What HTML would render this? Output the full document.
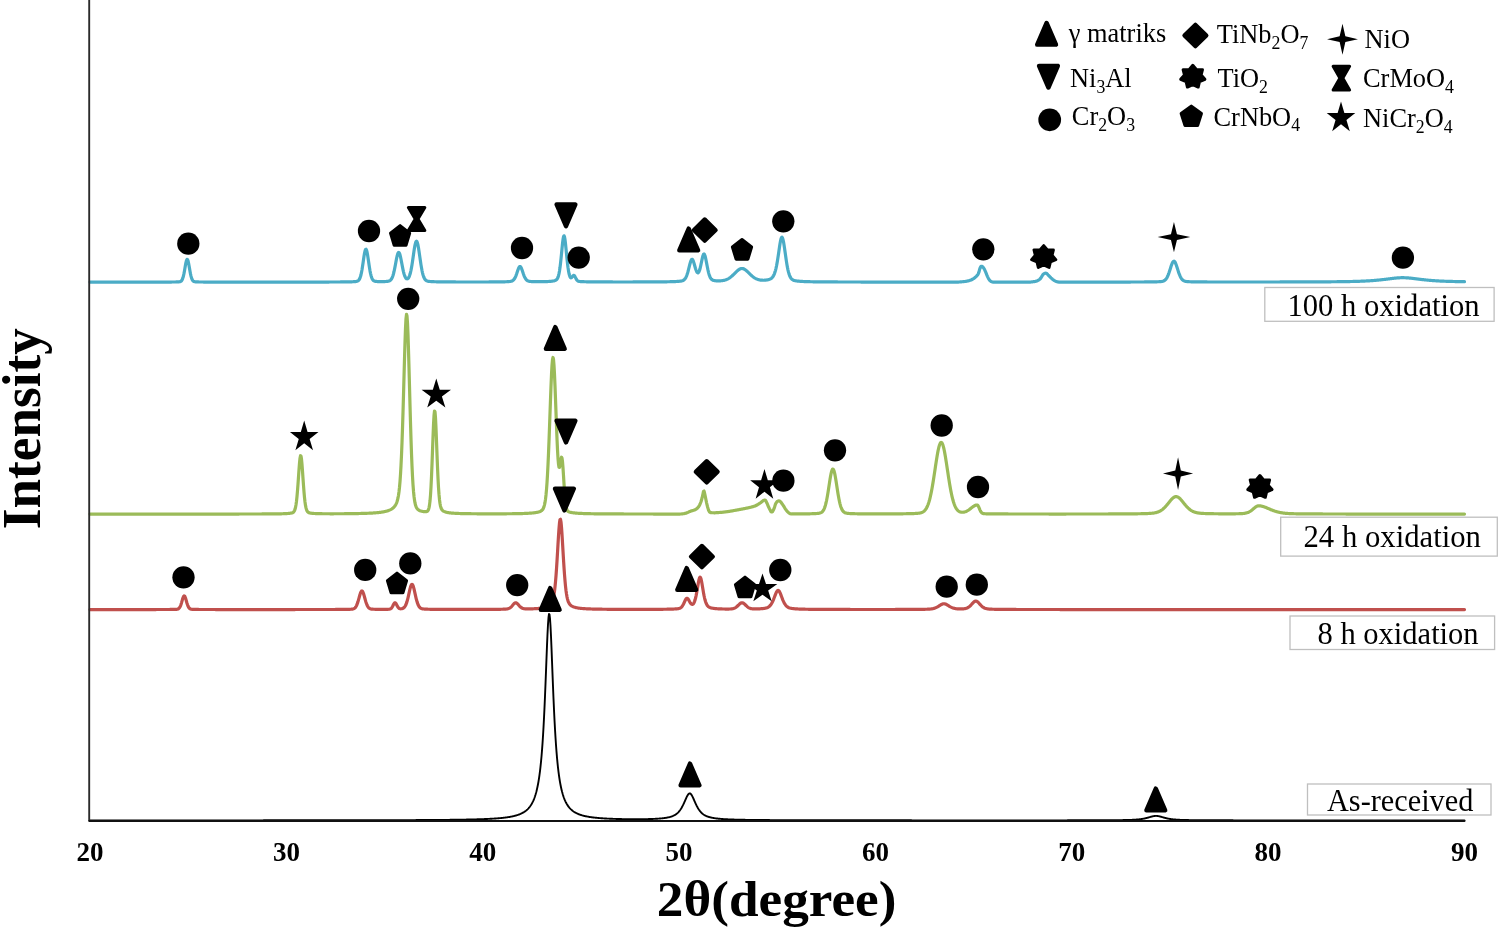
<!DOCTYPE html>
<html><head><meta charset="utf-8"><title>XRD patterns</title>
<style>html,body{margin:0;padding:0;background:#fff}svg{display:block}</style></head>
<body>
<svg width="1500" height="931" viewBox="0 0 1500 931" font-family="'Liberation Serif','Times New Roman',serif">
<defs>
<circle id="mc" r="11.15"/>
<path id="mtu" d="M0,-10.85 L9.4,10.85 L-9.4,10.85Z" stroke="#000" stroke-width="4.4" stroke-linejoin="round"/>
<path id="mtd" d="M0,10.85 L9.4,-10.85 L-9.4,-10.85Z" stroke="#000" stroke-width="4.4" stroke-linejoin="round"/>
<path id="md" d="M0,-10.8 L11.05,0 L0,10.8 L-11.05,0Z" stroke="#000" stroke-width="4" stroke-linejoin="round"/>
<path id="mp" d="M0.00,-9.85 L9.60,-2.32 L5.94,9.85 L-5.94,9.85 L-9.60,-2.32Z" stroke="#000" stroke-width="3" stroke-linejoin="round"/>
<path id="mh" d="M-8.25,-11.55 L8.25,-11.55 L1.4,0 L8.25,11.55 L-8.25,11.55 L-1.4,0Z" stroke="#000" stroke-width="3" stroke-linejoin="round"/>
<path id="ms5" d="M0.00,-16.50 L3.37,-5.10 L14.27,-5.10 L5.45,1.95 L8.82,13.35 L0.00,6.30 L-8.82,13.35 L-5.45,1.95 L-14.27,-5.10 L-3.37,-5.10Z"/>
<path id="ms4" d="M0,-15.5 L2.85,-2.85 L15.5,0 L2.85,2.85 L0,15.5 L-2.85,2.85 L-15.5,0 L-2.85,-2.85Z"/>
<path id="ms8" d="M0.00,-11.40 L3.71,-7.09 L9.69,-7.11 L8.34,-1.75 L12.09,2.54 L6.69,4.90 L5.38,10.27 L0.00,7.87 L-5.38,10.27 L-6.69,4.90 L-12.09,2.54 L-8.34,-1.75 L-9.69,-7.11 L-3.71,-7.09Z" stroke="#000" stroke-width="3" stroke-linejoin="round"/>
</defs>
<rect width="1500" height="931" fill="#fff"/>
<g fill="none" stroke-linejoin="round" stroke-linecap="round">
<path d="M90.0,820.37 L90.5,820.37 L91.0,820.37 L91.5,820.37 L92.0,820.37 L92.5,820.37 L93.0,820.37 L93.5,820.37 L94.0,820.37 L94.5,820.37 L95.0,820.37 L95.5,820.37 L96.0,820.37 L96.5,820.37 L97.0,820.37 L97.5,820.37 L98.0,820.37 L98.5,820.37 L99.0,820.37 L99.5,820.37 L100.0,820.37 L100.5,820.37 L101.0,820.37 L101.5,820.37 L102.0,820.37 L102.5,820.37 L103.0,820.37 L103.5,820.37 L104.0,820.37 L104.5,820.37 L105.0,820.37 L105.5,820.37 L106.0,820.37 L106.5,820.37 L107.0,820.37 L107.5,820.37 L108.0,820.37 L108.5,820.37 L109.0,820.37 L109.5,820.37 L110.0,820.37 L110.5,820.37 L111.0,820.37 L111.5,820.37 L112.0,820.37 L112.5,820.37 L113.0,820.37 L113.5,820.37 L114.0,820.37 L114.5,820.37 L115.0,820.37 L115.5,820.37 L116.0,820.37 L116.5,820.37 L117.0,820.37 L117.5,820.37 L118.0,820.37 L118.5,820.37 L119.0,820.37 L119.5,820.37 L120.0,820.37 L120.5,820.37 L121.0,820.37 L121.5,820.37 L122.0,820.37 L122.5,820.37 L123.0,820.37 L123.5,820.37 L124.0,820.37 L124.5,820.37 L125.0,820.36 L125.5,820.36 L126.0,820.36 L126.5,820.36 L127.0,820.36 L127.5,820.36 L128.0,820.36 L128.5,820.36 L129.0,820.36 L129.5,820.36 L130.0,820.36 L130.5,820.36 L131.0,820.36 L131.5,820.36 L132.0,820.36 L132.5,820.36 L133.0,820.36 L133.5,820.36 L134.0,820.36 L134.5,820.36 L135.0,820.36 L135.5,820.36 L136.0,820.36 L136.5,820.36 L137.0,820.36 L137.5,820.36 L138.0,820.36 L138.5,820.36 L139.0,820.36 L139.5,820.36 L140.0,820.36 L140.5,820.36 L141.0,820.36 L141.5,820.36 L142.0,820.36 L142.5,820.36 L143.0,820.36 L143.5,820.36 L144.0,820.36 L144.5,820.36 L145.0,820.36 L145.5,820.36 L146.0,820.36 L146.5,820.36 L147.0,820.36 L147.5,820.36 L148.0,820.36 L148.5,820.36 L149.0,820.36 L149.5,820.36 L150.0,820.36 L150.5,820.36 L151.0,820.36 L151.5,820.36 L152.0,820.36 L152.5,820.36 L153.0,820.36 L153.5,820.36 L154.0,820.36 L154.5,820.36 L155.0,820.36 L155.5,820.36 L156.0,820.36 L156.5,820.36 L157.0,820.36 L157.5,820.36 L158.0,820.36 L158.5,820.36 L159.0,820.36 L159.5,820.36 L160.0,820.36 L160.5,820.36 L161.0,820.36 L161.5,820.36 L162.0,820.36 L162.5,820.36 L163.0,820.36 L163.5,820.36 L164.0,820.36 L164.5,820.36 L165.0,820.36 L165.5,820.36 L166.0,820.36 L166.5,820.36 L167.0,820.36 L167.5,820.36 L168.0,820.36 L168.5,820.36 L169.0,820.36 L169.5,820.36 L170.0,820.36 L170.5,820.36 L171.0,820.36 L171.5,820.36 L172.0,820.36 L172.5,820.36 L173.0,820.36 L173.5,820.36 L174.0,820.36 L174.5,820.36 L175.0,820.36 L175.5,820.36 L176.0,820.36 L176.5,820.36 L177.0,820.35 L177.5,820.35 L178.0,820.35 L178.5,820.35 L179.0,820.35 L179.5,820.35 L180.0,820.35 L180.5,820.35 L181.0,820.35 L181.5,820.35 L182.0,820.35 L182.5,820.35 L183.0,820.35 L183.5,820.35 L184.0,820.35 L184.5,820.35 L185.0,820.35 L185.5,820.35 L186.0,820.35 L186.5,820.35 L187.0,820.35 L187.5,820.35 L188.0,820.35 L188.5,820.35 L189.0,820.35 L189.5,820.35 L190.0,820.35 L190.5,820.35 L191.0,820.35 L191.5,820.35 L192.0,820.35 L192.5,820.35 L193.0,820.35 L193.5,820.35 L194.0,820.35 L194.5,820.35 L195.0,820.35 L195.5,820.35 L196.0,820.35 L196.5,820.35 L197.0,820.35 L197.5,820.35 L198.0,820.35 L198.5,820.35 L199.0,820.35 L199.5,820.35 L200.0,820.35 L200.5,820.35 L201.0,820.35 L201.5,820.35 L202.0,820.35 L202.5,820.35 L203.0,820.35 L203.5,820.35 L204.0,820.35 L204.5,820.35 L205.0,820.35 L205.5,820.35 L206.0,820.35 L206.5,820.35 L207.0,820.35 L207.5,820.35 L208.0,820.35 L208.5,820.35 L209.0,820.35 L209.5,820.35 L210.0,820.35 L210.5,820.35 L211.0,820.35 L211.5,820.35 L212.0,820.35 L212.5,820.35 L213.0,820.35 L213.5,820.35 L214.0,820.34 L214.5,820.34 L215.0,820.34 L215.5,820.34 L216.0,820.34 L216.5,820.34 L217.0,820.34 L217.5,820.34 L218.0,820.34 L218.5,820.34 L219.0,820.34 L219.5,820.34 L220.0,820.34 L220.5,820.34 L221.0,820.34 L221.5,820.34 L222.0,820.34 L222.5,820.34 L223.0,820.34 L223.5,820.34 L224.0,820.34 L224.5,820.34 L225.0,820.34 L225.5,820.34 L226.0,820.34 L226.5,820.34 L227.0,820.34 L227.5,820.34 L228.0,820.34 L228.5,820.34 L229.0,820.34 L229.5,820.34 L230.0,820.34 L230.5,820.34 L231.0,820.34 L231.5,820.34 L232.0,820.34 L232.5,820.34 L233.0,820.34 L233.5,820.34 L234.0,820.34 L234.5,820.34 L235.0,820.34 L235.5,820.34 L236.0,820.34 L236.5,820.34 L237.0,820.34 L237.5,820.34 L238.0,820.34 L238.5,820.34 L239.0,820.34 L239.5,820.34 L240.0,820.34 L240.5,820.34 L241.0,820.34 L241.5,820.33 L242.0,820.33 L242.5,820.33 L243.0,820.33 L243.5,820.33 L244.0,820.33 L244.5,820.33 L245.0,820.33 L245.5,820.33 L246.0,820.33 L246.5,820.33 L247.0,820.33 L247.5,820.33 L248.0,820.33 L248.5,820.33 L249.0,820.33 L249.5,820.33 L250.0,820.33 L250.5,820.33 L251.0,820.33 L251.5,820.33 L252.0,820.33 L252.5,820.33 L253.0,820.33 L253.5,820.33 L254.0,820.33 L254.5,820.33 L255.0,820.33 L255.5,820.33 L256.0,820.33 L256.5,820.33 L257.0,820.33 L257.5,820.33 L258.0,820.33 L258.5,820.33 L259.0,820.33 L259.5,820.33 L260.0,820.33 L260.5,820.33 L261.0,820.33 L261.5,820.33 L262.0,820.33 L262.5,820.33 L263.0,820.33 L263.5,820.32 L264.0,820.32 L264.5,820.32 L265.0,820.32 L265.5,820.32 L266.0,820.32 L266.5,820.32 L267.0,820.32 L267.5,820.32 L268.0,820.32 L268.5,820.32 L269.0,820.32 L269.5,820.32 L270.0,820.32 L270.5,820.32 L271.0,820.32 L271.5,820.32 L272.0,820.32 L272.5,820.32 L273.0,820.32 L273.5,820.32 L274.0,820.32 L274.5,820.32 L275.0,820.32 L275.5,820.32 L276.0,820.32 L276.5,820.32 L277.0,820.32 L277.5,820.32 L278.0,820.32 L278.5,820.32 L279.0,820.32 L279.5,820.32 L280.0,820.32 L280.5,820.32 L281.0,820.32 L281.5,820.31 L282.0,820.31 L282.5,820.31 L283.0,820.31 L283.5,820.31 L284.0,820.31 L284.5,820.31 L285.0,820.31 L285.5,820.31 L286.0,820.31 L286.5,820.31 L287.0,820.31 L287.5,820.31 L288.0,820.31 L288.5,820.31 L289.0,820.31 L289.5,820.31 L290.0,820.31 L290.5,820.31 L291.0,820.31 L291.5,820.31 L292.0,820.31 L292.5,820.31 L293.0,820.31 L293.5,820.31 L294.0,820.31 L294.5,820.31 L295.0,820.31 L295.5,820.31 L296.0,820.31 L296.5,820.30 L297.0,820.30 L297.5,820.30 L298.0,820.30 L298.5,820.30 L299.0,820.30 L299.5,820.30 L300.0,820.30 L300.5,820.30 L301.0,820.30 L301.5,820.30 L302.0,820.30 L302.5,820.30 L303.0,820.30 L303.5,820.30 L304.0,820.30 L304.5,820.30 L305.0,820.30 L305.5,820.30 L306.0,820.30 L306.5,820.30 L307.0,820.30 L307.5,820.30 L308.0,820.30 L308.5,820.30 L309.0,820.30 L309.5,820.29 L310.0,820.29 L310.5,820.29 L311.0,820.29 L311.5,820.29 L312.0,820.29 L312.5,820.29 L313.0,820.29 L313.5,820.29 L314.0,820.29 L314.5,820.29 L315.0,820.29 L315.5,820.29 L316.0,820.29 L316.5,820.29 L317.0,820.29 L317.5,820.29 L318.0,820.29 L318.5,820.29 L319.0,820.29 L319.5,820.29 L320.0,820.29 L320.5,820.28 L321.0,820.28 L321.5,820.28 L322.0,820.28 L322.5,820.28 L323.0,820.28 L323.5,820.28 L324.0,820.28 L324.5,820.28 L325.0,820.28 L325.5,820.28 L326.0,820.28 L326.5,820.28 L327.0,820.28 L327.5,820.28 L328.0,820.28 L328.5,820.28 L329.0,820.28 L329.5,820.28 L330.0,820.28 L330.5,820.27 L331.0,820.27 L331.5,820.27 L332.0,820.27 L332.5,820.27 L333.0,820.27 L333.5,820.27 L334.0,820.27 L334.5,820.27 L335.0,820.27 L335.5,820.27 L336.0,820.27 L336.5,820.27 L337.0,820.27 L337.5,820.27 L338.0,820.27 L338.5,820.27 L339.0,820.26 L339.5,820.26 L340.0,820.26 L340.5,820.26 L341.0,820.26 L341.5,820.26 L342.0,820.26 L342.5,820.26 L343.0,820.26 L343.5,820.26 L344.0,820.26 L344.5,820.26 L345.0,820.26 L345.5,820.26 L346.0,820.26 L346.5,820.25 L347.0,820.25 L347.5,820.25 L348.0,820.25 L348.5,820.25 L349.0,820.25 L349.5,820.25 L350.0,820.25 L350.5,820.25 L351.0,820.25 L351.5,820.25 L352.0,820.25 L352.5,820.25 L353.0,820.25 L353.5,820.24 L354.0,820.24 L354.5,820.24 L355.0,820.24 L355.5,820.24 L356.0,820.24 L356.5,820.24 L357.0,820.24 L357.5,820.24 L358.0,820.24 L358.5,820.24 L359.0,820.24 L359.5,820.23 L360.0,820.23 L360.5,820.23 L361.0,820.23 L361.5,820.23 L362.0,820.23 L362.5,820.23 L363.0,820.23 L363.5,820.23 L364.0,820.23 L364.5,820.23 L365.0,820.23 L365.5,820.22 L366.0,820.22 L366.5,820.22 L367.0,820.22 L367.5,820.22 L368.0,820.22 L368.5,820.22 L369.0,820.22 L369.5,820.22 L370.0,820.22 L370.5,820.21 L371.0,820.21 L371.5,820.21 L372.0,820.21 L372.5,820.21 L373.0,820.21 L373.5,820.21 L374.0,820.21 L374.5,820.21 L375.0,820.21 L375.5,820.20 L376.0,820.20 L376.5,820.20 L377.0,820.20 L377.5,820.20 L378.0,820.20 L378.5,820.20 L379.0,820.20 L379.5,820.20 L380.0,820.19 L380.5,820.19 L381.0,820.19 L381.5,820.19 L382.0,820.19 L382.5,820.19 L383.0,820.19 L383.5,820.19 L384.0,820.18 L384.5,820.18 L385.0,820.18 L385.5,820.18 L386.0,820.18 L386.5,820.18 L387.0,820.18 L387.5,820.18 L388.0,820.17 L388.5,820.17 L389.0,820.17 L389.5,820.17 L390.0,820.17 L390.5,820.17 L391.0,820.17 L391.5,820.16 L392.0,820.16 L392.5,820.16 L393.0,820.16 L393.5,820.16 L394.0,820.16 L394.5,820.16 L395.0,820.15 L395.5,820.15 L396.0,820.15 L396.5,820.15 L397.0,820.15 L397.5,820.15 L398.0,820.14 L398.5,820.14 L399.0,820.14 L399.5,820.14 L400.0,820.14 L400.5,820.14 L401.0,820.13 L401.5,820.13 L402.0,820.13 L402.5,820.13 L403.0,820.13 L403.5,820.13 L404.0,820.12 L404.5,820.12 L405.0,820.12 L405.5,820.12 L406.0,820.12 L406.5,820.11 L407.0,820.11 L407.5,820.11 L408.0,820.11 L408.5,820.11 L409.0,820.10 L409.5,820.10 L410.0,820.10 L410.5,820.10 L411.0,820.10 L411.5,820.09 L412.0,820.09 L412.5,820.09 L413.0,820.09 L413.5,820.08 L414.0,820.08 L414.5,820.08 L415.0,820.08 L415.5,820.08 L416.0,820.07 L416.5,820.07 L417.0,820.07 L417.5,820.07 L418.0,820.06 L418.5,820.06 L419.0,820.06 L419.5,820.06 L420.0,820.05 L420.5,820.05 L421.0,820.05 L421.5,820.05 L422.0,820.04 L422.5,820.04 L423.0,820.04 L423.5,820.03 L424.0,820.03 L424.5,820.03 L425.0,820.03 L425.5,820.02 L426.0,820.02 L426.5,820.02 L427.0,820.01 L427.5,820.01 L428.0,820.01 L428.5,820.00 L429.0,820.00 L429.5,820.00 L430.0,819.99 L430.5,819.99 L431.0,819.99 L431.5,819.98 L432.0,819.98 L432.5,819.98 L433.0,819.97 L433.5,819.97 L434.0,819.97 L434.5,819.96 L435.0,819.96 L435.5,819.96 L436.0,819.95 L436.5,819.95 L437.0,819.94 L437.5,819.94 L438.0,819.94 L438.5,819.93 L439.0,819.93 L439.5,819.92 L440.0,819.92 L440.5,819.91 L441.0,819.91 L441.5,819.91 L442.0,819.90 L442.5,819.90 L443.0,819.89 L443.5,819.89 L444.0,819.88 L444.5,819.88 L445.0,819.87 L445.5,819.87 L446.0,819.86 L446.5,819.86 L447.0,819.85 L447.5,819.85 L448.0,819.84 L448.5,819.84 L449.0,819.83 L449.5,819.83 L450.0,819.82 L450.5,819.81 L451.0,819.81 L451.5,819.80 L452.0,819.80 L452.5,819.79 L453.0,819.78 L453.5,819.78 L454.0,819.77 L454.5,819.77 L455.0,819.76 L455.5,819.75 L456.0,819.75 L456.5,819.74 L457.0,819.73 L457.5,819.72 L458.0,819.72 L458.5,819.71 L459.0,819.70 L459.5,819.69 L460.0,819.69 L460.5,819.68 L461.0,819.67 L461.5,819.66 L462.0,819.65 L462.5,819.65 L463.0,819.64 L463.5,819.63 L464.0,819.62 L464.5,819.61 L465.0,819.60 L465.5,819.59 L466.0,819.58 L466.5,819.57 L467.0,819.56 L467.5,819.55 L468.0,819.54 L468.5,819.53 L469.0,819.52 L469.5,819.51 L470.0,819.50 L470.5,819.49 L471.0,819.48 L471.5,819.47 L472.0,819.46 L472.5,819.44 L473.0,819.43 L473.5,819.42 L474.0,819.41 L474.5,819.39 L475.0,819.38 L475.5,819.37 L476.0,819.35 L476.5,819.34 L477.0,819.32 L477.5,819.31 L478.0,819.29 L478.5,819.28 L479.0,819.26 L479.5,819.25 L480.0,819.23 L480.5,819.21 L481.0,819.20 L481.5,819.18 L482.0,819.16 L482.5,819.14 L483.0,819.12 L483.5,819.11 L484.0,819.09 L484.5,819.07 L485.0,819.05 L485.5,819.02 L486.0,819.00 L486.5,818.98 L487.0,818.96 L487.5,818.94 L488.0,818.91 L488.5,818.89 L489.0,818.86 L489.5,818.84 L490.0,818.81 L490.5,818.79 L491.0,818.76 L491.5,818.73 L492.0,818.70 L492.5,818.67 L493.0,818.64 L493.5,818.61 L494.0,818.58 L494.5,818.55 L495.0,818.51 L495.5,818.48 L496.0,818.44 L496.5,818.41 L497.0,818.37 L497.5,818.33 L498.0,818.29 L498.5,818.25 L499.0,818.21 L499.5,818.17 L500.0,818.12 L500.5,818.08 L501.0,818.03 L501.5,817.98 L502.0,817.93 L502.5,817.88 L503.0,817.82 L503.5,817.77 L504.0,817.71 L504.5,817.65 L505.0,817.59 L505.5,817.53 L506.0,817.46 L506.5,817.40 L507.0,817.33 L507.5,817.25 L508.0,817.18 L508.5,817.10 L509.0,817.02 L509.5,816.94 L510.0,816.85 L510.5,816.76 L511.0,816.67 L511.5,816.57 L512.0,816.47 L512.5,816.37 L513.0,816.26 L513.5,816.14 L514.0,816.03 L514.5,815.90 L515.0,815.77 L515.5,815.64 L516.0,815.50 L516.5,815.35 L517.0,815.20 L517.5,815.04 L518.0,814.87 L518.5,814.70 L519.0,814.51 L519.5,814.32 L520.0,814.12 L520.5,813.91 L521.0,813.68 L521.5,813.45 L522.0,813.20 L522.5,812.94 L523.0,812.66 L523.5,812.37 L524.0,812.07 L524.5,811.74 L525.0,811.40 L525.5,811.03 L526.0,810.64 L526.5,810.23 L527.0,809.80 L527.5,809.33 L528.0,808.83 L528.5,808.30 L529.0,807.74 L529.5,807.13 L530.0,806.48 L530.5,805.78 L531.0,805.03 L531.5,804.22 L532.0,803.34 L532.5,802.40 L533.0,801.38 L533.5,800.27 L534.0,799.07 L534.5,797.75 L535.0,796.32 L535.5,794.76 L536.0,793.04 L536.5,791.16 L537.0,789.09 L537.5,786.80 L538.0,784.28 L538.5,781.48 L539.0,778.36 L539.5,774.90 L540.0,771.04 L540.5,766.72 L541.0,761.89 L541.5,756.47 L542.0,750.40 L542.5,743.59 L543.0,735.97 L543.5,727.47 L544.0,718.02 L544.5,707.60 L545.0,696.24 L545.5,684.05 L546.0,671.26 L546.5,658.25 L547.0,645.59 L547.5,634.00 L548.0,624.34 L548.5,617.45 L549.0,614.01 L549.5,614.40 L550.0,618.57 L550.5,626.08 L551.0,636.19 L551.5,648.06 L552.0,660.84 L552.5,673.84 L553.0,686.54 L553.5,698.57 L554.0,709.75 L554.5,719.98 L555.0,729.23 L555.5,737.55 L556.0,745.01 L556.5,751.66 L557.0,757.59 L557.5,762.88 L558.0,767.61 L558.5,771.83 L559.0,775.61 L559.5,778.99 L560.0,782.04 L560.5,784.78 L561.0,787.26 L561.5,789.50 L562.0,791.53 L562.5,793.37 L563.0,795.06 L563.5,796.59 L564.0,798.00 L564.5,799.28 L565.0,800.47 L565.5,801.56 L566.0,802.56 L566.5,803.49 L567.0,804.35 L567.5,805.14 L568.0,805.88 L568.5,806.57 L569.0,807.21 L569.5,807.81 L570.0,808.37 L570.5,808.89 L571.0,809.38 L571.5,809.84 L572.0,810.27 L572.5,810.68 L573.0,811.06 L573.5,811.42 L574.0,811.76 L574.5,812.08 L575.0,812.38 L575.5,812.67 L576.0,812.94 L576.5,813.19 L577.0,813.44 L577.5,813.67 L578.0,813.89 L578.5,814.10 L579.0,814.30 L579.5,814.49 L580.0,814.67 L580.5,814.84 L581.0,815.00 L581.5,815.16 L582.0,815.31 L582.5,815.46 L583.0,815.59 L583.5,815.72 L584.0,815.85 L584.5,815.97 L585.0,816.09 L585.5,816.20 L586.0,816.30 L586.5,816.41 L587.0,816.51 L587.5,816.60 L588.0,816.69 L588.5,816.78 L589.0,816.86 L589.5,816.94 L590.0,817.02 L590.5,817.10 L591.0,817.17 L591.5,817.24 L592.0,817.31 L592.5,817.37 L593.0,817.44 L593.5,817.50 L594.0,817.56 L594.5,817.61 L595.0,817.67 L595.5,817.72 L596.0,817.77 L596.5,817.82 L597.0,817.87 L597.5,817.92 L598.0,817.96 L598.5,818.01 L599.0,818.05 L599.5,818.09 L600.0,818.13 L600.5,818.17 L601.0,818.21 L601.5,818.24 L602.0,818.28 L602.5,818.31 L603.0,818.34 L603.5,818.38 L604.0,818.41 L604.5,818.44 L605.0,818.47 L605.5,818.49 L606.0,818.52 L606.5,818.55 L607.0,818.58 L607.5,818.60 L608.0,818.62 L608.5,818.65 L609.0,818.67 L609.5,818.69 L610.0,818.72 L610.5,818.74 L611.0,818.76 L611.5,818.78 L612.0,818.80 L612.5,818.82 L613.0,818.83 L613.5,818.85 L614.0,818.87 L614.5,818.88 L615.0,818.90 L615.5,818.92 L616.0,818.93 L616.5,818.95 L617.0,818.96 L617.5,818.97 L618.0,818.99 L618.5,819.00 L619.0,819.01 L619.5,819.02 L620.0,819.04 L620.5,819.05 L621.0,819.06 L621.5,819.07 L622.0,819.08 L622.5,819.09 L623.0,819.10 L623.5,819.11 L624.0,819.11 L624.5,819.12 L625.0,819.13 L625.5,819.14 L626.0,819.14 L626.5,819.15 L627.0,819.16 L627.5,819.16 L628.0,819.17 L628.5,819.18 L629.0,819.18 L629.5,819.18 L630.0,819.19 L630.5,819.19 L631.0,819.20 L631.5,819.20 L632.0,819.20 L632.5,819.21 L633.0,819.21 L633.5,819.21 L634.0,819.21 L634.5,819.21 L635.0,819.21 L635.5,819.21 L636.0,819.21 L636.5,819.21 L637.0,819.21 L637.5,819.21 L638.0,819.21 L638.5,819.21 L639.0,819.21 L639.5,819.20 L640.0,819.20 L640.5,819.20 L641.0,819.19 L641.5,819.19 L642.0,819.18 L642.5,819.18 L643.0,819.17 L643.5,819.17 L644.0,819.16 L644.5,819.15 L645.0,819.14 L645.5,819.14 L646.0,819.13 L646.5,819.12 L647.0,819.11 L647.5,819.10 L648.0,819.09 L648.5,819.07 L649.0,819.06 L649.5,819.05 L650.0,819.03 L650.5,819.02 L651.0,819.00 L651.5,818.98 L652.0,818.97 L652.5,818.95 L653.0,818.93 L653.5,818.91 L654.0,818.88 L654.5,818.86 L655.0,818.84 L655.5,818.81 L656.0,818.78 L656.5,818.76 L657.0,818.73 L657.5,818.69 L658.0,818.66 L658.5,818.63 L659.0,818.59 L659.5,818.55 L660.0,818.51 L660.5,818.47 L661.0,818.42 L661.5,818.38 L662.0,818.33 L662.5,818.27 L663.0,818.22 L663.5,818.16 L664.0,818.10 L664.5,818.03 L665.0,817.96 L665.5,817.88 L666.0,817.81 L666.5,817.72 L667.0,817.63 L667.5,817.54 L668.0,817.44 L668.5,817.33 L669.0,817.21 L669.5,817.09 L670.0,816.96 L670.5,816.81 L671.0,816.66 L671.5,816.50 L672.0,816.32 L672.5,816.13 L673.0,815.92 L673.5,815.69 L674.0,815.45 L674.5,815.19 L675.0,814.90 L675.5,814.59 L676.0,814.25 L676.5,813.88 L677.0,813.48 L677.5,813.04 L678.0,812.57 L678.5,812.06 L679.0,811.50 L679.5,810.90 L680.0,810.24 L680.5,809.54 L681.0,808.78 L681.5,807.96 L682.0,807.09 L682.5,806.16 L683.0,805.18 L683.5,804.14 L684.0,803.06 L684.5,801.94 L685.0,800.80 L685.5,799.65 L686.0,798.51 L686.5,797.41 L687.0,796.38 L687.5,795.45 L688.0,794.66 L688.5,794.04 L689.0,793.62 L689.5,793.42 L690.0,793.44 L690.5,793.69 L691.0,794.16 L691.5,794.82 L692.0,795.64 L692.5,796.60 L693.0,797.65 L693.5,798.76 L694.0,799.91 L694.5,801.07 L695.0,802.21 L695.5,803.33 L696.0,804.41 L696.5,805.44 L697.0,806.41 L697.5,807.33 L698.0,808.20 L698.5,809.01 L699.0,809.76 L699.5,810.45 L700.0,811.10 L700.5,811.70 L701.0,812.25 L701.5,812.76 L702.0,813.23 L702.5,813.66 L703.0,814.06 L703.5,814.43 L704.0,814.77 L704.5,815.08 L705.0,815.36 L705.5,815.63 L706.0,815.87 L706.5,816.10 L707.0,816.31 L707.5,816.50 L708.0,816.68 L708.5,816.85 L709.0,817.00 L709.5,817.15 L710.0,817.28 L710.5,817.41 L711.0,817.53 L711.5,817.64 L712.0,817.74 L712.5,817.84 L713.0,817.93 L713.5,818.02 L714.0,818.10 L714.5,818.18 L715.0,818.26 L715.5,818.33 L716.0,818.39 L716.5,818.46 L717.0,818.52 L717.5,818.57 L718.0,818.63 L718.5,818.68 L719.0,818.73 L719.5,818.78 L720.0,818.82 L720.5,818.87 L721.0,818.91 L721.5,818.95 L722.0,818.98 L722.5,819.02 L723.0,819.06 L723.5,819.09 L724.0,819.12 L724.5,819.15 L725.0,819.18 L725.5,819.21 L726.0,819.24 L726.5,819.26 L727.0,819.29 L727.5,819.31 L728.0,819.34 L728.5,819.36 L729.0,819.38 L729.5,819.40 L730.0,819.43 L730.5,819.45 L731.0,819.46 L731.5,819.48 L732.0,819.50 L732.5,819.52 L733.0,819.54 L733.5,819.55 L734.0,819.57 L734.5,819.58 L735.0,819.60 L735.5,819.61 L736.0,819.63 L736.5,819.64 L737.0,819.65 L737.5,819.67 L738.0,819.68 L738.5,819.69 L739.0,819.70 L739.5,819.71 L740.0,819.72 L740.5,819.74 L741.0,819.75 L741.5,819.76 L742.0,819.77 L742.5,819.78 L743.0,819.79 L743.5,819.79 L744.0,819.80 L744.5,819.81 L745.0,819.82 L745.5,819.83 L746.0,819.84 L746.5,819.85 L747.0,819.85 L747.5,819.86 L748.0,819.87 L748.5,819.87 L749.0,819.88 L749.5,819.89 L750.0,819.90 L750.5,819.90 L751.0,819.91 L751.5,819.91 L752.0,819.92 L752.5,819.93 L753.0,819.93 L753.5,819.94 L754.0,819.94 L754.5,819.95 L755.0,819.96 L755.5,819.96 L756.0,819.97 L756.5,819.97 L757.0,819.98 L757.5,819.98 L758.0,819.99 L758.5,819.99 L759.0,819.99 L759.5,820.00 L760.0,820.00 L760.5,820.01 L761.0,820.01 L761.5,820.02 L762.0,820.02 L762.5,820.02 L763.0,820.03 L763.5,820.03 L764.0,820.04 L764.5,820.04 L765.0,820.04 L765.5,820.05 L766.0,820.05 L766.5,820.05 L767.0,820.06 L767.5,820.06 L768.0,820.06 L768.5,820.07 L769.0,820.07 L769.5,820.07 L770.0,820.08 L770.5,820.08 L771.0,820.08 L771.5,820.09 L772.0,820.09 L772.5,820.09 L773.0,820.09 L773.5,820.10 L774.0,820.10 L774.5,820.10 L775.0,820.11 L775.5,820.11 L776.0,820.11 L776.5,820.11 L777.0,820.12 L777.5,820.12 L778.0,820.12 L778.5,820.12 L779.0,820.13 L779.5,820.13 L780.0,820.13 L780.5,820.13 L781.0,820.13 L781.5,820.14 L782.0,820.14 L782.5,820.14 L783.0,820.14 L783.5,820.14 L784.0,820.15 L784.5,820.15 L785.0,820.15 L785.5,820.15 L786.0,820.15 L786.5,820.16 L787.0,820.16 L787.5,820.16 L788.0,820.16 L788.5,820.16 L789.0,820.17 L789.5,820.17 L790.0,820.17 L790.5,820.17 L791.0,820.17 L791.5,820.17 L792.0,820.18 L792.5,820.18 L793.0,820.18 L793.5,820.18 L794.0,820.18 L794.5,820.18 L795.0,820.19 L795.5,820.19 L796.0,820.19 L796.5,820.19 L797.0,820.19 L797.5,820.19 L798.0,820.19 L798.5,820.20 L799.0,820.20 L799.5,820.20 L800.0,820.20 L800.5,820.20 L801.0,820.20 L801.5,820.20 L802.0,820.20 L802.5,820.21 L803.0,820.21 L803.5,820.21 L804.0,820.21 L804.5,820.21 L805.0,820.21 L805.5,820.21 L806.0,820.21 L806.5,820.22 L807.0,820.22 L807.5,820.22 L808.0,820.22 L808.5,820.22 L809.0,820.22 L809.5,820.22 L810.0,820.22 L810.5,820.22 L811.0,820.23 L811.5,820.23 L812.0,820.23 L812.5,820.23 L813.0,820.23 L813.5,820.23 L814.0,820.23 L814.5,820.23 L815.0,820.23 L815.5,820.23 L816.0,820.24 L816.5,820.24 L817.0,820.24 L817.5,820.24 L818.0,820.24 L818.5,820.24 L819.0,820.24 L819.5,820.24 L820.0,820.24 L820.5,820.24 L821.0,820.24 L821.5,820.25 L822.0,820.25 L822.5,820.25 L823.0,820.25 L823.5,820.25 L824.0,820.25 L824.5,820.25 L825.0,820.25 L825.5,820.25 L826.0,820.25 L826.5,820.25 L827.0,820.25 L827.5,820.25 L828.0,820.26 L828.5,820.26 L829.0,820.26 L829.5,820.26 L830.0,820.26 L830.5,820.26 L831.0,820.26 L831.5,820.26 L832.0,820.26 L832.5,820.26 L833.0,820.26 L833.5,820.26 L834.0,820.26 L834.5,820.26 L835.0,820.27 L835.5,820.27 L836.0,820.27 L836.5,820.27 L837.0,820.27 L837.5,820.27 L838.0,820.27 L838.5,820.27 L839.0,820.27 L839.5,820.27 L840.0,820.27 L840.5,820.27 L841.0,820.27 L841.5,820.27 L842.0,820.27 L842.5,820.27 L843.0,820.28 L843.5,820.28 L844.0,820.28 L844.5,820.28 L845.0,820.28 L845.5,820.28 L846.0,820.28 L846.5,820.28 L847.0,820.28 L847.5,820.28 L848.0,820.28 L848.5,820.28 L849.0,820.28 L849.5,820.28 L850.0,820.28 L850.5,820.28 L851.0,820.28 L851.5,820.28 L852.0,820.29 L852.5,820.29 L853.0,820.29 L853.5,820.29 L854.0,820.29 L854.5,820.29 L855.0,820.29 L855.5,820.29 L856.0,820.29 L856.5,820.29 L857.0,820.29 L857.5,820.29 L858.0,820.29 L858.5,820.29 L859.0,820.29 L859.5,820.29 L860.0,820.29 L860.5,820.29 L861.0,820.29 L861.5,820.29 L862.0,820.29 L862.5,820.29 L863.0,820.30 L863.5,820.30 L864.0,820.30 L864.5,820.30 L865.0,820.30 L865.5,820.30 L866.0,820.30 L866.5,820.30 L867.0,820.30 L867.5,820.30 L868.0,820.30 L868.5,820.30 L869.0,820.30 L869.5,820.30 L870.0,820.30 L870.5,820.30 L871.0,820.30 L871.5,820.30 L872.0,820.30 L872.5,820.30 L873.0,820.30 L873.5,820.30 L874.0,820.30 L874.5,820.30 L875.0,820.30 L875.5,820.30 L876.0,820.31 L876.5,820.31 L877.0,820.31 L877.5,820.31 L878.0,820.31 L878.5,820.31 L879.0,820.31 L879.5,820.31 L880.0,820.31 L880.5,820.31 L881.0,820.31 L881.5,820.31 L882.0,820.31 L882.5,820.31 L883.0,820.31 L883.5,820.31 L884.0,820.31 L884.5,820.31 L885.0,820.31 L885.5,820.31 L886.0,820.31 L886.5,820.31 L887.0,820.31 L887.5,820.31 L888.0,820.31 L888.5,820.31 L889.0,820.31 L889.5,820.31 L890.0,820.31 L890.5,820.31 L891.0,820.31 L891.5,820.31 L892.0,820.32 L892.5,820.32 L893.0,820.32 L893.5,820.32 L894.0,820.32 L894.5,820.32 L895.0,820.32 L895.5,820.32 L896.0,820.32 L896.5,820.32 L897.0,820.32 L897.5,820.32 L898.0,820.32 L898.5,820.32 L899.0,820.32 L899.5,820.32 L900.0,820.32 L900.5,820.32 L901.0,820.32 L901.5,820.32 L902.0,820.32 L902.5,820.32 L903.0,820.32 L903.5,820.32 L904.0,820.32 L904.5,820.32 L905.0,820.32 L905.5,820.32 L906.0,820.32 L906.5,820.32 L907.0,820.32 L907.5,820.32 L908.0,820.32 L908.5,820.32 L909.0,820.32 L909.5,820.32 L910.0,820.32 L910.5,820.32 L911.0,820.32 L911.5,820.32 L912.0,820.33 L912.5,820.33 L913.0,820.33 L913.5,820.33 L914.0,820.33 L914.5,820.33 L915.0,820.33 L915.5,820.33 L916.0,820.33 L916.5,820.33 L917.0,820.33 L917.5,820.33 L918.0,820.33 L918.5,820.33 L919.0,820.33 L919.5,820.33 L920.0,820.33 L920.5,820.33 L921.0,820.33 L921.5,820.33 L922.0,820.33 L922.5,820.33 L923.0,820.33 L923.5,820.33 L924.0,820.33 L924.5,820.33 L925.0,820.33 L925.5,820.33 L926.0,820.33 L926.5,820.33 L927.0,820.33 L927.5,820.33 L928.0,820.33 L928.5,820.33 L929.0,820.33 L929.5,820.33 L930.0,820.33 L930.5,820.33 L931.0,820.33 L931.5,820.33 L932.0,820.33 L932.5,820.33 L933.0,820.33 L933.5,820.33 L934.0,820.33 L934.5,820.33 L935.0,820.33 L935.5,820.33 L936.0,820.33 L936.5,820.33 L937.0,820.33 L937.5,820.33 L938.0,820.33 L938.5,820.33 L939.0,820.33 L939.5,820.33 L940.0,820.33 L940.5,820.34 L941.0,820.34 L941.5,820.34 L942.0,820.34 L942.5,820.34 L943.0,820.34 L943.5,820.34 L944.0,820.34 L944.5,820.34 L945.0,820.34 L945.5,820.34 L946.0,820.34 L946.5,820.34 L947.0,820.34 L947.5,820.34 L948.0,820.34 L948.5,820.34 L949.0,820.34 L949.5,820.34 L950.0,820.34 L950.5,820.34 L951.0,820.34 L951.5,820.34 L952.0,820.34 L952.5,820.34 L953.0,820.34 L953.5,820.34 L954.0,820.34 L954.5,820.34 L955.0,820.34 L955.5,820.34 L956.0,820.34 L956.5,820.34 L957.0,820.34 L957.5,820.34 L958.0,820.34 L958.5,820.34 L959.0,820.34 L959.5,820.34 L960.0,820.34 L960.5,820.34 L961.0,820.34 L961.5,820.34 L962.0,820.34 L962.5,820.34 L963.0,820.34 L963.5,820.34 L964.0,820.34 L964.5,820.34 L965.0,820.34 L965.5,820.34 L966.0,820.34 L966.5,820.34 L967.0,820.34 L967.5,820.34 L968.0,820.34 L968.5,820.34 L969.0,820.34 L969.5,820.34 L970.0,820.34 L970.5,820.34 L971.0,820.34 L971.5,820.34 L972.0,820.34 L972.5,820.34 L973.0,820.34 L973.5,820.34 L974.0,820.34 L974.5,820.34 L975.0,820.34 L975.5,820.34 L976.0,820.34 L976.5,820.34 L977.0,820.34 L977.5,820.34 L978.0,820.34 L978.5,820.34 L979.0,820.34 L979.5,820.34 L980.0,820.34 L980.5,820.34 L981.0,820.34 L981.5,820.34 L982.0,820.34 L982.5,820.34 L983.0,820.34 L983.5,820.34 L984.0,820.34 L984.5,820.34 L985.0,820.34 L985.5,820.34 L986.0,820.34 L986.5,820.34 L987.0,820.34 L987.5,820.34 L988.0,820.34 L988.5,820.34 L989.0,820.34 L989.5,820.34 L990.0,820.34 L990.5,820.34 L991.0,820.34 L991.5,820.34 L992.0,820.34 L992.5,820.34 L993.0,820.34 L993.5,820.34 L994.0,820.34 L994.5,820.34 L995.0,820.34 L995.5,820.34 L996.0,820.34 L996.5,820.34 L997.0,820.34 L997.5,820.34 L998.0,820.34 L998.5,820.34 L999.0,820.34 L999.5,820.34 L1000.0,820.34 L1000.5,820.34 L1001.0,820.34 L1001.5,820.34 L1002.0,820.34 L1002.5,820.34 L1003.0,820.34 L1003.5,820.34 L1004.0,820.34 L1004.5,820.34 L1005.0,820.34 L1005.5,820.34 L1006.0,820.34 L1006.5,820.34 L1007.0,820.34 L1007.5,820.34 L1008.0,820.34 L1008.5,820.34 L1009.0,820.34 L1009.5,820.34 L1010.0,820.34 L1010.5,820.34 L1011.0,820.34 L1011.5,820.34 L1012.0,820.34 L1012.5,820.34 L1013.0,820.34 L1013.5,820.34 L1014.0,820.34 L1014.5,820.34 L1015.0,820.34 L1015.5,820.34 L1016.0,820.34 L1016.5,820.34 L1017.0,820.34 L1017.5,820.34 L1018.0,820.34 L1018.5,820.34 L1019.0,820.34 L1019.5,820.34 L1020.0,820.34 L1020.5,820.34 L1021.0,820.34 L1021.5,820.34 L1022.0,820.34 L1022.5,820.34 L1023.0,820.34 L1023.5,820.34 L1024.0,820.34 L1024.5,820.34 L1025.0,820.34 L1025.5,820.34 L1026.0,820.34 L1026.5,820.34 L1027.0,820.34 L1027.5,820.34 L1028.0,820.34 L1028.5,820.34 L1029.0,820.34 L1029.5,820.34 L1030.0,820.34 L1030.5,820.34 L1031.0,820.34 L1031.5,820.34 L1032.0,820.34 L1032.5,820.34 L1033.0,820.34 L1033.5,820.34 L1034.0,820.34 L1034.5,820.34 L1035.0,820.34 L1035.5,820.34 L1036.0,820.34 L1036.5,820.34 L1037.0,820.34 L1037.5,820.34 L1038.0,820.34 L1038.5,820.34 L1039.0,820.34 L1039.5,820.34 L1040.0,820.34 L1040.5,820.34 L1041.0,820.34 L1041.5,820.34 L1042.0,820.34 L1042.5,820.34 L1043.0,820.34 L1043.5,820.34 L1044.0,820.34 L1044.5,820.34 L1045.0,820.34 L1045.5,820.34 L1046.0,820.34 L1046.5,820.34 L1047.0,820.34 L1047.5,820.34 L1048.0,820.34 L1048.5,820.34 L1049.0,820.34 L1049.5,820.34 L1050.0,820.34 L1050.5,820.34 L1051.0,820.34 L1051.5,820.34 L1052.0,820.34 L1052.5,820.33 L1053.0,820.33 L1053.5,820.33 L1054.0,820.33 L1054.5,820.33 L1055.0,820.33 L1055.5,820.33 L1056.0,820.33 L1056.5,820.33 L1057.0,820.33 L1057.5,820.33 L1058.0,820.33 L1058.5,820.33 L1059.0,820.33 L1059.5,820.33 L1060.0,820.33 L1060.5,820.33 L1061.0,820.33 L1061.5,820.33 L1062.0,820.33 L1062.5,820.33 L1063.0,820.33 L1063.5,820.33 L1064.0,820.33 L1064.5,820.33 L1065.0,820.33 L1065.5,820.33 L1066.0,820.33 L1066.5,820.33 L1067.0,820.33 L1067.5,820.32 L1068.0,820.32 L1068.5,820.32 L1069.0,820.32 L1069.5,820.32 L1070.0,820.32 L1070.5,820.32 L1071.0,820.32 L1071.5,820.32 L1072.0,820.32 L1072.5,820.32 L1073.0,820.32 L1073.5,820.32 L1074.0,820.32 L1074.5,820.32 L1075.0,820.32 L1075.5,820.32 L1076.0,820.32 L1076.5,820.32 L1077.0,820.31 L1077.5,820.31 L1078.0,820.31 L1078.5,820.31 L1079.0,820.31 L1079.5,820.31 L1080.0,820.31 L1080.5,820.31 L1081.0,820.31 L1081.5,820.31 L1082.0,820.31 L1082.5,820.31 L1083.0,820.31 L1083.5,820.31 L1084.0,820.30 L1084.5,820.30 L1085.0,820.30 L1085.5,820.30 L1086.0,820.30 L1086.5,820.30 L1087.0,820.30 L1087.5,820.30 L1088.0,820.30 L1088.5,820.30 L1089.0,820.29 L1089.5,820.29 L1090.0,820.29 L1090.5,820.29 L1091.0,820.29 L1091.5,820.29 L1092.0,820.29 L1092.5,820.29 L1093.0,820.29 L1093.5,820.28 L1094.0,820.28 L1094.5,820.28 L1095.0,820.28 L1095.5,820.28 L1096.0,820.28 L1096.5,820.28 L1097.0,820.27 L1097.5,820.27 L1098.0,820.27 L1098.5,820.27 L1099.0,820.27 L1099.5,820.27 L1100.0,820.26 L1100.5,820.26 L1101.0,820.26 L1101.5,820.26 L1102.0,820.26 L1102.5,820.25 L1103.0,820.25 L1103.5,820.25 L1104.0,820.25 L1104.5,820.24 L1105.0,820.24 L1105.5,820.24 L1106.0,820.24 L1106.5,820.23 L1107.0,820.23 L1107.5,820.23 L1108.0,820.23 L1108.5,820.22 L1109.0,820.22 L1109.5,820.22 L1110.0,820.21 L1110.5,820.21 L1111.0,820.21 L1111.5,820.20 L1112.0,820.20 L1112.5,820.20 L1113.0,820.19 L1113.5,820.19 L1114.0,820.18 L1114.5,820.18 L1115.0,820.17 L1115.5,820.17 L1116.0,820.16 L1116.5,820.16 L1117.0,820.15 L1117.5,820.15 L1118.0,820.14 L1118.5,820.14 L1119.0,820.13 L1119.5,820.13 L1120.0,820.12 L1120.5,820.11 L1121.0,820.11 L1121.5,820.10 L1122.0,820.09 L1122.5,820.08 L1123.0,820.07 L1123.5,820.07 L1124.0,820.06 L1124.5,820.05 L1125.0,820.04 L1125.5,820.03 L1126.0,820.02 L1126.5,820.01 L1127.0,819.99 L1127.5,819.98 L1128.0,819.97 L1128.5,819.95 L1129.0,819.94 L1129.5,819.92 L1130.0,819.91 L1130.5,819.89 L1131.0,819.87 L1131.5,819.85 L1132.0,819.83 L1132.5,819.81 L1133.0,819.78 L1133.5,819.76 L1134.0,819.73 L1134.5,819.70 L1135.0,819.67 L1135.5,819.64 L1136.0,819.60 L1136.5,819.57 L1137.0,819.53 L1137.5,819.48 L1138.0,819.44 L1138.5,819.39 L1139.0,819.34 L1139.5,819.28 L1140.0,819.22 L1140.5,819.16 L1141.0,819.09 L1141.5,819.01 L1142.0,818.94 L1142.5,818.86 L1143.0,818.77 L1143.5,818.68 L1144.0,818.58 L1144.5,818.48 L1145.0,818.37 L1145.5,818.26 L1146.0,818.14 L1146.5,818.02 L1147.0,817.89 L1147.5,817.76 L1148.0,817.62 L1148.5,817.48 L1149.0,817.34 L1149.5,817.19 L1150.0,817.05 L1150.5,816.90 L1151.0,816.76 L1151.5,816.62 L1152.0,816.49 L1152.5,816.36 L1153.0,816.25 L1153.5,816.15 L1154.0,816.06 L1154.5,815.99 L1155.0,815.94 L1155.5,815.91 L1156.0,815.90 L1156.5,815.91 L1157.0,815.94 L1157.5,815.99 L1158.0,816.06 L1158.5,816.15 L1159.0,816.25 L1159.5,816.36 L1160.0,816.49 L1160.5,816.62 L1161.0,816.76 L1161.5,816.90 L1162.0,817.05 L1162.5,817.19 L1163.0,817.34 L1163.5,817.48 L1164.0,817.62 L1164.5,817.76 L1165.0,817.89 L1165.5,818.02 L1166.0,818.14 L1166.5,818.26 L1167.0,818.37 L1167.5,818.48 L1168.0,818.58 L1168.5,818.68 L1169.0,818.77 L1169.5,818.86 L1170.0,818.94 L1170.5,819.02 L1171.0,819.09 L1171.5,819.16 L1172.0,819.22 L1172.5,819.28 L1173.0,819.34 L1173.5,819.39 L1174.0,819.44 L1174.5,819.49 L1175.0,819.53 L1175.5,819.57 L1176.0,819.61 L1176.5,819.64 L1177.0,819.68 L1177.5,819.71 L1178.0,819.74 L1178.5,819.76 L1179.0,819.79 L1179.5,819.81 L1180.0,819.83 L1180.5,819.85 L1181.0,819.87 L1181.5,819.89 L1182.0,819.91 L1182.5,819.93 L1183.0,819.94 L1183.5,819.96 L1184.0,819.97 L1184.5,819.98 L1185.0,820.00 L1185.5,820.01 L1186.0,820.02 L1186.5,820.03 L1187.0,820.04 L1187.5,820.05 L1188.0,820.06 L1188.5,820.07 L1189.0,820.08 L1189.5,820.09 L1190.0,820.10 L1190.5,820.10 L1191.0,820.11 L1191.5,820.12 L1192.0,820.12 L1192.5,820.13 L1193.0,820.14 L1193.5,820.14 L1194.0,820.15 L1194.5,820.16 L1195.0,820.16 L1195.5,820.17 L1196.0,820.17 L1196.5,820.18 L1197.0,820.18 L1197.5,820.19 L1198.0,820.19 L1198.5,820.19 L1199.0,820.20 L1199.5,820.20 L1200.0,820.21 L1200.5,820.21 L1201.0,820.21 L1201.5,820.22 L1202.0,820.22 L1202.5,820.22 L1203.0,820.23 L1203.5,820.23 L1204.0,820.23 L1204.5,820.24 L1205.0,820.24 L1205.5,820.24 L1206.0,820.24 L1206.5,820.25 L1207.0,820.25 L1207.5,820.25 L1208.0,820.25 L1208.5,820.26 L1209.0,820.26 L1209.5,820.26 L1210.0,820.26 L1210.5,820.27 L1211.0,820.27 L1211.5,820.27 L1212.0,820.27 L1212.5,820.27 L1213.0,820.28 L1213.5,820.28 L1214.0,820.28 L1214.5,820.28 L1215.0,820.28 L1215.5,820.28 L1216.0,820.29 L1216.5,820.29 L1217.0,820.29 L1217.5,820.29 L1218.0,820.29 L1218.5,820.29 L1219.0,820.29 L1219.5,820.30 L1220.0,820.30 L1220.5,820.30 L1221.0,820.30 L1221.5,820.30 L1222.0,820.30 L1222.5,820.30 L1223.0,820.31 L1223.5,820.31 L1224.0,820.31 L1224.5,820.31 L1225.0,820.31 L1225.5,820.31 L1226.0,820.31 L1226.5,820.31 L1227.0,820.31 L1227.5,820.31 L1228.0,820.32 L1228.5,820.32 L1229.0,820.32 L1229.5,820.32 L1230.0,820.32 L1230.5,820.32 L1231.0,820.32 L1231.5,820.32 L1232.0,820.32 L1232.5,820.32 L1233.0,820.32 L1233.5,820.33 L1234.0,820.33 L1234.5,820.33 L1235.0,820.33 L1235.5,820.33 L1236.0,820.33 L1236.5,820.33 L1237.0,820.33 L1237.5,820.33 L1238.0,820.33 L1238.5,820.33 L1239.0,820.33 L1239.5,820.33 L1240.0,820.33 L1240.5,820.33 L1241.0,820.34 L1241.5,820.34 L1242.0,820.34 L1242.5,820.34 L1243.0,820.34 L1243.5,820.34 L1244.0,820.34 L1244.5,820.34 L1245.0,820.34 L1245.5,820.34 L1246.0,820.34 L1246.5,820.34 L1247.0,820.34 L1247.5,820.34 L1248.0,820.34 L1248.5,820.34 L1249.0,820.34 L1249.5,820.34 L1250.0,820.34 L1250.5,820.34 L1251.0,820.35 L1251.5,820.35 L1252.0,820.35 L1252.5,820.35 L1253.0,820.35 L1253.5,820.35 L1254.0,820.35 L1254.5,820.35 L1255.0,820.35 L1255.5,820.35 L1256.0,820.35 L1256.5,820.35 L1257.0,820.35 L1257.5,820.35 L1258.0,820.35 L1258.5,820.35 L1259.0,820.35 L1259.5,820.35 L1260.0,820.35 L1260.5,820.35 L1261.0,820.35 L1261.5,820.35 L1262.0,820.35 L1262.5,820.35 L1263.0,820.35 L1263.5,820.35 L1264.0,820.35 L1264.5,820.36 L1265.0,820.36 L1265.5,820.36 L1266.0,820.36 L1266.5,820.36 L1267.0,820.36 L1267.5,820.36 L1268.0,820.36 L1268.5,820.36 L1269.0,820.36 L1269.5,820.36 L1270.0,820.36 L1270.5,820.36 L1271.0,820.36 L1271.5,820.36 L1272.0,820.36 L1272.5,820.36 L1273.0,820.36 L1273.5,820.36 L1274.0,820.36 L1274.5,820.36 L1275.0,820.36 L1275.5,820.36 L1276.0,820.36 L1276.5,820.36 L1277.0,820.36 L1277.5,820.36 L1278.0,820.36 L1278.5,820.36 L1279.0,820.36 L1279.5,820.36 L1280.0,820.36 L1280.5,820.36 L1281.0,820.36 L1281.5,820.36 L1282.0,820.36 L1282.5,820.36 L1283.0,820.36 L1283.5,820.36 L1284.0,820.36 L1284.5,820.36 L1285.0,820.36 L1285.5,820.36 L1286.0,820.37 L1286.5,820.37 L1287.0,820.37 L1287.5,820.37 L1288.0,820.37 L1288.5,820.37 L1289.0,820.37 L1289.5,820.37 L1290.0,820.37 L1290.5,820.37 L1291.0,820.37 L1291.5,820.37 L1292.0,820.37 L1292.5,820.37 L1293.0,820.37 L1293.5,820.37 L1294.0,820.37 L1294.5,820.37 L1295.0,820.37 L1295.5,820.37 L1296.0,820.37 L1296.5,820.37 L1297.0,820.37 L1297.5,820.37 L1298.0,820.37 L1298.5,820.37 L1299.0,820.37 L1299.5,820.37 L1300.0,820.37 L1300.5,820.37 L1301.0,820.37 L1301.5,820.37 L1302.0,820.37 L1302.5,820.37 L1303.0,820.37 L1303.5,820.37 L1304.0,820.37 L1304.5,820.37 L1305.0,820.37 L1305.5,820.37 L1306.0,820.37 L1306.5,820.37 L1307.0,820.37 L1307.5,820.37 L1308.0,820.37 L1308.5,820.37 L1309.0,820.37 L1309.5,820.37 L1310.0,820.37 L1310.5,820.37 L1311.0,820.37 L1311.5,820.37 L1312.0,820.37 L1312.5,820.37 L1313.0,820.37 L1313.5,820.37 L1314.0,820.37 L1314.5,820.37 L1315.0,820.37 L1315.5,820.37 L1316.0,820.37 L1316.5,820.37 L1317.0,820.37 L1317.5,820.37 L1318.0,820.37 L1318.5,820.37 L1319.0,820.37 L1319.5,820.37 L1320.0,820.37 L1320.5,820.37 L1321.0,820.37 L1321.5,820.37 L1322.0,820.37 L1322.5,820.37 L1323.0,820.37 L1323.5,820.37 L1324.0,820.37 L1324.5,820.37 L1325.0,820.38 L1325.5,820.38 L1326.0,820.38 L1326.5,820.38 L1327.0,820.38 L1327.5,820.38 L1328.0,820.38 L1328.5,820.38 L1329.0,820.38 L1329.5,820.38 L1330.0,820.38 L1330.5,820.38 L1331.0,820.38 L1331.5,820.38 L1332.0,820.38 L1332.5,820.38 L1333.0,820.38 L1333.5,820.38 L1334.0,820.38 L1334.5,820.38 L1335.0,820.38 L1335.5,820.38 L1336.0,820.38 L1336.5,820.38 L1337.0,820.38 L1337.5,820.38 L1338.0,820.38 L1338.5,820.38 L1339.0,820.38 L1339.5,820.38 L1340.0,820.38 L1340.5,820.38 L1341.0,820.38 L1341.5,820.38 L1342.0,820.38 L1342.5,820.38 L1343.0,820.38 L1343.5,820.38 L1344.0,820.38 L1344.5,820.38 L1345.0,820.38 L1345.5,820.38 L1346.0,820.38 L1346.5,820.38 L1347.0,820.38 L1347.5,820.38 L1348.0,820.38 L1348.5,820.38 L1349.0,820.38 L1349.5,820.38 L1350.0,820.38 L1350.5,820.38 L1351.0,820.38 L1351.5,820.38 L1352.0,820.38 L1352.5,820.38 L1353.0,820.38 L1353.5,820.38 L1354.0,820.38 L1354.5,820.38 L1355.0,820.38 L1355.5,820.38 L1356.0,820.38 L1356.5,820.38 L1357.0,820.38 L1357.5,820.38 L1358.0,820.38 L1358.5,820.38 L1359.0,820.38 L1359.5,820.38 L1360.0,820.38 L1360.5,820.38 L1361.0,820.38 L1361.5,820.38 L1362.0,820.38 L1362.5,820.38 L1363.0,820.38 L1363.5,820.38 L1364.0,820.38 L1364.5,820.38 L1365.0,820.38 L1365.5,820.38 L1366.0,820.38 L1366.5,820.38 L1367.0,820.38 L1367.5,820.38 L1368.0,820.38 L1368.5,820.38 L1369.0,820.38 L1369.5,820.38 L1370.0,820.38 L1370.5,820.38 L1371.0,820.38 L1371.5,820.38 L1372.0,820.38 L1372.5,820.38 L1373.0,820.38 L1373.5,820.38 L1374.0,820.38 L1374.5,820.38 L1375.0,820.38 L1375.5,820.38 L1376.0,820.38 L1376.5,820.38 L1377.0,820.38 L1377.5,820.38 L1378.0,820.38 L1378.5,820.38 L1379.0,820.38 L1379.5,820.38 L1380.0,820.38 L1380.5,820.38 L1381.0,820.38 L1381.5,820.38 L1382.0,820.38 L1382.5,820.38 L1383.0,820.38 L1383.5,820.38 L1384.0,820.38 L1384.5,820.38 L1385.0,820.38 L1385.5,820.38 L1386.0,820.38 L1386.5,820.38 L1387.0,820.38 L1387.5,820.38 L1388.0,820.38 L1388.5,820.38 L1389.0,820.38 L1389.5,820.38 L1390.0,820.38 L1390.5,820.38 L1391.0,820.38 L1391.5,820.38 L1392.0,820.38 L1392.5,820.38 L1393.0,820.38 L1393.5,820.38 L1394.0,820.38 L1394.5,820.38 L1395.0,820.38 L1395.5,820.38 L1396.0,820.38 L1396.5,820.38 L1397.0,820.38 L1397.5,820.38 L1398.0,820.38 L1398.5,820.38 L1399.0,820.38 L1399.5,820.38 L1400.0,820.38 L1400.5,820.38 L1401.0,820.38 L1401.5,820.38 L1402.0,820.38 L1402.5,820.38 L1403.0,820.38 L1403.5,820.38 L1404.0,820.38 L1404.5,820.38 L1405.0,820.38 L1405.5,820.38 L1406.0,820.38 L1406.5,820.38 L1407.0,820.38 L1407.5,820.38 L1408.0,820.38 L1408.5,820.38 L1409.0,820.38 L1409.5,820.38 L1410.0,820.38 L1410.5,820.38 L1411.0,820.38 L1411.5,820.38 L1412.0,820.38 L1412.5,820.38 L1413.0,820.38 L1413.5,820.38 L1414.0,820.38 L1414.5,820.38 L1415.0,820.38 L1415.5,820.38 L1416.0,820.38 L1416.5,820.38 L1417.0,820.38 L1417.5,820.38 L1418.0,820.38 L1418.5,820.39 L1419.0,820.39 L1419.5,820.39 L1420.0,820.39 L1420.5,820.39 L1421.0,820.39 L1421.5,820.39 L1422.0,820.39 L1422.5,820.39 L1423.0,820.39 L1423.5,820.39 L1424.0,820.39 L1424.5,820.39 L1425.0,820.39 L1425.5,820.39 L1426.0,820.39 L1426.5,820.39 L1427.0,820.39 L1427.5,820.39 L1428.0,820.39 L1428.5,820.39 L1429.0,820.39 L1429.5,820.39 L1430.0,820.39 L1430.5,820.39 L1431.0,820.39 L1431.5,820.39 L1432.0,820.39 L1432.5,820.39 L1433.0,820.39 L1433.5,820.39 L1434.0,820.39 L1434.5,820.39 L1435.0,820.39 L1435.5,820.39 L1436.0,820.39 L1436.5,820.39 L1437.0,820.39 L1437.5,820.39 L1438.0,820.39 L1438.5,820.39 L1439.0,820.39 L1439.5,820.39 L1440.0,820.39 L1440.5,820.39 L1441.0,820.39 L1441.5,820.39 L1442.0,820.39 L1442.5,820.39 L1443.0,820.39 L1443.5,820.39 L1444.0,820.39 L1444.5,820.39 L1445.0,820.39 L1445.5,820.39 L1446.0,820.39 L1446.5,820.39 L1447.0,820.39 L1447.5,820.39 L1448.0,820.39 L1448.5,820.39 L1449.0,820.39 L1449.5,820.39 L1450.0,820.39 L1450.5,820.39 L1451.0,820.39 L1451.5,820.39 L1452.0,820.39 L1452.5,820.39 L1453.0,820.39 L1453.5,820.39 L1454.0,820.39 L1454.5,820.39 L1455.0,820.39 L1455.5,820.39 L1456.0,820.39 L1456.5,820.39 L1457.0,820.39 L1457.5,820.39 L1458.0,820.39 L1458.5,820.39 L1459.0,820.39 L1459.5,820.39 L1460.0,820.39 L1460.5,820.39 L1461.0,820.39 L1461.5,820.39 L1462.0,820.39 L1462.5,820.39 L1463.0,820.39 L1463.5,820.39 L1464.0,820.39 L1464.5,820.39" stroke="#000" stroke-width="1.9"/>
<path d="M90.0,609.54 L90.5,609.54 L91.0,609.54 L91.5,609.54 L92.0,609.54 L92.5,609.54 L93.0,609.54 L93.5,609.54 L94.0,609.54 L94.5,609.54 L95.0,609.54 L95.5,609.54 L96.0,609.54 L96.5,609.54 L97.0,609.54 L97.5,609.54 L98.0,609.54 L98.5,609.54 L99.0,609.54 L99.5,609.54 L100.0,609.54 L100.5,609.54 L101.0,609.54 L101.5,609.54 L102.0,609.54 L102.5,609.54 L103.0,609.54 L103.5,609.54 L104.0,609.54 L104.5,609.54 L105.0,609.54 L105.5,609.54 L106.0,609.54 L106.5,609.54 L107.0,609.54 L107.5,609.54 L108.0,609.54 L108.5,609.54 L109.0,609.54 L109.5,609.54 L110.0,609.54 L110.5,609.54 L111.0,609.54 L111.5,609.54 L112.0,609.54 L112.5,609.54 L113.0,609.54 L113.5,609.54 L114.0,609.54 L114.5,609.54 L115.0,609.54 L115.5,609.54 L116.0,609.54 L116.5,609.54 L117.0,609.54 L117.5,609.54 L118.0,609.54 L118.5,609.54 L119.0,609.54 L119.5,609.54 L120.0,609.54 L120.5,609.54 L121.0,609.54 L121.5,609.54 L122.0,609.54 L122.5,609.54 L123.0,609.54 L123.5,609.54 L124.0,609.54 L124.5,609.54 L125.0,609.54 L125.5,609.54 L126.0,609.54 L126.5,609.54 L127.0,609.54 L127.5,609.54 L128.0,609.54 L128.5,609.54 L129.0,609.54 L129.5,609.54 L130.0,609.54 L130.5,609.54 L131.0,609.54 L131.5,609.54 L132.0,609.54 L132.5,609.54 L133.0,609.54 L133.5,609.54 L134.0,609.54 L134.5,609.54 L135.0,609.54 L135.5,609.54 L136.0,609.54 L136.5,609.54 L137.0,609.54 L137.5,609.54 L138.0,609.54 L138.5,609.54 L139.0,609.54 L139.5,609.54 L140.0,609.54 L140.5,609.54 L141.0,609.54 L141.5,609.54 L142.0,609.54 L142.5,609.54 L143.0,609.54 L143.5,609.53 L144.0,609.53 L144.5,609.53 L145.0,609.53 L145.5,609.53 L146.0,609.53 L146.5,609.53 L147.0,609.53 L147.5,609.53 L148.0,609.53 L148.5,609.53 L149.0,609.53 L149.5,609.53 L150.0,609.53 L150.5,609.53 L151.0,609.53 L151.5,609.53 L152.0,609.53 L152.5,609.53 L153.0,609.53 L153.5,609.53 L154.0,609.53 L154.5,609.53 L155.0,609.53 L155.5,609.53 L156.0,609.53 L156.5,609.52 L157.0,609.52 L157.5,609.52 L158.0,609.52 L158.5,609.52 L159.0,609.52 L159.5,609.52 L160.0,609.52 L160.5,609.52 L161.0,609.52 L161.5,609.52 L162.0,609.51 L162.5,609.51 L163.0,609.51 L163.5,609.51 L164.0,609.51 L164.5,609.51 L165.0,609.50 L165.5,609.50 L166.0,609.50 L166.5,609.50 L167.0,609.50 L167.5,609.49 L168.0,609.49 L168.5,609.49 L169.0,609.48 L169.5,609.48 L170.0,609.47 L170.5,609.47 L171.0,609.46 L171.5,609.46 L172.0,609.45 L172.5,609.44 L173.0,609.43 L173.5,609.42 L174.0,609.41 L174.5,609.40 L175.0,609.38 L175.5,609.36 L176.0,609.33 L176.5,609.29 L177.0,609.23 L177.5,609.13 L178.0,608.96 L178.5,608.71 L179.0,608.31 L179.5,607.73 L180.0,606.92 L180.5,605.83 L181.0,604.47 L181.5,602.87 L182.0,601.11 L182.5,599.34 L183.0,597.74 L183.5,596.53 L184.0,595.91 L184.5,595.98 L185.0,596.73 L185.5,598.04 L186.0,599.68 L186.5,601.47 L187.0,603.20 L187.5,604.76 L188.0,606.07 L188.5,607.10 L189.0,607.86 L189.5,608.40 L190.0,608.77 L190.5,609.00 L191.0,609.15 L191.5,609.24 L192.0,609.30 L192.5,609.34 L193.0,609.37 L193.5,609.38 L194.0,609.40 L194.5,609.41 L195.0,609.42 L195.5,609.43 L196.0,609.44 L196.5,609.45 L197.0,609.46 L197.5,609.46 L198.0,609.47 L198.5,609.47 L199.0,609.48 L199.5,609.48 L200.0,609.48 L200.5,609.49 L201.0,609.49 L201.5,609.49 L202.0,609.50 L202.5,609.50 L203.0,609.50 L203.5,609.50 L204.0,609.50 L204.5,609.51 L205.0,609.51 L205.5,609.51 L206.0,609.51 L206.5,609.51 L207.0,609.51 L207.5,609.51 L208.0,609.52 L208.5,609.52 L209.0,609.52 L209.5,609.52 L210.0,609.52 L210.5,609.52 L211.0,609.52 L211.5,609.52 L212.0,609.52 L212.5,609.52 L213.0,609.52 L213.5,609.52 L214.0,609.52 L214.5,609.52 L215.0,609.52 L215.5,609.53 L216.0,609.53 L216.5,609.53 L217.0,609.53 L217.5,609.53 L218.0,609.53 L218.5,609.53 L219.0,609.53 L219.5,609.53 L220.0,609.53 L220.5,609.53 L221.0,609.53 L221.5,609.53 L222.0,609.53 L222.5,609.53 L223.0,609.53 L223.5,609.53 L224.0,609.53 L224.5,609.53 L225.0,609.53 L225.5,609.53 L226.0,609.53 L226.5,609.53 L227.0,609.53 L227.5,609.53 L228.0,609.53 L228.5,609.53 L229.0,609.53 L229.5,609.53 L230.0,609.53 L230.5,609.53 L231.0,609.53 L231.5,609.53 L232.0,609.53 L232.5,609.53 L233.0,609.53 L233.5,609.53 L234.0,609.53 L234.5,609.53 L235.0,609.53 L235.5,609.53 L236.0,609.53 L236.5,609.53 L237.0,609.53 L237.5,609.53 L238.0,609.53 L238.5,609.53 L239.0,609.53 L239.5,609.53 L240.0,609.53 L240.5,609.53 L241.0,609.53 L241.5,609.53 L242.0,609.53 L242.5,609.53 L243.0,609.53 L243.5,609.53 L244.0,609.53 L244.5,609.53 L245.0,609.53 L245.5,609.53 L246.0,609.53 L246.5,609.53 L247.0,609.53 L247.5,609.53 L248.0,609.53 L248.5,609.53 L249.0,609.53 L249.5,609.53 L250.0,609.53 L250.5,609.53 L251.0,609.53 L251.5,609.53 L252.0,609.53 L252.5,609.53 L253.0,609.53 L253.5,609.53 L254.0,609.53 L254.5,609.53 L255.0,609.53 L255.5,609.53 L256.0,609.53 L256.5,609.53 L257.0,609.53 L257.5,609.53 L258.0,609.53 L258.5,609.53 L259.0,609.53 L259.5,609.53 L260.0,609.53 L260.5,609.53 L261.0,609.53 L261.5,609.53 L262.0,609.53 L262.5,609.53 L263.0,609.53 L263.5,609.53 L264.0,609.53 L264.5,609.53 L265.0,609.53 L265.5,609.53 L266.0,609.53 L266.5,609.53 L267.0,609.53 L267.5,609.53 L268.0,609.53 L268.5,609.53 L269.0,609.53 L269.5,609.53 L270.0,609.53 L270.5,609.53 L271.0,609.53 L271.5,609.53 L272.0,609.53 L272.5,609.53 L273.0,609.53 L273.5,609.53 L274.0,609.53 L274.5,609.53 L275.0,609.53 L275.5,609.53 L276.0,609.53 L276.5,609.53 L277.0,609.53 L277.5,609.53 L278.0,609.53 L278.5,609.53 L279.0,609.53 L279.5,609.53 L280.0,609.53 L280.5,609.53 L281.0,609.53 L281.5,609.53 L282.0,609.53 L282.5,609.53 L283.0,609.53 L283.5,609.53 L284.0,609.53 L284.5,609.53 L285.0,609.53 L285.5,609.53 L286.0,609.53 L286.5,609.53 L287.0,609.53 L287.5,609.53 L288.0,609.53 L288.5,609.53 L289.0,609.53 L289.5,609.53 L290.0,609.53 L290.5,609.53 L291.0,609.53 L291.5,609.53 L292.0,609.53 L292.5,609.53 L293.0,609.53 L293.5,609.53 L294.0,609.53 L294.5,609.53 L295.0,609.53 L295.5,609.52 L296.0,609.52 L296.5,609.52 L297.0,609.52 L297.5,609.52 L298.0,609.52 L298.5,609.52 L299.0,609.52 L299.5,609.52 L300.0,609.52 L300.5,609.52 L301.0,609.52 L301.5,609.52 L302.0,609.52 L302.5,609.52 L303.0,609.52 L303.5,609.52 L304.0,609.52 L304.5,609.52 L305.0,609.52 L305.5,609.52 L306.0,609.52 L306.5,609.52 L307.0,609.52 L307.5,609.52 L308.0,609.52 L308.5,609.52 L309.0,609.52 L309.5,609.52 L310.0,609.52 L310.5,609.52 L311.0,609.52 L311.5,609.52 L312.0,609.52 L312.5,609.52 L313.0,609.52 L313.5,609.51 L314.0,609.51 L314.5,609.51 L315.0,609.51 L315.5,609.51 L316.0,609.51 L316.5,609.51 L317.0,609.51 L317.5,609.51 L318.0,609.51 L318.5,609.51 L319.0,609.51 L319.5,609.51 L320.0,609.51 L320.5,609.51 L321.0,609.51 L321.5,609.51 L322.0,609.51 L322.5,609.51 L323.0,609.50 L323.5,609.50 L324.0,609.50 L324.5,609.50 L325.0,609.50 L325.5,609.50 L326.0,609.50 L326.5,609.50 L327.0,609.50 L327.5,609.50 L328.0,609.50 L328.5,609.49 L329.0,609.49 L329.5,609.49 L330.0,609.49 L330.5,609.49 L331.0,609.49 L331.5,609.49 L332.0,609.49 L332.5,609.48 L333.0,609.48 L333.5,609.48 L334.0,609.48 L334.5,609.48 L335.0,609.48 L335.5,609.47 L336.0,609.47 L336.5,609.47 L337.0,609.47 L337.5,609.46 L338.0,609.46 L338.5,609.46 L339.0,609.46 L339.5,609.45 L340.0,609.45 L340.5,609.45 L341.0,609.44 L341.5,609.44 L342.0,609.44 L342.5,609.43 L343.0,609.43 L343.5,609.42 L344.0,609.41 L344.5,609.41 L345.0,609.40 L345.5,609.40 L346.0,609.39 L346.5,609.38 L347.0,609.37 L347.5,609.36 L348.0,609.35 L348.5,609.34 L349.0,609.32 L349.5,609.31 L350.0,609.29 L350.5,609.26 L351.0,609.23 L351.5,609.19 L352.0,609.14 L352.5,609.07 L353.0,608.96 L353.5,608.81 L354.0,608.59 L354.5,608.29 L355.0,607.87 L355.5,607.31 L356.0,606.58 L356.5,605.66 L357.0,604.51 L357.5,603.16 L358.0,601.60 L358.5,599.88 L359.0,598.06 L359.5,596.23 L360.0,594.50 L360.5,592.99 L361.0,591.83 L361.5,591.13 L362.0,590.96 L362.5,591.35 L363.0,592.24 L363.5,593.55 L364.0,595.17 L364.5,596.95 L365.0,598.78 L365.5,600.57 L366.0,602.23 L366.5,603.71 L367.0,604.98 L367.5,606.03 L368.0,606.88 L368.5,607.54 L369.0,608.03 L369.5,608.40 L370.0,608.66 L370.5,608.85 L371.0,608.98 L371.5,609.07 L372.0,609.13 L372.5,609.18 L373.0,609.21 L373.5,609.23 L374.0,609.25 L374.5,609.27 L375.0,609.28 L375.5,609.29 L376.0,609.30 L376.5,609.31 L377.0,609.32 L377.5,609.32 L378.0,609.33 L378.5,609.33 L379.0,609.34 L379.5,609.34 L380.0,609.34 L380.5,609.35 L381.0,609.35 L381.5,609.35 L382.0,609.35 L382.5,609.35 L383.0,609.35 L383.5,609.34 L384.0,609.34 L384.5,609.34 L385.0,609.34 L385.5,609.33 L386.0,609.33 L386.5,609.32 L387.0,609.31 L387.5,609.30 L388.0,609.29 L388.5,609.26 L389.0,609.22 L389.5,609.16 L390.0,609.04 L390.5,608.84 L391.0,608.52 L391.5,608.04 L392.0,607.37 L392.5,606.53 L393.0,605.55 L393.5,604.54 L394.0,603.63 L394.5,602.99 L395.0,602.75 L395.5,602.96 L396.0,603.58 L396.5,604.46 L397.0,605.44 L397.5,606.39 L398.0,607.21 L398.5,607.84 L399.0,608.29 L399.5,608.57 L400.0,608.72 L400.5,608.78 L401.0,608.78 L401.5,608.73 L402.0,608.63 L402.5,608.49 L403.0,608.28 L403.5,608.00 L404.0,607.61 L404.5,607.09 L405.0,606.41 L405.5,605.55 L406.0,604.47 L406.5,603.15 L407.0,601.58 L407.5,599.78 L408.0,597.77 L408.5,595.59 L409.0,593.33 L409.5,591.08 L410.0,588.95 L410.5,587.08 L411.0,585.62 L411.5,584.67 L412.0,584.35 L412.5,584.68 L413.0,585.62 L413.5,587.09 L414.0,588.96 L414.5,591.09 L415.0,593.34 L415.5,595.60 L416.0,597.78 L416.5,599.80 L417.0,601.60 L417.5,603.17 L418.0,604.49 L418.5,605.57 L419.0,606.44 L419.5,607.12 L420.0,607.64 L420.5,608.04 L421.0,608.33 L421.5,608.54 L422.0,608.70 L422.5,608.82 L423.0,608.90 L423.5,608.97 L424.0,609.02 L424.5,609.06 L425.0,609.10 L425.5,609.13 L426.0,609.15 L426.5,609.18 L427.0,609.20 L427.5,609.22 L428.0,609.23 L428.5,609.25 L429.0,609.26 L429.5,609.27 L430.0,609.29 L430.5,609.30 L431.0,609.31 L431.5,609.32 L432.0,609.33 L432.5,609.33 L433.0,609.34 L433.5,609.35 L434.0,609.35 L434.5,609.36 L435.0,609.37 L435.5,609.37 L436.0,609.38 L436.5,609.38 L437.0,609.38 L437.5,609.39 L438.0,609.39 L438.5,609.40 L439.0,609.40 L439.5,609.40 L440.0,609.41 L440.5,609.41 L441.0,609.41 L441.5,609.41 L442.0,609.42 L442.5,609.42 L443.0,609.42 L443.5,609.42 L444.0,609.42 L444.5,609.43 L445.0,609.43 L445.5,609.43 L446.0,609.43 L446.5,609.43 L447.0,609.43 L447.5,609.44 L448.0,609.44 L448.5,609.44 L449.0,609.44 L449.5,609.44 L450.0,609.44 L450.5,609.44 L451.0,609.44 L451.5,609.44 L452.0,609.44 L452.5,609.44 L453.0,609.44 L453.5,609.45 L454.0,609.45 L454.5,609.45 L455.0,609.45 L455.5,609.45 L456.0,609.45 L456.5,609.45 L457.0,609.45 L457.5,609.45 L458.0,609.45 L458.5,609.45 L459.0,609.45 L459.5,609.45 L460.0,609.45 L460.5,609.45 L461.0,609.45 L461.5,609.45 L462.0,609.45 L462.5,609.45 L463.0,609.45 L463.5,609.45 L464.0,609.45 L464.5,609.45 L465.0,609.45 L465.5,609.45 L466.0,609.45 L466.5,609.45 L467.0,609.45 L467.5,609.45 L468.0,609.45 L468.5,609.44 L469.0,609.44 L469.5,609.44 L470.0,609.44 L470.5,609.44 L471.0,609.44 L471.5,609.44 L472.0,609.44 L472.5,609.44 L473.0,609.44 L473.5,609.44 L474.0,609.44 L474.5,609.44 L475.0,609.44 L475.5,609.43 L476.0,609.43 L476.5,609.43 L477.0,609.43 L477.5,609.43 L478.0,609.43 L478.5,609.43 L479.0,609.43 L479.5,609.43 L480.0,609.42 L480.5,609.42 L481.0,609.42 L481.5,609.42 L482.0,609.42 L482.5,609.42 L483.0,609.42 L483.5,609.41 L484.0,609.41 L484.5,609.41 L485.0,609.41 L485.5,609.41 L486.0,609.40 L486.5,609.40 L487.0,609.40 L487.5,609.40 L488.0,609.40 L488.5,609.39 L489.0,609.39 L489.5,609.39 L490.0,609.38 L490.5,609.38 L491.0,609.38 L491.5,609.38 L492.0,609.37 L492.5,609.37 L493.0,609.37 L493.5,609.36 L494.0,609.36 L494.5,609.35 L495.0,609.35 L495.5,609.34 L496.0,609.34 L496.5,609.33 L497.0,609.33 L497.5,609.32 L498.0,609.32 L498.5,609.31 L499.0,609.30 L499.5,609.29 L500.0,609.29 L500.5,609.28 L501.0,609.27 L501.5,609.26 L502.0,609.25 L502.5,609.23 L503.0,609.22 L503.5,609.20 L504.0,609.18 L504.5,609.16 L505.0,609.14 L505.5,609.10 L506.0,609.06 L506.5,609.01 L507.0,608.94 L507.5,608.85 L508.0,608.73 L508.5,608.57 L509.0,608.37 L509.5,608.13 L510.0,607.82 L510.5,607.45 L511.0,607.02 L511.5,606.54 L512.0,606.00 L512.5,605.42 L513.0,604.83 L513.5,604.24 L514.0,603.71 L514.5,603.26 L515.0,602.93 L515.5,602.77 L516.0,602.78 L516.5,602.97 L517.0,603.31 L517.5,603.77 L518.0,604.31 L518.5,604.88 L519.0,605.46 L519.5,606.02 L520.0,606.54 L520.5,607.01 L521.0,607.41 L521.5,607.75 L522.0,608.03 L522.5,608.26 L523.0,608.44 L523.5,608.57 L524.0,608.67 L524.5,608.74 L525.0,608.80 L525.5,608.83 L526.0,608.86 L526.5,608.87 L527.0,608.88 L527.5,608.89 L528.0,608.89 L528.5,608.89 L529.0,608.88 L529.5,608.88 L530.0,608.87 L530.5,608.86 L531.0,608.85 L531.5,608.83 L532.0,608.82 L532.5,608.80 L533.0,608.78 L533.5,608.76 L534.0,608.74 L534.5,608.72 L535.0,608.69 L535.5,608.67 L536.0,608.64 L536.5,608.61 L537.0,608.57 L537.5,608.54 L538.0,608.50 L538.5,608.46 L539.0,608.41 L539.5,608.36 L540.0,608.31 L540.5,608.25 L541.0,608.19 L541.5,608.13 L542.0,608.05 L542.5,607.98 L543.0,607.89 L543.5,607.80 L544.0,607.70 L544.5,607.59 L545.0,607.47 L545.5,607.34 L546.0,607.20 L546.5,607.04 L547.0,606.86 L547.5,606.67 L548.0,606.44 L548.5,606.19 L549.0,605.90 L549.5,605.57 L550.0,605.17 L550.5,604.68 L551.0,604.08 L551.5,603.33 L552.0,602.35 L552.5,601.09 L553.0,599.46 L553.5,597.35 L554.0,594.64 L554.5,591.23 L555.0,587.00 L555.5,581.87 L556.0,575.81 L556.5,568.85 L557.0,561.09 L557.5,552.76 L558.0,544.20 L558.5,535.90 L559.0,528.52 L559.5,522.84 L560.0,519.60 L560.5,519.30 L561.0,521.98 L561.5,527.23 L562.0,534.33 L562.5,542.50 L563.0,551.06 L563.5,559.47 L564.0,567.36 L564.5,574.49 L565.0,580.74 L565.5,586.05 L566.0,590.45 L566.5,594.03 L567.0,596.86 L567.5,599.09 L568.0,600.81 L568.5,602.13 L569.0,603.16 L569.5,603.96 L570.0,604.58 L570.5,605.09 L571.0,605.50 L571.5,605.85 L572.0,606.15 L572.5,606.41 L573.0,606.64 L573.5,606.84 L574.0,607.02 L574.5,607.18 L575.0,607.33 L575.5,607.47 L576.0,607.59 L576.5,607.70 L577.0,607.80 L577.5,607.90 L578.0,607.98 L578.5,608.06 L579.0,608.14 L579.5,608.21 L580.0,608.27 L580.5,608.33 L581.0,608.38 L581.5,608.44 L582.0,608.48 L582.5,608.53 L583.0,608.57 L583.5,608.61 L584.0,608.65 L584.5,608.68 L585.0,608.71 L585.5,608.74 L586.0,608.77 L586.5,608.80 L587.0,608.83 L587.5,608.85 L588.0,608.87 L588.5,608.90 L589.0,608.92 L589.5,608.94 L590.0,608.96 L590.5,608.97 L591.0,608.99 L591.5,609.01 L592.0,609.02 L592.5,609.04 L593.0,609.05 L593.5,609.07 L594.0,609.08 L594.5,609.09 L595.0,609.10 L595.5,609.11 L596.0,609.12 L596.5,609.13 L597.0,609.14 L597.5,609.15 L598.0,609.16 L598.5,609.17 L599.0,609.18 L599.5,609.19 L600.0,609.20 L600.5,609.20 L601.0,609.21 L601.5,609.22 L602.0,609.22 L602.5,609.23 L603.0,609.24 L603.5,609.24 L604.0,609.25 L604.5,609.25 L605.0,609.26 L605.5,609.26 L606.0,609.27 L606.5,609.27 L607.0,609.28 L607.5,609.28 L608.0,609.29 L608.5,609.29 L609.0,609.30 L609.5,609.30 L610.0,609.30 L610.5,609.31 L611.0,609.31 L611.5,609.31 L612.0,609.32 L612.5,609.32 L613.0,609.32 L613.5,609.33 L614.0,609.33 L614.5,609.33 L615.0,609.33 L615.5,609.34 L616.0,609.34 L616.5,609.34 L617.0,609.34 L617.5,609.35 L618.0,609.35 L618.5,609.35 L619.0,609.35 L619.5,609.35 L620.0,609.36 L620.5,609.36 L621.0,609.36 L621.5,609.36 L622.0,609.36 L622.5,609.36 L623.0,609.37 L623.5,609.37 L624.0,609.37 L624.5,609.37 L625.0,609.37 L625.5,609.37 L626.0,609.37 L626.5,609.37 L627.0,609.38 L627.5,609.38 L628.0,609.38 L628.5,609.38 L629.0,609.38 L629.5,609.38 L630.0,609.38 L630.5,609.38 L631.0,609.38 L631.5,609.38 L632.0,609.38 L632.5,609.38 L633.0,609.38 L633.5,609.38 L634.0,609.38 L634.5,609.38 L635.0,609.38 L635.5,609.38 L636.0,609.38 L636.5,609.38 L637.0,609.38 L637.5,609.38 L638.0,609.38 L638.5,609.38 L639.0,609.38 L639.5,609.38 L640.0,609.38 L640.5,609.38 L641.0,609.38 L641.5,609.38 L642.0,609.38 L642.5,609.38 L643.0,609.38 L643.5,609.38 L644.0,609.38 L644.5,609.38 L645.0,609.38 L645.5,609.38 L646.0,609.38 L646.5,609.37 L647.0,609.37 L647.5,609.37 L648.0,609.37 L648.5,609.37 L649.0,609.37 L649.5,609.37 L650.0,609.37 L650.5,609.36 L651.0,609.36 L651.5,609.36 L652.0,609.36 L652.5,609.36 L653.0,609.35 L653.5,609.35 L654.0,609.35 L654.5,609.35 L655.0,609.34 L655.5,609.34 L656.0,609.34 L656.5,609.34 L657.0,609.33 L657.5,609.33 L658.0,609.33 L658.5,609.32 L659.0,609.32 L659.5,609.31 L660.0,609.31 L660.5,609.31 L661.0,609.30 L661.5,609.30 L662.0,609.29 L662.5,609.29 L663.0,609.28 L663.5,609.27 L664.0,609.27 L664.5,609.26 L665.0,609.25 L665.5,609.25 L666.0,609.24 L666.5,609.23 L667.0,609.22 L667.5,609.21 L668.0,609.20 L668.5,609.19 L669.0,609.18 L669.5,609.17 L670.0,609.16 L670.5,609.14 L671.0,609.13 L671.5,609.11 L672.0,609.10 L672.5,609.08 L673.0,609.06 L673.5,609.04 L674.0,609.02 L674.5,608.99 L675.0,608.96 L675.5,608.93 L676.0,608.90 L676.5,608.86 L677.0,608.81 L677.5,608.76 L678.0,608.69 L678.5,608.60 L679.0,608.49 L679.5,608.34 L680.0,608.14 L680.5,607.87 L681.0,607.52 L681.5,607.07 L682.0,606.50 L682.5,605.79 L683.0,604.96 L683.5,604.00 L684.0,602.96 L684.5,601.86 L685.0,600.77 L685.5,599.77 L686.0,598.96 L686.5,598.43 L687.0,598.24 L687.5,598.42 L688.0,598.92 L688.5,599.65 L689.0,600.53 L689.5,601.44 L690.0,602.32 L690.5,603.09 L691.0,603.72 L691.5,604.16 L692.0,604.38 L692.5,604.37 L693.0,604.11 L693.5,603.58 L694.0,602.75 L694.5,601.60 L695.0,600.12 L695.5,598.29 L696.0,596.11 L696.5,593.61 L697.0,590.84 L697.5,587.88 L698.0,584.89 L698.5,582.05 L699.0,579.63 L699.5,577.92 L700.0,577.17 L700.5,577.51 L701.0,578.89 L701.5,581.08 L702.0,583.81 L702.5,586.81 L703.0,589.83 L703.5,592.73 L704.0,595.39 L704.5,597.76 L705.0,599.81 L705.5,601.53 L706.0,602.95 L706.5,604.09 L707.0,605.00 L707.5,605.72 L708.0,606.28 L708.5,606.71 L709.0,607.06 L709.5,607.33 L710.0,607.54 L710.5,607.72 L711.0,607.87 L711.5,608.00 L712.0,608.11 L712.5,608.21 L713.0,608.29 L713.5,608.37 L714.0,608.44 L714.5,608.50 L715.0,608.55 L715.5,608.61 L716.0,608.65 L716.5,608.69 L717.0,608.73 L717.5,608.77 L718.0,608.80 L718.5,608.83 L719.0,608.85 L719.5,608.88 L720.0,608.90 L720.5,608.92 L721.0,608.94 L721.5,608.95 L722.0,608.97 L722.5,608.98 L723.0,609.00 L723.5,609.01 L724.0,609.02 L724.5,609.02 L725.0,609.03 L725.5,609.04 L726.0,609.04 L726.5,609.05 L727.0,609.05 L727.5,609.05 L728.0,609.05 L728.5,609.04 L729.0,609.03 L729.5,609.02 L730.0,609.00 L730.5,608.98 L731.0,608.94 L731.5,608.90 L732.0,608.83 L732.5,608.75 L733.0,608.64 L733.5,608.51 L734.0,608.34 L734.5,608.14 L735.0,607.89 L735.5,607.60 L736.0,607.26 L736.5,606.88 L737.0,606.46 L737.5,606.00 L738.0,605.52 L738.5,605.02 L739.0,604.53 L739.5,604.06 L740.0,603.63 L740.5,603.27 L741.0,602.99 L741.5,602.81 L742.0,602.75 L742.5,602.81 L743.0,602.98 L743.5,603.26 L744.0,603.62 L744.5,604.05 L745.0,604.51 L745.5,605.00 L746.0,605.49 L746.5,605.97 L747.0,606.43 L747.5,606.84 L748.0,607.22 L748.5,607.55 L749.0,607.84 L749.5,608.08 L750.0,608.29 L750.5,608.45 L751.0,608.58 L751.5,608.68 L752.0,608.76 L752.5,608.81 L753.0,608.85 L753.5,608.88 L754.0,608.90 L754.5,608.91 L755.0,608.92 L755.5,608.92 L756.0,608.91 L756.5,608.90 L757.0,608.89 L757.5,608.88 L758.0,608.86 L758.5,608.85 L759.0,608.83 L759.5,608.80 L760.0,608.78 L760.5,608.75 L761.0,608.72 L761.5,608.68 L762.0,608.64 L762.5,608.60 L763.0,608.55 L763.5,608.49 L764.0,608.43 L764.5,608.36 L765.0,608.27 L765.5,608.17 L766.0,608.05 L766.5,607.91 L767.0,607.75 L767.5,607.54 L768.0,607.30 L768.5,607.00 L769.0,606.65 L769.5,606.23 L770.0,605.73 L770.5,605.15 L771.0,604.47 L771.5,603.69 L772.0,602.80 L772.5,601.81 L773.0,600.72 L773.5,599.54 L774.0,598.28 L774.5,596.97 L775.0,595.64 L775.5,594.34 L776.0,593.12 L776.5,592.04 L777.0,591.18 L777.5,590.60 L778.0,590.36 L778.5,590.47 L779.0,590.92 L779.5,591.68 L780.0,592.68 L780.5,593.85 L781.0,595.13 L781.5,596.45 L782.0,597.78 L782.5,599.06 L783.0,600.28 L783.5,601.41 L784.0,602.44 L784.5,603.37 L785.0,604.20 L785.5,604.92 L786.0,605.54 L786.5,606.08 L787.0,606.53 L787.5,606.91 L788.0,607.23 L788.5,607.50 L789.0,607.72 L789.5,607.90 L790.0,608.06 L790.5,608.19 L791.0,608.30 L791.5,608.39 L792.0,608.47 L792.5,608.54 L793.0,608.61 L793.5,608.66 L794.0,608.71 L794.5,608.76 L795.0,608.80 L795.5,608.84 L796.0,608.87 L796.5,608.90 L797.0,608.93 L797.5,608.96 L798.0,608.99 L798.5,609.01 L799.0,609.03 L799.5,609.05 L800.0,609.07 L800.5,609.09 L801.0,609.11 L801.5,609.13 L802.0,609.14 L802.5,609.16 L803.0,609.17 L803.5,609.18 L804.0,609.19 L804.5,609.21 L805.0,609.22 L805.5,609.23 L806.0,609.24 L806.5,609.25 L807.0,609.26 L807.5,609.26 L808.0,609.27 L808.5,609.28 L809.0,609.29 L809.5,609.30 L810.0,609.30 L810.5,609.31 L811.0,609.31 L811.5,609.32 L812.0,609.33 L812.5,609.33 L813.0,609.34 L813.5,609.34 L814.0,609.35 L814.5,609.35 L815.0,609.36 L815.5,609.36 L816.0,609.36 L816.5,609.37 L817.0,609.37 L817.5,609.38 L818.0,609.38 L818.5,609.38 L819.0,609.39 L819.5,609.39 L820.0,609.39 L820.5,609.39 L821.0,609.40 L821.5,609.40 L822.0,609.40 L822.5,609.41 L823.0,609.41 L823.5,609.41 L824.0,609.41 L824.5,609.42 L825.0,609.42 L825.5,609.42 L826.0,609.42 L826.5,609.42 L827.0,609.43 L827.5,609.43 L828.0,609.43 L828.5,609.43 L829.0,609.43 L829.5,609.43 L830.0,609.44 L830.5,609.44 L831.0,609.44 L831.5,609.44 L832.0,609.44 L832.5,609.44 L833.0,609.44 L833.5,609.45 L834.0,609.45 L834.5,609.45 L835.0,609.45 L835.5,609.45 L836.0,609.45 L836.5,609.45 L837.0,609.45 L837.5,609.46 L838.0,609.46 L838.5,609.46 L839.0,609.46 L839.5,609.46 L840.0,609.46 L840.5,609.46 L841.0,609.46 L841.5,609.46 L842.0,609.46 L842.5,609.46 L843.0,609.47 L843.5,609.47 L844.0,609.47 L844.5,609.47 L845.0,609.47 L845.5,609.47 L846.0,609.47 L846.5,609.47 L847.0,609.47 L847.5,609.47 L848.0,609.47 L848.5,609.47 L849.0,609.47 L849.5,609.47 L850.0,609.47 L850.5,609.48 L851.0,609.48 L851.5,609.48 L852.0,609.48 L852.5,609.48 L853.0,609.48 L853.5,609.48 L854.0,609.48 L854.5,609.48 L855.0,609.48 L855.5,609.48 L856.0,609.48 L856.5,609.48 L857.0,609.48 L857.5,609.48 L858.0,609.48 L858.5,609.48 L859.0,609.48 L859.5,609.48 L860.0,609.48 L860.5,609.48 L861.0,609.48 L861.5,609.48 L862.0,609.48 L862.5,609.48 L863.0,609.48 L863.5,609.48 L864.0,609.49 L864.5,609.49 L865.0,609.49 L865.5,609.49 L866.0,609.49 L866.5,609.49 L867.0,609.49 L867.5,609.49 L868.0,609.49 L868.5,609.49 L869.0,609.49 L869.5,609.49 L870.0,609.49 L870.5,609.49 L871.0,609.49 L871.5,609.49 L872.0,609.49 L872.5,609.49 L873.0,609.49 L873.5,609.49 L874.0,609.49 L874.5,609.49 L875.0,609.49 L875.5,609.49 L876.0,609.49 L876.5,609.49 L877.0,609.49 L877.5,609.49 L878.0,609.49 L878.5,609.49 L879.0,609.49 L879.5,609.49 L880.0,609.49 L880.5,609.49 L881.0,609.49 L881.5,609.49 L882.0,609.49 L882.5,609.49 L883.0,609.49 L883.5,609.49 L884.0,609.48 L884.5,609.48 L885.0,609.48 L885.5,609.48 L886.0,609.48 L886.5,609.48 L887.0,609.48 L887.5,609.48 L888.0,609.48 L888.5,609.48 L889.0,609.48 L889.5,609.48 L890.0,609.48 L890.5,609.48 L891.0,609.48 L891.5,609.48 L892.0,609.48 L892.5,609.48 L893.0,609.48 L893.5,609.48 L894.0,609.48 L894.5,609.48 L895.0,609.48 L895.5,609.47 L896.0,609.47 L896.5,609.47 L897.0,609.47 L897.5,609.47 L898.0,609.47 L898.5,609.47 L899.0,609.47 L899.5,609.47 L900.0,609.47 L900.5,609.47 L901.0,609.47 L901.5,609.46 L902.0,609.46 L902.5,609.46 L903.0,609.46 L903.5,609.46 L904.0,609.46 L904.5,609.46 L905.0,609.46 L905.5,609.45 L906.0,609.45 L906.5,609.45 L907.0,609.45 L907.5,609.45 L908.0,609.45 L908.5,609.44 L909.0,609.44 L909.5,609.44 L910.0,609.44 L910.5,609.44 L911.0,609.43 L911.5,609.43 L912.0,609.43 L912.5,609.43 L913.0,609.42 L913.5,609.42 L914.0,609.42 L914.5,609.41 L915.0,609.41 L915.5,609.41 L916.0,609.40 L916.5,609.40 L917.0,609.40 L917.5,609.39 L918.0,609.39 L918.5,609.38 L919.0,609.38 L919.5,609.37 L920.0,609.37 L920.5,609.36 L921.0,609.36 L921.5,609.35 L922.0,609.34 L922.5,609.33 L923.0,609.33 L923.5,609.32 L924.0,609.31 L924.5,609.30 L925.0,609.29 L925.5,609.27 L926.0,609.26 L926.5,609.24 L927.0,609.23 L927.5,609.21 L928.0,609.18 L928.5,609.16 L929.0,609.13 L929.5,609.09 L930.0,609.05 L930.5,609.00 L931.0,608.95 L931.5,608.88 L932.0,608.80 L932.5,608.71 L933.0,608.61 L933.5,608.49 L934.0,608.35 L934.5,608.20 L935.0,608.03 L935.5,607.83 L936.0,607.62 L936.5,607.38 L937.0,607.13 L937.5,606.85 L938.0,606.56 L938.5,606.26 L939.0,605.95 L939.5,605.63 L940.0,605.31 L940.5,605.00 L941.0,604.71 L941.5,604.43 L942.0,604.20 L942.5,604.00 L943.0,603.86 L943.5,603.77 L944.0,603.75 L944.5,603.79 L945.0,603.90 L945.5,604.06 L946.0,604.27 L946.5,604.51 L947.0,604.79 L947.5,605.09 L948.0,605.40 L948.5,605.71 L949.0,606.02 L949.5,606.33 L950.0,606.62 L950.5,606.90 L951.0,607.16 L951.5,607.40 L952.0,607.62 L952.5,607.82 L953.0,607.99 L953.5,608.15 L954.0,608.29 L954.5,608.41 L955.0,608.52 L955.5,608.60 L956.0,608.68 L956.5,608.74 L957.0,608.79 L957.5,608.83 L958.0,608.86 L958.5,608.89 L959.0,608.91 L959.5,608.92 L960.0,608.92 L960.5,608.92 L961.0,608.92 L961.5,608.91 L962.0,608.89 L962.5,608.86 L963.0,608.83 L963.5,608.79 L964.0,608.73 L964.5,608.66 L965.0,608.57 L965.5,608.46 L966.0,608.33 L966.5,608.17 L967.0,607.98 L967.5,607.76 L968.0,607.49 L968.5,607.18 L969.0,606.83 L969.5,606.44 L970.0,606.00 L970.5,605.53 L971.0,605.02 L971.5,604.48 L972.0,603.92 L972.5,603.37 L973.0,602.82 L973.5,602.31 L974.0,601.86 L974.5,601.49 L975.0,601.22 L975.5,601.07 L976.0,601.06 L976.5,601.19 L977.0,601.44 L977.5,601.79 L978.0,602.24 L978.5,602.74 L979.0,603.29 L979.5,603.85 L980.0,604.41 L980.5,604.96 L981.0,605.48 L981.5,605.97 L982.0,606.42 L982.5,606.83 L983.0,607.19 L983.5,607.51 L984.0,607.79 L984.5,608.04 L985.0,608.24 L985.5,608.41 L986.0,608.56 L986.5,608.68 L987.0,608.78 L987.5,608.86 L988.0,608.93 L988.5,608.99 L989.0,609.04 L989.5,609.08 L990.0,609.11 L990.5,609.14 L991.0,609.17 L991.5,609.19 L992.0,609.21 L992.5,609.23 L993.0,609.24 L993.5,609.26 L994.0,609.27 L994.5,609.28 L995.0,609.29 L995.5,609.31 L996.0,609.32 L996.5,609.32 L997.0,609.33 L997.5,609.34 L998.0,609.35 L998.5,609.36 L999.0,609.36 L999.5,609.37 L1000.0,609.38 L1000.5,609.38 L1001.0,609.39 L1001.5,609.39 L1002.0,609.40 L1002.5,609.40 L1003.0,609.41 L1003.5,609.41 L1004.0,609.41 L1004.5,609.42 L1005.0,609.42 L1005.5,609.43 L1006.0,609.43 L1006.5,609.43 L1007.0,609.44 L1007.5,609.44 L1008.0,609.44 L1008.5,609.44 L1009.0,609.45 L1009.5,609.45 L1010.0,609.45 L1010.5,609.45 L1011.0,609.46 L1011.5,609.46 L1012.0,609.46 L1012.5,609.46 L1013.0,609.46 L1013.5,609.47 L1014.0,609.47 L1014.5,609.47 L1015.0,609.47 L1015.5,609.47 L1016.0,609.47 L1016.5,609.48 L1017.0,609.48 L1017.5,609.48 L1018.0,609.48 L1018.5,609.48 L1019.0,609.48 L1019.5,609.48 L1020.0,609.48 L1020.5,609.49 L1021.0,609.49 L1021.5,609.49 L1022.0,609.49 L1022.5,609.49 L1023.0,609.49 L1023.5,609.49 L1024.0,609.49 L1024.5,609.49 L1025.0,609.49 L1025.5,609.50 L1026.0,609.50 L1026.5,609.50 L1027.0,609.50 L1027.5,609.50 L1028.0,609.50 L1028.5,609.50 L1029.0,609.50 L1029.5,609.50 L1030.0,609.50 L1030.5,609.50 L1031.0,609.50 L1031.5,609.50 L1032.0,609.50 L1032.5,609.51 L1033.0,609.51 L1033.5,609.51 L1034.0,609.51 L1034.5,609.51 L1035.0,609.51 L1035.5,609.51 L1036.0,609.51 L1036.5,609.51 L1037.0,609.51 L1037.5,609.51 L1038.0,609.51 L1038.5,609.51 L1039.0,609.51 L1039.5,609.51 L1040.0,609.51 L1040.5,609.51 L1041.0,609.51 L1041.5,609.51 L1042.0,609.51 L1042.5,609.51 L1043.0,609.52 L1043.5,609.52 L1044.0,609.52 L1044.5,609.52 L1045.0,609.52 L1045.5,609.52 L1046.0,609.52 L1046.5,609.52 L1047.0,609.52 L1047.5,609.52 L1048.0,609.52 L1048.5,609.52 L1049.0,609.52 L1049.5,609.52 L1050.0,609.52 L1050.5,609.52 L1051.0,609.52 L1051.5,609.52 L1052.0,609.52 L1052.5,609.52 L1053.0,609.52 L1053.5,609.52 L1054.0,609.52 L1054.5,609.52 L1055.0,609.52 L1055.5,609.52 L1056.0,609.52 L1056.5,609.52 L1057.0,609.52 L1057.5,609.52 L1058.0,609.52 L1058.5,609.52 L1059.0,609.52 L1059.5,609.52 L1060.0,609.53 L1060.5,609.53 L1061.0,609.53 L1061.5,609.53 L1062.0,609.53 L1062.5,609.53 L1063.0,609.53 L1063.5,609.53 L1064.0,609.53 L1064.5,609.53 L1065.0,609.53 L1065.5,609.53 L1066.0,609.53 L1066.5,609.53 L1067.0,609.53 L1067.5,609.53 L1068.0,609.53 L1068.5,609.53 L1069.0,609.53 L1069.5,609.53 L1070.0,609.53 L1070.5,609.53 L1071.0,609.53 L1071.5,609.53 L1072.0,609.53 L1072.5,609.53 L1073.0,609.53 L1073.5,609.53 L1074.0,609.53 L1074.5,609.53 L1075.0,609.53 L1075.5,609.53 L1076.0,609.53 L1076.5,609.53 L1077.0,609.53 L1077.5,609.53 L1078.0,609.53 L1078.5,609.53 L1079.0,609.53 L1079.5,609.53 L1080.0,609.53 L1080.5,609.53 L1081.0,609.53 L1081.5,609.53 L1082.0,609.53 L1082.5,609.53 L1083.0,609.53 L1083.5,609.53 L1084.0,609.53 L1084.5,609.53 L1085.0,609.53 L1085.5,609.53 L1086.0,609.53 L1086.5,609.53 L1087.0,609.53 L1087.5,609.53 L1088.0,609.53 L1088.5,609.53 L1089.0,609.53 L1089.5,609.53 L1090.0,609.53 L1090.5,609.53 L1091.0,609.53 L1091.5,609.53 L1092.0,609.53 L1092.5,609.53 L1093.0,609.53 L1093.5,609.53 L1094.0,609.53 L1094.5,609.53 L1095.0,609.53 L1095.5,609.53 L1096.0,609.53 L1096.5,609.53 L1097.0,609.53 L1097.5,609.54 L1098.0,609.54 L1098.5,609.54 L1099.0,609.54 L1099.5,609.54 L1100.0,609.54 L1100.5,609.54 L1101.0,609.54 L1101.5,609.54 L1102.0,609.54 L1102.5,609.54 L1103.0,609.54 L1103.5,609.54 L1104.0,609.54 L1104.5,609.54 L1105.0,609.54 L1105.5,609.54 L1106.0,609.54 L1106.5,609.54 L1107.0,609.54 L1107.5,609.54 L1108.0,609.54 L1108.5,609.54 L1109.0,609.54 L1109.5,609.54 L1110.0,609.54 L1110.5,609.54 L1111.0,609.54 L1111.5,609.54 L1112.0,609.54 L1112.5,609.54 L1113.0,609.54 L1113.5,609.54 L1114.0,609.54 L1114.5,609.54 L1115.0,609.54 L1115.5,609.54 L1116.0,609.54 L1116.5,609.54 L1117.0,609.54 L1117.5,609.54 L1118.0,609.54 L1118.5,609.54 L1119.0,609.54 L1119.5,609.54 L1120.0,609.54 L1120.5,609.54 L1121.0,609.54 L1121.5,609.54 L1122.0,609.54 L1122.5,609.54 L1123.0,609.54 L1123.5,609.54 L1124.0,609.54 L1124.5,609.54 L1125.0,609.54 L1125.5,609.54 L1126.0,609.54 L1126.5,609.54 L1127.0,609.54 L1127.5,609.54 L1128.0,609.54 L1128.5,609.54 L1129.0,609.54 L1129.5,609.54 L1130.0,609.54 L1130.5,609.54 L1131.0,609.54 L1131.5,609.54 L1132.0,609.54 L1132.5,609.54 L1133.0,609.54 L1133.5,609.54 L1134.0,609.54 L1134.5,609.54 L1135.0,609.54 L1135.5,609.54 L1136.0,609.54 L1136.5,609.54 L1137.0,609.54 L1137.5,609.54 L1138.0,609.54 L1138.5,609.54 L1139.0,609.54 L1139.5,609.54 L1140.0,609.54 L1140.5,609.54 L1141.0,609.54 L1141.5,609.54 L1142.0,609.54 L1142.5,609.54 L1143.0,609.54 L1143.5,609.54 L1144.0,609.54 L1144.5,609.54 L1145.0,609.54 L1145.5,609.54 L1146.0,609.54 L1146.5,609.54 L1147.0,609.54 L1147.5,609.54 L1148.0,609.54 L1148.5,609.54 L1149.0,609.54 L1149.5,609.54 L1150.0,609.54 L1150.5,609.54 L1151.0,609.54 L1151.5,609.54 L1152.0,609.54 L1152.5,609.54 L1153.0,609.54 L1153.5,609.54 L1154.0,609.54 L1154.5,609.54 L1155.0,609.54 L1155.5,609.54 L1156.0,609.54 L1156.5,609.54 L1157.0,609.54 L1157.5,609.54 L1158.0,609.54 L1158.5,609.54 L1159.0,609.54 L1159.5,609.54 L1160.0,609.54 L1160.5,609.54 L1161.0,609.54 L1161.5,609.54 L1162.0,609.54 L1162.5,609.54 L1163.0,609.54 L1163.5,609.54 L1164.0,609.54 L1164.5,609.54 L1165.0,609.54 L1165.5,609.54 L1166.0,609.54 L1166.5,609.54 L1167.0,609.54 L1167.5,609.54 L1168.0,609.54 L1168.5,609.54 L1169.0,609.54 L1169.5,609.54 L1170.0,609.54 L1170.5,609.54 L1171.0,609.54 L1171.5,609.54 L1172.0,609.54 L1172.5,609.54 L1173.0,609.54 L1173.5,609.54 L1174.0,609.54 L1174.5,609.54 L1175.0,609.54 L1175.5,609.54 L1176.0,609.54 L1176.5,609.54 L1177.0,609.54 L1177.5,609.54 L1178.0,609.54 L1178.5,609.54 L1179.0,609.54 L1179.5,609.54 L1180.0,609.54 L1180.5,609.54 L1181.0,609.54 L1181.5,609.54 L1182.0,609.54 L1182.5,609.54 L1183.0,609.54 L1183.5,609.54 L1184.0,609.54 L1184.5,609.54 L1185.0,609.54 L1185.5,609.54 L1186.0,609.54 L1186.5,609.54 L1187.0,609.54 L1187.5,609.54 L1188.0,609.54 L1188.5,609.54 L1189.0,609.54 L1189.5,609.54 L1190.0,609.54 L1190.5,609.54 L1191.0,609.54 L1191.5,609.54 L1192.0,609.54 L1192.5,609.54 L1193.0,609.54 L1193.5,609.54 L1194.0,609.54 L1194.5,609.54 L1195.0,609.54 L1195.5,609.54 L1196.0,609.54 L1196.5,609.54 L1197.0,609.54 L1197.5,609.54 L1198.0,609.54 L1198.5,609.54 L1199.0,609.54 L1199.5,609.54 L1200.0,609.54 L1200.5,609.54 L1201.0,609.54 L1201.5,609.54 L1202.0,609.54 L1202.5,609.54 L1203.0,609.54 L1203.5,609.54 L1204.0,609.54 L1204.5,609.54 L1205.0,609.54 L1205.5,609.54 L1206.0,609.54 L1206.5,609.54 L1207.0,609.54 L1207.5,609.54 L1208.0,609.54 L1208.5,609.54 L1209.0,609.54 L1209.5,609.54 L1210.0,609.54 L1210.5,609.54 L1211.0,609.54 L1211.5,609.54 L1212.0,609.54 L1212.5,609.54 L1213.0,609.54 L1213.5,609.54 L1214.0,609.54 L1214.5,609.54 L1215.0,609.54 L1215.5,609.54 L1216.0,609.54 L1216.5,609.54 L1217.0,609.54 L1217.5,609.54 L1218.0,609.54 L1218.5,609.54 L1219.0,609.54 L1219.5,609.54 L1220.0,609.54 L1220.5,609.54 L1221.0,609.54 L1221.5,609.54 L1222.0,609.54 L1222.5,609.54 L1223.0,609.54 L1223.5,609.54 L1224.0,609.54 L1224.5,609.54 L1225.0,609.54 L1225.5,609.54 L1226.0,609.54 L1226.5,609.54 L1227.0,609.54 L1227.5,609.54 L1228.0,609.54 L1228.5,609.54 L1229.0,609.54 L1229.5,609.54 L1230.0,609.54 L1230.5,609.54 L1231.0,609.54 L1231.5,609.54 L1232.0,609.54 L1232.5,609.54 L1233.0,609.54 L1233.5,609.54 L1234.0,609.54 L1234.5,609.54 L1235.0,609.54 L1235.5,609.54 L1236.0,609.54 L1236.5,609.54 L1237.0,609.54 L1237.5,609.54 L1238.0,609.54 L1238.5,609.54 L1239.0,609.54 L1239.5,609.54 L1240.0,609.54 L1240.5,609.54 L1241.0,609.54 L1241.5,609.54 L1242.0,609.54 L1242.5,609.54 L1243.0,609.54 L1243.5,609.54 L1244.0,609.54 L1244.5,609.54 L1245.0,609.54 L1245.5,609.54 L1246.0,609.54 L1246.5,609.54 L1247.0,609.54 L1247.5,609.54 L1248.0,609.54 L1248.5,609.54 L1249.0,609.54 L1249.5,609.54 L1250.0,609.54 L1250.5,609.54 L1251.0,609.54 L1251.5,609.54 L1252.0,609.54 L1252.5,609.54 L1253.0,609.54 L1253.5,609.55 L1254.0,609.55 L1254.5,609.55 L1255.0,609.55 L1255.5,609.55 L1256.0,609.55 L1256.5,609.55 L1257.0,609.55 L1257.5,609.55 L1258.0,609.55 L1258.5,609.55 L1259.0,609.55 L1259.5,609.55 L1260.0,609.55 L1260.5,609.55 L1261.0,609.55 L1261.5,609.55 L1262.0,609.55 L1262.5,609.55 L1263.0,609.55 L1263.5,609.55 L1264.0,609.55 L1264.5,609.55 L1265.0,609.55 L1265.5,609.55 L1266.0,609.55 L1266.5,609.55 L1267.0,609.55 L1267.5,609.55 L1268.0,609.55 L1268.5,609.55 L1269.0,609.55 L1269.5,609.55 L1270.0,609.55 L1270.5,609.55 L1271.0,609.55 L1271.5,609.55 L1272.0,609.55 L1272.5,609.55 L1273.0,609.55 L1273.5,609.55 L1274.0,609.55 L1274.5,609.55 L1275.0,609.55 L1275.5,609.55 L1276.0,609.55 L1276.5,609.55 L1277.0,609.55 L1277.5,609.55 L1278.0,609.55 L1278.5,609.55 L1279.0,609.55 L1279.5,609.55 L1280.0,609.55 L1280.5,609.55 L1281.0,609.55 L1281.5,609.55 L1282.0,609.55 L1282.5,609.55 L1283.0,609.55 L1283.5,609.55 L1284.0,609.55 L1284.5,609.55 L1285.0,609.55 L1285.5,609.55 L1286.0,609.55 L1286.5,609.55 L1287.0,609.55 L1287.5,609.55 L1288.0,609.55 L1288.5,609.55 L1289.0,609.55 L1289.5,609.55 L1290.0,609.55 L1290.5,609.55 L1291.0,609.55 L1291.5,609.55 L1292.0,609.55 L1292.5,609.55 L1293.0,609.55 L1293.5,609.55 L1294.0,609.55 L1294.5,609.55 L1295.0,609.55 L1295.5,609.55 L1296.0,609.55 L1296.5,609.55 L1297.0,609.55 L1297.5,609.55 L1298.0,609.55 L1298.5,609.55 L1299.0,609.55 L1299.5,609.55 L1300.0,609.55 L1300.5,609.55 L1301.0,609.55 L1301.5,609.55 L1302.0,609.55 L1302.5,609.55 L1303.0,609.55 L1303.5,609.55 L1304.0,609.55 L1304.5,609.55 L1305.0,609.55 L1305.5,609.55 L1306.0,609.55 L1306.5,609.55 L1307.0,609.55 L1307.5,609.55 L1308.0,609.55 L1308.5,609.55 L1309.0,609.55 L1309.5,609.55 L1310.0,609.55 L1310.5,609.55 L1311.0,609.55 L1311.5,609.55 L1312.0,609.55 L1312.5,609.55 L1313.0,609.55 L1313.5,609.55 L1314.0,609.55 L1314.5,609.55 L1315.0,609.55 L1315.5,609.55 L1316.0,609.55 L1316.5,609.55 L1317.0,609.55 L1317.5,609.55 L1318.0,609.55 L1318.5,609.55 L1319.0,609.55 L1319.5,609.55 L1320.0,609.55 L1320.5,609.55 L1321.0,609.55 L1321.5,609.55 L1322.0,609.55 L1322.5,609.55 L1323.0,609.55 L1323.5,609.55 L1324.0,609.55 L1324.5,609.55 L1325.0,609.55 L1325.5,609.55 L1326.0,609.55 L1326.5,609.55 L1327.0,609.55 L1327.5,609.55 L1328.0,609.55 L1328.5,609.55 L1329.0,609.55 L1329.5,609.55 L1330.0,609.55 L1330.5,609.55 L1331.0,609.55 L1331.5,609.55 L1332.0,609.55 L1332.5,609.55 L1333.0,609.55 L1333.5,609.55 L1334.0,609.55 L1334.5,609.55 L1335.0,609.55 L1335.5,609.55 L1336.0,609.55 L1336.5,609.55 L1337.0,609.55 L1337.5,609.55 L1338.0,609.55 L1338.5,609.55 L1339.0,609.55 L1339.5,609.55 L1340.0,609.55 L1340.5,609.55 L1341.0,609.55 L1341.5,609.55 L1342.0,609.55 L1342.5,609.55 L1343.0,609.55 L1343.5,609.55 L1344.0,609.55 L1344.5,609.55 L1345.0,609.55 L1345.5,609.55 L1346.0,609.55 L1346.5,609.55 L1347.0,609.55 L1347.5,609.55 L1348.0,609.55 L1348.5,609.55 L1349.0,609.55 L1349.5,609.55 L1350.0,609.55 L1350.5,609.55 L1351.0,609.55 L1351.5,609.55 L1352.0,609.55 L1352.5,609.55 L1353.0,609.55 L1353.5,609.55 L1354.0,609.55 L1354.5,609.55 L1355.0,609.55 L1355.5,609.55 L1356.0,609.55 L1356.5,609.55 L1357.0,609.55 L1357.5,609.55 L1358.0,609.55 L1358.5,609.55 L1359.0,609.55 L1359.5,609.55 L1360.0,609.55 L1360.5,609.55 L1361.0,609.55 L1361.5,609.55 L1362.0,609.55 L1362.5,609.55 L1363.0,609.55 L1363.5,609.55 L1364.0,609.55 L1364.5,609.55 L1365.0,609.55 L1365.5,609.55 L1366.0,609.55 L1366.5,609.55 L1367.0,609.55 L1367.5,609.55 L1368.0,609.55 L1368.5,609.55 L1369.0,609.55 L1369.5,609.55 L1370.0,609.55 L1370.5,609.55 L1371.0,609.55 L1371.5,609.55 L1372.0,609.55 L1372.5,609.55 L1373.0,609.55 L1373.5,609.55 L1374.0,609.55 L1374.5,609.55 L1375.0,609.55 L1375.5,609.55 L1376.0,609.55 L1376.5,609.55 L1377.0,609.55 L1377.5,609.55 L1378.0,609.55 L1378.5,609.55 L1379.0,609.55 L1379.5,609.55 L1380.0,609.55 L1380.5,609.55 L1381.0,609.55 L1381.5,609.55 L1382.0,609.55 L1382.5,609.55 L1383.0,609.55 L1383.5,609.55 L1384.0,609.55 L1384.5,609.55 L1385.0,609.55 L1385.5,609.55 L1386.0,609.55 L1386.5,609.55 L1387.0,609.55 L1387.5,609.55 L1388.0,609.55 L1388.5,609.55 L1389.0,609.55 L1389.5,609.55 L1390.0,609.55 L1390.5,609.55 L1391.0,609.55 L1391.5,609.55 L1392.0,609.55 L1392.5,609.55 L1393.0,609.55 L1393.5,609.55 L1394.0,609.55 L1394.5,609.55 L1395.0,609.55 L1395.5,609.55 L1396.0,609.55 L1396.5,609.55 L1397.0,609.55 L1397.5,609.55 L1398.0,609.55 L1398.5,609.55 L1399.0,609.55 L1399.5,609.55 L1400.0,609.55 L1400.5,609.55 L1401.0,609.55 L1401.5,609.55 L1402.0,609.55 L1402.5,609.55 L1403.0,609.55 L1403.5,609.55 L1404.0,609.55 L1404.5,609.55 L1405.0,609.55 L1405.5,609.55 L1406.0,609.55 L1406.5,609.55 L1407.0,609.55 L1407.5,609.55 L1408.0,609.55 L1408.5,609.55 L1409.0,609.55 L1409.5,609.55 L1410.0,609.55 L1410.5,609.55 L1411.0,609.55 L1411.5,609.55 L1412.0,609.55 L1412.5,609.55 L1413.0,609.55 L1413.5,609.55 L1414.0,609.55 L1414.5,609.55 L1415.0,609.55 L1415.5,609.55 L1416.0,609.55 L1416.5,609.55 L1417.0,609.55 L1417.5,609.55 L1418.0,609.55 L1418.5,609.55 L1419.0,609.55 L1419.5,609.55 L1420.0,609.55 L1420.5,609.55 L1421.0,609.55 L1421.5,609.55 L1422.0,609.55 L1422.5,609.55 L1423.0,609.55 L1423.5,609.55 L1424.0,609.55 L1424.5,609.55 L1425.0,609.55 L1425.5,609.55 L1426.0,609.55 L1426.5,609.55 L1427.0,609.55 L1427.5,609.55 L1428.0,609.55 L1428.5,609.55 L1429.0,609.55 L1429.5,609.55 L1430.0,609.55 L1430.5,609.55 L1431.0,609.55 L1431.5,609.55 L1432.0,609.55 L1432.5,609.55 L1433.0,609.55 L1433.5,609.55 L1434.0,609.55 L1434.5,609.55 L1435.0,609.55 L1435.5,609.55 L1436.0,609.55 L1436.5,609.55 L1437.0,609.55 L1437.5,609.55 L1438.0,609.55 L1438.5,609.55 L1439.0,609.55 L1439.5,609.55 L1440.0,609.55 L1440.5,609.55 L1441.0,609.55 L1441.5,609.55 L1442.0,609.55 L1442.5,609.55 L1443.0,609.55 L1443.5,609.55 L1444.0,609.55 L1444.5,609.55 L1445.0,609.55 L1445.5,609.55 L1446.0,609.55 L1446.5,609.55 L1447.0,609.55 L1447.5,609.55 L1448.0,609.55 L1448.5,609.55 L1449.0,609.55 L1449.5,609.55 L1450.0,609.55 L1450.5,609.55 L1451.0,609.55 L1451.5,609.55 L1452.0,609.55 L1452.5,609.55 L1453.0,609.55 L1453.5,609.55 L1454.0,609.55 L1454.5,609.55 L1455.0,609.55 L1455.5,609.55 L1456.0,609.55 L1456.5,609.55 L1457.0,609.55 L1457.5,609.55 L1458.0,609.55 L1458.5,609.55 L1459.0,609.55 L1459.5,609.55 L1460.0,609.55 L1460.5,609.55 L1461.0,609.55 L1461.5,609.55 L1462.0,609.55 L1462.5,609.55 L1463.0,609.55 L1463.5,609.55 L1464.0,609.55 L1464.5,609.55" stroke="#c0504d" stroke-width="3.2"/>
<path d="M90.0,514.08 L90.5,514.08 L91.0,514.08 L91.5,514.08 L92.0,514.08 L92.5,514.08 L93.0,514.08 L93.5,514.08 L94.0,514.08 L94.5,514.08 L95.0,514.08 L95.5,514.08 L96.0,514.08 L96.5,514.08 L97.0,514.08 L97.5,514.08 L98.0,514.08 L98.5,514.08 L99.0,514.08 L99.5,514.08 L100.0,514.08 L100.5,514.08 L101.0,514.08 L101.5,514.08 L102.0,514.08 L102.5,514.08 L103.0,514.08 L103.5,514.08 L104.0,514.08 L104.5,514.08 L105.0,514.08 L105.5,514.08 L106.0,514.08 L106.5,514.08 L107.0,514.08 L107.5,514.08 L108.0,514.08 L108.5,514.08 L109.0,514.08 L109.5,514.08 L110.0,514.08 L110.5,514.08 L111.0,514.08 L111.5,514.08 L112.0,514.08 L112.5,514.08 L113.0,514.08 L113.5,514.08 L114.0,514.08 L114.5,514.08 L115.0,514.08 L115.5,514.08 L116.0,514.08 L116.5,514.08 L117.0,514.08 L117.5,514.08 L118.0,514.08 L118.5,514.08 L119.0,514.08 L119.5,514.08 L120.0,514.08 L120.5,514.08 L121.0,514.08 L121.5,514.08 L122.0,514.08 L122.5,514.08 L123.0,514.08 L123.5,514.08 L124.0,514.08 L124.5,514.08 L125.0,514.08 L125.5,514.08 L126.0,514.08 L126.5,514.08 L127.0,514.08 L127.5,514.08 L128.0,514.08 L128.5,514.08 L129.0,514.08 L129.5,514.08 L130.0,514.08 L130.5,514.08 L131.0,514.08 L131.5,514.08 L132.0,514.08 L132.5,514.08 L133.0,514.08 L133.5,514.08 L134.0,514.08 L134.5,514.08 L135.0,514.08 L135.5,514.08 L136.0,514.08 L136.5,514.08 L137.0,514.08 L137.5,514.08 L138.0,514.07 L138.5,514.07 L139.0,514.07 L139.5,514.07 L140.0,514.07 L140.5,514.07 L141.0,514.07 L141.5,514.07 L142.0,514.07 L142.5,514.07 L143.0,514.07 L143.5,514.07 L144.0,514.07 L144.5,514.07 L145.0,514.07 L145.5,514.07 L146.0,514.07 L146.5,514.07 L147.0,514.07 L147.5,514.07 L148.0,514.07 L148.5,514.07 L149.0,514.07 L149.5,514.07 L150.0,514.07 L150.5,514.07 L151.0,514.07 L151.5,514.07 L152.0,514.07 L152.5,514.07 L153.0,514.07 L153.5,514.07 L154.0,514.07 L154.5,514.07 L155.0,514.07 L155.5,514.07 L156.0,514.07 L156.5,514.07 L157.0,514.07 L157.5,514.07 L158.0,514.07 L158.5,514.07 L159.0,514.07 L159.5,514.07 L160.0,514.07 L160.5,514.07 L161.0,514.07 L161.5,514.07 L162.0,514.07 L162.5,514.07 L163.0,514.07 L163.5,514.07 L164.0,514.07 L164.5,514.07 L165.0,514.07 L165.5,514.07 L166.0,514.07 L166.5,514.07 L167.0,514.07 L167.5,514.07 L168.0,514.07 L168.5,514.07 L169.0,514.07 L169.5,514.07 L170.0,514.07 L170.5,514.07 L171.0,514.07 L171.5,514.07 L172.0,514.07 L172.5,514.07 L173.0,514.07 L173.5,514.07 L174.0,514.07 L174.5,514.07 L175.0,514.07 L175.5,514.07 L176.0,514.07 L176.5,514.07 L177.0,514.07 L177.5,514.07 L178.0,514.07 L178.5,514.06 L179.0,514.06 L179.5,514.06 L180.0,514.06 L180.5,514.06 L181.0,514.06 L181.5,514.06 L182.0,514.06 L182.5,514.06 L183.0,514.06 L183.5,514.06 L184.0,514.06 L184.5,514.06 L185.0,514.06 L185.5,514.06 L186.0,514.06 L186.5,514.06 L187.0,514.06 L187.5,514.06 L188.0,514.06 L188.5,514.06 L189.0,514.06 L189.5,514.06 L190.0,514.06 L190.5,514.06 L191.0,514.06 L191.5,514.06 L192.0,514.06 L192.5,514.06 L193.0,514.06 L193.5,514.06 L194.0,514.06 L194.5,514.06 L195.0,514.06 L195.5,514.06 L196.0,514.06 L196.5,514.06 L197.0,514.06 L197.5,514.06 L198.0,514.06 L198.5,514.06 L199.0,514.06 L199.5,514.06 L200.0,514.06 L200.5,514.06 L201.0,514.06 L201.5,514.06 L202.0,514.06 L202.5,514.06 L203.0,514.05 L203.5,514.05 L204.0,514.05 L204.5,514.05 L205.0,514.05 L205.5,514.05 L206.0,514.05 L206.5,514.05 L207.0,514.05 L207.5,514.05 L208.0,514.05 L208.5,514.05 L209.0,514.05 L209.5,514.05 L210.0,514.05 L210.5,514.05 L211.0,514.05 L211.5,514.05 L212.0,514.05 L212.5,514.05 L213.0,514.05 L213.5,514.05 L214.0,514.05 L214.5,514.05 L215.0,514.05 L215.5,514.05 L216.0,514.05 L216.5,514.05 L217.0,514.05 L217.5,514.05 L218.0,514.05 L218.5,514.05 L219.0,514.05 L219.5,514.04 L220.0,514.04 L220.5,514.04 L221.0,514.04 L221.5,514.04 L222.0,514.04 L222.5,514.04 L223.0,514.04 L223.5,514.04 L224.0,514.04 L224.5,514.04 L225.0,514.04 L225.5,514.04 L226.0,514.04 L226.5,514.04 L227.0,514.04 L227.5,514.04 L228.0,514.04 L228.5,514.04 L229.0,514.04 L229.5,514.04 L230.0,514.04 L230.5,514.04 L231.0,514.03 L231.5,514.03 L232.0,514.03 L232.5,514.03 L233.0,514.03 L233.5,514.03 L234.0,514.03 L234.5,514.03 L235.0,514.03 L235.5,514.03 L236.0,514.03 L236.5,514.03 L237.0,514.03 L237.5,514.03 L238.0,514.03 L238.5,514.03 L239.0,514.03 L239.5,514.02 L240.0,514.02 L240.5,514.02 L241.0,514.02 L241.5,514.02 L242.0,514.02 L242.5,514.02 L243.0,514.02 L243.5,514.02 L244.0,514.02 L244.5,514.02 L245.0,514.02 L245.5,514.02 L246.0,514.02 L246.5,514.01 L247.0,514.01 L247.5,514.01 L248.0,514.01 L248.5,514.01 L249.0,514.01 L249.5,514.01 L250.0,514.01 L250.5,514.01 L251.0,514.01 L251.5,514.00 L252.0,514.00 L252.5,514.00 L253.0,514.00 L253.5,514.00 L254.0,514.00 L254.5,514.00 L255.0,514.00 L255.5,513.99 L256.0,513.99 L256.5,513.99 L257.0,513.99 L257.5,513.99 L258.0,513.99 L258.5,513.99 L259.0,513.98 L259.5,513.98 L260.0,513.98 L260.5,513.98 L261.0,513.98 L261.5,513.98 L262.0,513.97 L262.5,513.97 L263.0,513.97 L263.5,513.97 L264.0,513.97 L264.5,513.96 L265.0,513.96 L265.5,513.96 L266.0,513.96 L266.5,513.95 L267.0,513.95 L267.5,513.95 L268.0,513.95 L268.5,513.94 L269.0,513.94 L269.5,513.94 L270.0,513.93 L270.5,513.93 L271.0,513.92 L271.5,513.92 L272.0,513.92 L272.5,513.91 L273.0,513.91 L273.5,513.90 L274.0,513.90 L274.5,513.89 L275.0,513.89 L275.5,513.88 L276.0,513.88 L276.5,513.87 L277.0,513.86 L277.5,513.85 L278.0,513.85 L278.5,513.84 L279.0,513.83 L279.5,513.82 L280.0,513.81 L280.5,513.80 L281.0,513.79 L281.5,513.78 L282.0,513.76 L282.5,513.75 L283.0,513.73 L283.5,513.72 L284.0,513.70 L284.5,513.68 L285.0,513.66 L285.5,513.64 L286.0,513.61 L286.5,513.58 L287.0,513.55 L287.5,513.52 L288.0,513.48 L288.5,513.44 L289.0,513.39 L289.5,513.33 L290.0,513.27 L290.5,513.20 L291.0,513.12 L291.5,513.02 L292.0,512.89 L292.5,512.71 L293.0,512.47 L293.5,512.10 L294.0,511.54 L294.5,510.69 L295.0,509.40 L295.5,507.51 L296.0,504.83 L296.5,501.19 L297.0,496.49 L297.5,490.72 L298.0,484.05 L298.5,476.83 L299.0,469.62 L299.5,463.16 L300.0,458.27 L300.5,455.73 L301.0,456.02 L301.5,459.08 L302.0,464.35 L302.5,471.02 L303.0,478.28 L303.5,485.43 L304.0,491.94 L304.5,497.50 L305.0,501.98 L305.5,505.42 L306.0,507.92 L306.5,509.68 L307.0,510.86 L307.5,511.64 L308.0,512.15 L308.5,512.49 L309.0,512.72 L309.5,512.88 L310.0,513.00 L310.5,513.09 L311.0,513.17 L311.5,513.24 L312.0,513.30 L312.5,513.35 L313.0,513.39 L313.5,513.43 L314.0,513.47 L314.5,513.50 L315.0,513.52 L315.5,513.55 L316.0,513.57 L316.5,513.59 L317.0,513.61 L317.5,513.63 L318.0,513.64 L318.5,513.66 L319.0,513.67 L319.5,513.68 L320.0,513.69 L320.5,513.70 L321.0,513.71 L321.5,513.72 L322.0,513.72 L322.5,513.73 L323.0,513.74 L323.5,513.74 L324.0,513.75 L324.5,513.75 L325.0,513.76 L325.5,513.76 L326.0,513.76 L326.5,513.76 L327.0,513.77 L327.5,513.77 L328.0,513.77 L328.5,513.77 L329.0,513.77 L329.5,513.77 L330.0,513.78 L330.5,513.78 L331.0,513.78 L331.5,513.78 L332.0,513.78 L332.5,513.78 L333.0,513.78 L333.5,513.78 L334.0,513.77 L334.5,513.77 L335.0,513.77 L335.5,513.77 L336.0,513.77 L336.5,513.77 L337.0,513.77 L337.5,513.76 L338.0,513.76 L338.5,513.76 L339.0,513.76 L339.5,513.76 L340.0,513.75 L340.5,513.75 L341.0,513.75 L341.5,513.74 L342.0,513.74 L342.5,513.74 L343.0,513.73 L343.5,513.73 L344.0,513.73 L344.5,513.72 L345.0,513.72 L345.5,513.71 L346.0,513.71 L346.5,513.70 L347.0,513.70 L347.5,513.70 L348.0,513.69 L348.5,513.68 L349.0,513.68 L349.5,513.67 L350.0,513.67 L350.5,513.66 L351.0,513.66 L351.5,513.65 L352.0,513.64 L352.5,513.63 L353.0,513.63 L353.5,513.62 L354.0,513.61 L354.5,513.60 L355.0,513.60 L355.5,513.59 L356.0,513.58 L356.5,513.57 L357.0,513.56 L357.5,513.55 L358.0,513.54 L358.5,513.53 L359.0,513.52 L359.5,513.51 L360.0,513.50 L360.5,513.49 L361.0,513.47 L361.5,513.46 L362.0,513.45 L362.5,513.44 L363.0,513.42 L363.5,513.41 L364.0,513.39 L364.5,513.38 L365.0,513.36 L365.5,513.34 L366.0,513.33 L366.5,513.31 L367.0,513.29 L367.5,513.27 L368.0,513.25 L368.5,513.23 L369.0,513.21 L369.5,513.19 L370.0,513.16 L370.5,513.14 L371.0,513.11 L371.5,513.09 L372.0,513.06 L372.5,513.03 L373.0,513.00 L373.5,512.97 L374.0,512.93 L374.5,512.90 L375.0,512.86 L375.5,512.82 L376.0,512.78 L376.5,512.74 L377.0,512.70 L377.5,512.65 L378.0,512.60 L378.5,512.55 L379.0,512.50 L379.5,512.44 L380.0,512.38 L380.5,512.32 L381.0,512.25 L381.5,512.18 L382.0,512.11 L382.5,512.03 L383.0,511.94 L383.5,511.85 L384.0,511.76 L384.5,511.65 L385.0,511.54 L385.5,511.43 L386.0,511.30 L386.5,511.17 L387.0,511.02 L387.5,510.87 L388.0,510.70 L388.5,510.52 L389.0,510.33 L389.5,510.12 L390.0,509.89 L390.5,509.64 L391.0,509.37 L391.5,509.07 L392.0,508.74 L392.5,508.38 L393.0,507.98 L393.5,507.54 L394.0,507.04 L394.5,506.47 L395.0,505.82 L395.5,505.07 L396.0,504.17 L396.5,503.09 L397.0,501.76 L397.5,500.08 L398.0,497.95 L398.5,495.22 L399.0,491.72 L399.5,487.24 L400.0,481.56 L400.5,474.45 L401.0,465.71 L401.5,455.16 L402.0,442.73 L402.5,428.43 L403.0,412.44 L403.5,395.12 L404.0,377.06 L404.5,359.10 L405.0,342.40 L405.5,328.40 L406.0,318.61 L406.5,314.33 L407.0,316.01 L407.5,323.14 L408.0,334.93 L408.5,350.24 L409.0,367.80 L409.5,386.41 L410.0,405.02 L410.5,422.80 L411.0,439.12 L411.5,453.57 L412.0,465.97 L412.5,476.29 L413.0,484.63 L413.5,491.22 L414.0,496.28 L414.5,500.11 L415.0,502.94 L415.5,505.02 L416.0,506.54 L416.5,507.65 L417.0,508.47 L417.5,509.08 L418.0,509.55 L418.5,509.93 L419.0,510.23 L419.5,510.49 L420.0,510.70 L420.5,510.89 L421.0,511.05 L421.5,511.19 L422.0,511.31 L422.5,511.42 L423.0,511.50 L423.5,511.58 L424.0,511.64 L424.5,511.68 L425.0,511.70 L425.5,511.71 L426.0,511.68 L426.5,511.60 L427.0,511.43 L427.5,511.12 L428.0,510.55 L428.5,509.54 L429.0,507.85 L429.5,505.14 L430.0,501.01 L430.5,495.06 L431.0,486.99 L431.5,476.70 L432.0,464.44 L432.5,450.93 L433.0,437.29 L433.5,425.03 L434.0,415.79 L434.5,411.03 L435.0,411.68 L435.5,417.87 L436.0,428.27 L436.5,440.99 L437.0,454.34 L437.5,467.00 L438.0,478.12 L438.5,487.30 L439.0,494.45 L439.5,499.76 L440.0,503.52 L440.5,506.11 L441.0,507.85 L441.5,509.02 L442.0,509.82 L442.5,510.38 L443.0,510.80 L443.5,511.13 L444.0,511.39 L444.5,511.62 L445.0,511.81 L445.5,511.98 L446.0,512.13 L446.5,512.26 L447.0,512.38 L447.5,512.48 L448.0,512.58 L448.5,512.66 L449.0,512.74 L449.5,512.81 L450.0,512.87 L450.5,512.93 L451.0,512.99 L451.5,513.04 L452.0,513.08 L452.5,513.13 L453.0,513.16 L453.5,513.20 L454.0,513.24 L454.5,513.27 L455.0,513.30 L455.5,513.32 L456.0,513.35 L456.5,513.38 L457.0,513.40 L457.5,513.42 L458.0,513.44 L458.5,513.46 L459.0,513.48 L459.5,513.50 L460.0,513.51 L460.5,513.53 L461.0,513.54 L461.5,513.56 L462.0,513.57 L462.5,513.58 L463.0,513.59 L463.5,513.60 L464.0,513.62 L464.5,513.63 L465.0,513.64 L465.5,513.64 L466.0,513.65 L466.5,513.66 L467.0,513.67 L467.5,513.68 L468.0,513.69 L468.5,513.69 L469.0,513.70 L469.5,513.71 L470.0,513.71 L470.5,513.72 L471.0,513.72 L471.5,513.73 L472.0,513.74 L472.5,513.74 L473.0,513.75 L473.5,513.75 L474.0,513.75 L474.5,513.76 L475.0,513.76 L475.5,513.77 L476.0,513.77 L476.5,513.77 L477.0,513.78 L477.5,513.78 L478.0,513.78 L478.5,513.79 L479.0,513.79 L479.5,513.79 L480.0,513.79 L480.5,513.80 L481.0,513.80 L481.5,513.80 L482.0,513.80 L482.5,513.81 L483.0,513.81 L483.5,513.81 L484.0,513.81 L484.5,513.81 L485.0,513.81 L485.5,513.82 L486.0,513.82 L486.5,513.82 L487.0,513.82 L487.5,513.82 L488.0,513.82 L488.5,513.82 L489.0,513.82 L489.5,513.82 L490.0,513.82 L490.5,513.82 L491.0,513.82 L491.5,513.82 L492.0,513.82 L492.5,513.82 L493.0,513.82 L493.5,513.82 L494.0,513.82 L494.5,513.82 L495.0,513.82 L495.5,513.82 L496.0,513.82 L496.5,513.82 L497.0,513.82 L497.5,513.82 L498.0,513.82 L498.5,513.82 L499.0,513.81 L499.5,513.81 L500.0,513.81 L500.5,513.81 L501.0,513.81 L501.5,513.81 L502.0,513.80 L502.5,513.80 L503.0,513.80 L503.5,513.80 L504.0,513.79 L504.5,513.79 L505.0,513.79 L505.5,513.78 L506.0,513.78 L506.5,513.78 L507.0,513.77 L507.5,513.77 L508.0,513.77 L508.5,513.76 L509.0,513.76 L509.5,513.75 L510.0,513.75 L510.5,513.75 L511.0,513.74 L511.5,513.73 L512.0,513.73 L512.5,513.72 L513.0,513.72 L513.5,513.71 L514.0,513.70 L514.5,513.70 L515.0,513.69 L515.5,513.68 L516.0,513.67 L516.5,513.67 L517.0,513.66 L517.5,513.65 L518.0,513.64 L518.5,513.63 L519.0,513.62 L519.5,513.61 L520.0,513.60 L520.5,513.58 L521.0,513.57 L521.5,513.56 L522.0,513.54 L522.5,513.53 L523.0,513.51 L523.5,513.50 L524.0,513.48 L524.5,513.46 L525.0,513.44 L525.5,513.42 L526.0,513.40 L526.5,513.38 L527.0,513.35 L527.5,513.33 L528.0,513.30 L528.5,513.27 L529.0,513.24 L529.5,513.21 L530.0,513.18 L530.5,513.14 L531.0,513.10 L531.5,513.06 L532.0,513.02 L532.5,512.97 L533.0,512.92 L533.5,512.86 L534.0,512.80 L534.5,512.74 L535.0,512.67 L535.5,512.59 L536.0,512.51 L536.5,512.43 L537.0,512.33 L537.5,512.22 L538.0,512.11 L538.5,511.98 L539.0,511.84 L539.5,511.68 L540.0,511.49 L540.5,511.27 L541.0,511.01 L541.5,510.69 L542.0,510.27 L542.5,509.73 L543.0,509.00 L543.5,508.02 L544.0,506.68 L544.5,504.86 L545.0,502.42 L545.5,499.17 L546.0,494.94 L546.5,489.53 L547.0,482.79 L547.5,474.57 L548.0,464.83 L548.5,453.61 L549.0,441.09 L549.5,427.55 L550.0,413.47 L550.5,399.45 L551.0,386.21 L551.5,374.59 L552.0,365.44 L552.5,359.55 L553.0,357.50 L553.5,359.49 L554.0,365.30 L554.5,374.37 L555.0,385.88 L555.5,398.94 L556.0,412.65 L556.5,426.18 L557.0,438.74 L557.5,449.64 L558.0,458.26 L558.5,464.18 L559.0,467.17 L559.5,467.38 L560.0,465.38 L560.5,462.13 L561.0,458.95 L561.5,457.21 L562.0,457.99 L562.5,461.69 L563.0,467.89 L563.5,475.60 L564.0,483.70 L564.5,491.25 L565.0,497.61 L565.5,502.52 L566.0,506.03 L566.5,508.37 L567.0,509.86 L567.5,510.76 L568.0,511.32 L568.5,511.66 L569.0,511.90 L569.5,512.07 L570.0,512.22 L570.5,512.34 L571.0,512.44 L571.5,512.54 L572.0,512.63 L572.5,512.71 L573.0,512.78 L573.5,512.84 L574.0,512.91 L574.5,512.96 L575.0,513.01 L575.5,513.06 L576.0,513.11 L576.5,513.15 L577.0,513.19 L577.5,513.23 L578.0,513.26 L578.5,513.29 L579.0,513.32 L579.5,513.35 L580.0,513.38 L580.5,513.41 L581.0,513.43 L581.5,513.45 L582.0,513.47 L582.5,513.50 L583.0,513.51 L583.5,513.53 L584.0,513.55 L584.5,513.57 L585.0,513.58 L585.5,513.60 L586.0,513.61 L586.5,513.63 L587.0,513.64 L587.5,513.65 L588.0,513.66 L588.5,513.68 L589.0,513.69 L589.5,513.70 L590.0,513.71 L590.5,513.72 L591.0,513.73 L591.5,513.74 L592.0,513.74 L592.5,513.75 L593.0,513.76 L593.5,513.77 L594.0,513.78 L594.5,513.78 L595.0,513.79 L595.5,513.80 L596.0,513.80 L596.5,513.81 L597.0,513.82 L597.5,513.82 L598.0,513.83 L598.5,513.83 L599.0,513.84 L599.5,513.84 L600.0,513.85 L600.5,513.85 L601.0,513.86 L601.5,513.86 L602.0,513.87 L602.5,513.87 L603.0,513.87 L603.5,513.88 L604.0,513.88 L604.5,513.89 L605.0,513.89 L605.5,513.89 L606.0,513.90 L606.5,513.90 L607.0,513.90 L607.5,513.91 L608.0,513.91 L608.5,513.91 L609.0,513.91 L609.5,513.92 L610.0,513.92 L610.5,513.92 L611.0,513.93 L611.5,513.93 L612.0,513.93 L612.5,513.93 L613.0,513.94 L613.5,513.94 L614.0,513.94 L614.5,513.94 L615.0,513.94 L615.5,513.95 L616.0,513.95 L616.5,513.95 L617.0,513.95 L617.5,513.95 L618.0,513.96 L618.5,513.96 L619.0,513.96 L619.5,513.96 L620.0,513.96 L620.5,513.96 L621.0,513.97 L621.5,513.97 L622.0,513.97 L622.5,513.97 L623.0,513.97 L623.5,513.97 L624.0,513.98 L624.5,513.98 L625.0,513.98 L625.5,513.98 L626.0,513.98 L626.5,513.98 L627.0,513.98 L627.5,513.98 L628.0,513.99 L628.5,513.99 L629.0,513.99 L629.5,513.99 L630.0,513.99 L630.5,513.99 L631.0,513.99 L631.5,513.99 L632.0,513.99 L632.5,514.00 L633.0,514.00 L633.5,514.00 L634.0,514.00 L634.5,514.00 L635.0,514.00 L635.5,514.00 L636.0,514.00 L636.5,514.00 L637.0,514.00 L637.5,514.00 L638.0,514.01 L638.5,514.01 L639.0,514.01 L639.5,514.01 L640.0,514.01 L640.5,514.01 L641.0,514.01 L641.5,514.01 L642.0,514.01 L642.5,514.01 L643.0,514.01 L643.5,514.01 L644.0,514.01 L644.5,514.02 L645.0,514.02 L645.5,514.02 L646.0,514.02 L646.5,514.02 L647.0,514.02 L647.5,514.02 L648.0,514.02 L648.5,514.02 L649.0,514.02 L649.5,514.02 L650.0,514.02 L650.5,514.02 L651.0,514.02 L651.5,514.02 L652.0,514.02 L652.5,514.02 L653.0,514.02 L653.5,514.03 L654.0,514.03 L654.5,514.03 L655.0,514.03 L655.5,514.03 L656.0,514.03 L656.5,514.03 L657.0,514.03 L657.5,514.03 L658.0,514.03 L658.5,514.03 L659.0,514.03 L659.5,514.03 L660.0,514.03 L660.5,514.03 L661.0,514.03 L661.5,514.03 L662.0,514.03 L662.5,514.03 L663.0,514.03 L663.5,514.03 L664.0,514.03 L664.5,514.03 L665.0,514.03 L665.5,514.04 L666.0,514.04 L666.5,514.04 L667.0,514.04 L667.5,514.04 L668.0,514.04 L668.5,514.04 L669.0,514.04 L669.5,514.04 L670.0,514.04 L670.5,514.04 L671.0,514.04 L671.5,514.04 L672.0,514.04 L672.5,514.04 L673.0,514.04 L673.5,514.04 L674.0,514.04 L674.5,514.04 L675.0,514.04 L675.5,514.04 L676.0,514.04 L676.5,514.04 L677.0,514.04 L677.5,514.04 L678.0,514.04 L678.5,514.05 L679.0,514.05 L679.5,514.04 L680.0,514.03 L680.5,514.01 L681.0,513.98 L681.5,513.96 L682.0,513.92 L682.5,513.85 L683.0,513.78 L683.5,513.72 L684.0,513.65 L684.5,513.52 L685.0,513.40 L685.5,513.27 L686.0,513.15 L686.5,512.96 L687.0,512.78 L687.5,512.59 L688.0,512.37 L688.5,512.10 L689.0,511.83 L689.5,511.61 L690.0,511.42 L690.5,511.23 L691.0,511.04 L691.5,510.88 L692.0,510.74 L692.5,510.60 L693.0,510.46 L693.5,510.32 L694.0,510.14 L694.5,509.92 L695.0,509.70 L695.5,509.48 L696.0,509.20 L696.5,508.85 L697.0,508.50 L697.5,508.03 L698.0,507.45 L698.5,506.87 L699.0,506.08 L699.5,505.22 L700.0,504.26 L700.5,503.01 L701.0,501.75 L701.5,500.00 L702.0,498.25 L702.5,496.14 L703.0,493.85 L703.5,491.31 L704.0,491.01 L704.5,492.75 L705.0,495.09 L705.5,497.50 L706.0,500.00 L706.5,502.50 L707.0,504.60 L707.5,506.70 L708.0,508.40 L708.5,510.10 L709.0,510.99 L709.5,511.88 L710.0,512.28 L710.5,512.52 L711.0,512.70 L711.5,512.72 L712.0,512.73 L712.5,512.74 L713.0,512.76 L713.5,512.77 L714.0,512.78 L714.5,512.79 L715.0,512.78 L715.5,512.75 L716.0,512.72 L716.5,512.69 L717.0,512.66 L717.5,512.63 L718.0,512.60 L718.5,512.57 L719.0,512.53 L719.5,512.50 L720.0,512.47 L720.5,512.44 L721.0,512.41 L721.5,512.36 L722.0,512.30 L722.5,512.24 L723.0,512.18 L723.5,512.11 L724.0,512.05 L724.5,511.99 L725.0,511.93 L725.5,511.87 L726.0,511.81 L726.5,511.75 L727.0,511.68 L727.5,511.62 L728.0,511.56 L728.5,511.49 L729.0,511.40 L729.5,511.32 L730.0,511.23 L730.5,511.14 L731.0,511.06 L731.5,510.97 L732.0,510.88 L732.5,510.80 L733.0,510.71 L733.5,510.62 L734.0,510.54 L734.5,510.45 L735.0,510.37 L735.5,510.28 L736.0,510.19 L736.5,510.10 L737.0,510.01 L737.5,509.91 L738.0,509.82 L738.5,509.72 L739.0,509.63 L739.5,509.53 L740.0,509.44 L740.5,509.35 L741.0,509.25 L741.5,509.16 L742.0,509.06 L742.5,508.97 L743.0,508.88 L743.5,508.78 L744.0,508.68 L744.5,508.57 L745.0,508.47 L745.5,508.37 L746.0,508.26 L746.5,508.16 L747.0,508.06 L747.5,507.96 L748.0,507.85 L748.5,507.75 L749.0,507.65 L749.5,507.54 L750.0,507.44 L750.5,507.31 L751.0,507.17 L751.5,507.02 L752.0,506.88 L752.5,506.73 L753.0,506.59 L753.5,506.44 L754.0,506.30 L754.5,506.16 L755.0,506.00 L755.5,505.75 L756.0,505.50 L756.5,505.25 L757.0,505.00 L757.5,504.75 L758.0,504.44 L758.5,504.11 L759.0,503.78 L759.5,503.45 L760.0,503.12 L760.5,502.78 L761.0,502.38 L761.5,501.97 L762.0,501.57 L762.5,501.16 L763.0,500.76 L763.5,500.44 L764.0,500.30 L764.5,500.17 L765.0,500.04 L765.5,500.41 L766.0,501.21 L766.5,502.21 L767.0,503.24 L767.5,504.40 L768.0,505.60 L768.5,506.76 L769.0,507.82 L769.5,508.88 L770.0,509.85 L770.5,510.78 L771.0,511.70 L771.5,511.84 L772.0,511.94 L772.5,511.61 L773.0,510.74 L773.5,509.81 L774.0,508.57 L774.5,507.32 L775.0,505.65 L775.5,503.98 L776.0,503.16 L776.5,502.35 L777.0,501.68 L777.5,501.37 L778.0,501.06 L778.5,500.76 L779.0,500.90 L779.5,501.09 L780.0,501.28 L780.5,501.67 L781.0,502.33 L781.5,503.00 L782.0,503.67 L782.5,504.39 L783.0,505.14 L783.5,505.88 L784.0,506.67 L784.5,507.50 L785.0,508.33 L785.5,509.09 L786.0,509.77 L786.5,510.46 L787.0,511.07 L787.5,511.60 L788.0,512.13 L788.5,512.57 L789.0,512.91 L789.5,513.38 L790.0,513.66 L790.5,513.81 L791.0,513.92 L791.5,513.97 L792.0,513.97 L792.5,513.97 L793.0,513.97 L793.5,513.96 L794.0,513.96 L794.5,513.96 L795.0,513.96 L795.5,513.95 L796.0,513.95 L796.5,513.95 L797.0,513.94 L797.5,513.94 L798.0,513.94 L798.5,513.93 L799.0,513.93 L799.5,513.93 L800.0,513.92 L800.5,513.92 L801.0,513.91 L801.5,513.91 L802.0,513.90 L802.5,513.90 L803.0,513.89 L803.5,513.89 L804.0,513.88 L804.5,513.88 L805.0,513.87 L805.5,513.86 L806.0,513.85 L806.5,513.85 L807.0,513.84 L807.5,513.83 L808.0,513.82 L808.5,513.81 L809.0,513.80 L809.5,513.79 L810.0,513.78 L810.5,513.77 L811.0,513.75 L811.5,513.74 L812.0,513.72 L812.5,513.71 L813.0,513.69 L813.5,513.67 L814.0,513.65 L814.5,513.63 L815.0,513.61 L815.5,513.58 L816.0,513.55 L816.5,513.52 L817.0,513.48 L817.5,513.44 L818.0,513.39 L818.5,513.33 L819.0,513.25 L819.5,513.15 L820.0,513.02 L820.5,512.85 L821.0,512.63 L821.5,512.35 L822.0,511.98 L822.5,511.51 L823.0,510.90 L823.5,510.14 L824.0,509.19 L824.5,508.03 L825.0,506.63 L825.5,504.96 L826.0,503.01 L826.5,500.77 L827.0,498.25 L827.5,495.47 L828.0,492.46 L828.5,489.29 L829.0,486.02 L829.5,482.74 L830.0,479.55 L830.5,476.59 L831.0,473.95 L831.5,471.78 L832.0,470.18 L832.5,469.24 L833.0,469.01 L833.5,469.53 L834.0,470.74 L834.5,472.58 L835.0,474.95 L835.5,477.74 L836.0,480.80 L836.5,484.04 L837.0,487.33 L837.5,490.57 L838.0,493.68 L838.5,496.60 L839.0,499.28 L839.5,501.69 L840.0,503.81 L840.5,505.65 L841.0,507.21 L841.5,508.51 L842.0,509.59 L842.5,510.45 L843.0,511.15 L843.5,511.70 L844.0,512.12 L844.5,512.45 L845.0,512.71 L845.5,512.90 L846.0,513.05 L846.5,513.17 L847.0,513.26 L847.5,513.33 L848.0,513.39 L848.5,513.44 L849.0,513.48 L849.5,513.51 L850.0,513.54 L850.5,513.57 L851.0,513.59 L851.5,513.62 L852.0,513.64 L852.5,513.65 L853.0,513.67 L853.5,513.69 L854.0,513.70 L854.5,513.72 L855.0,513.73 L855.5,513.74 L856.0,513.75 L856.5,513.76 L857.0,513.77 L857.5,513.78 L858.0,513.79 L858.5,513.80 L859.0,513.80 L859.5,513.81 L860.0,513.82 L860.5,513.82 L861.0,513.83 L861.5,513.84 L862.0,513.84 L862.5,513.85 L863.0,513.85 L863.5,513.85 L864.0,513.86 L864.5,513.86 L865.0,513.87 L865.5,513.87 L866.0,513.87 L866.5,513.88 L867.0,513.88 L867.5,513.88 L868.0,513.88 L868.5,513.89 L869.0,513.89 L869.5,513.89 L870.0,513.89 L870.5,513.89 L871.0,513.89 L871.5,513.90 L872.0,513.90 L872.5,513.90 L873.0,513.90 L873.5,513.90 L874.0,513.90 L874.5,513.90 L875.0,513.90 L875.5,513.90 L876.0,513.90 L876.5,513.90 L877.0,513.90 L877.5,513.90 L878.0,513.90 L878.5,513.90 L879.0,513.90 L879.5,513.90 L880.0,513.90 L880.5,513.90 L881.0,513.90 L881.5,513.90 L882.0,513.90 L882.5,513.90 L883.0,513.90 L883.5,513.90 L884.0,513.90 L884.5,513.90 L885.0,513.90 L885.5,513.89 L886.0,513.89 L886.5,513.89 L887.0,513.89 L887.5,513.89 L888.0,513.89 L888.5,513.89 L889.0,513.88 L889.5,513.88 L890.0,513.88 L890.5,513.88 L891.0,513.87 L891.5,513.87 L892.0,513.87 L892.5,513.87 L893.0,513.86 L893.5,513.86 L894.0,513.86 L894.5,513.85 L895.0,513.85 L895.5,513.85 L896.0,513.84 L896.5,513.84 L897.0,513.84 L897.5,513.83 L898.0,513.83 L898.5,513.82 L899.0,513.82 L899.5,513.81 L900.0,513.81 L900.5,513.80 L901.0,513.80 L901.5,513.79 L902.0,513.79 L902.5,513.78 L903.0,513.78 L903.5,513.77 L904.0,513.76 L904.5,513.75 L905.0,513.75 L905.5,513.74 L906.0,513.73 L906.5,513.72 L907.0,513.71 L907.5,513.70 L908.0,513.70 L908.5,513.69 L909.0,513.67 L909.5,513.66 L910.0,513.65 L910.5,513.64 L911.0,513.63 L911.5,513.61 L912.0,513.60 L912.5,513.58 L913.0,513.57 L913.5,513.55 L914.0,513.53 L914.5,513.51 L915.0,513.49 L915.5,513.46 L916.0,513.44 L916.5,513.40 L917.0,513.37 L917.5,513.33 L918.0,513.28 L918.5,513.23 L919.0,513.16 L919.5,513.08 L920.0,512.99 L920.5,512.88 L921.0,512.75 L921.5,512.60 L922.0,512.41 L922.5,512.18 L923.0,511.91 L923.5,511.59 L924.0,511.21 L924.5,510.76 L925.0,510.24 L925.5,509.62 L926.0,508.90 L926.5,508.06 L927.0,507.10 L927.5,506.01 L928.0,504.76 L928.5,503.35 L929.0,501.78 L929.5,500.02 L930.0,498.08 L930.5,495.95 L931.0,493.64 L931.5,491.14 L932.0,488.46 L932.5,485.62 L933.0,482.62 L933.5,479.50 L934.0,476.28 L934.5,472.98 L935.0,469.64 L935.5,466.30 L936.0,463.00 L936.5,459.79 L937.0,456.71 L937.5,453.82 L938.0,451.15 L938.5,448.77 L939.0,446.70 L939.5,445.01 L940.0,443.72 L940.5,442.85 L941.0,442.44 L941.5,442.48 L942.0,442.98 L942.5,443.93 L943.0,445.31 L943.5,447.08 L944.0,449.20 L944.5,451.65 L945.0,454.36 L945.5,457.29 L946.0,460.40 L946.5,463.63 L947.0,466.93 L947.5,470.27 L948.0,473.60 L948.5,476.89 L949.0,480.09 L949.5,483.18 L950.0,486.14 L950.5,488.95 L951.0,491.59 L951.5,494.05 L952.0,496.32 L952.5,498.40 L953.0,500.30 L953.5,502.01 L954.0,503.55 L954.5,504.91 L955.0,506.12 L955.5,507.18 L956.0,508.10 L956.5,508.89 L957.0,509.57 L957.5,510.15 L958.0,510.64 L958.5,511.04 L959.0,511.38 L959.5,511.65 L960.0,511.86 L960.5,512.02 L961.0,512.13 L961.5,512.21 L962.0,512.25 L962.5,512.25 L963.0,512.22 L963.5,512.16 L964.0,512.08 L964.5,511.96 L965.0,511.81 L965.5,511.64 L966.0,511.44 L966.5,511.22 L967.0,510.97 L967.5,510.69 L968.0,510.39 L968.5,510.07 L969.0,509.73 L969.5,509.37 L970.0,508.99 L970.5,508.61 L971.0,508.22 L971.5,507.83 L972.0,507.44 L972.5,507.06 L973.0,506.69 L973.5,506.35 L974.0,506.03 L974.5,505.74 L975.0,505.50 L975.5,505.30 L976.0,505.14 L976.5,505.04 L977.0,505.00 L977.5,505.10 L978.0,505.65 L978.5,506.57 L979.0,507.73 L979.5,508.95 L980.0,510.11 L980.5,511.11 L981.0,511.93 L981.5,512.54 L982.0,512.98 L982.5,513.27 L983.0,513.47 L983.5,513.59 L984.0,513.66 L984.5,513.71 L985.0,513.74 L985.5,513.76 L986.0,513.78 L986.5,513.79 L987.0,513.81 L987.5,513.82 L988.0,513.83 L988.5,513.84 L989.0,513.85 L989.5,513.85 L990.0,513.86 L990.5,513.87 L991.0,513.87 L991.5,513.88 L992.0,513.88 L992.5,513.89 L993.0,513.89 L993.5,513.90 L994.0,513.90 L994.5,513.91 L995.0,513.91 L995.5,513.92 L996.0,513.92 L996.5,513.92 L997.0,513.93 L997.5,513.93 L998.0,513.93 L998.5,513.93 L999.0,513.94 L999.5,513.94 L1000.0,513.94 L1000.5,513.95 L1001.0,513.95 L1001.5,513.95 L1002.0,513.95 L1002.5,513.95 L1003.0,513.96 L1003.5,513.96 L1004.0,513.96 L1004.5,513.96 L1005.0,513.96 L1005.5,513.97 L1006.0,513.97 L1006.5,513.97 L1007.0,513.97 L1007.5,513.97 L1008.0,513.97 L1008.5,513.98 L1009.0,513.98 L1009.5,513.98 L1010.0,513.98 L1010.5,513.98 L1011.0,513.98 L1011.5,513.98 L1012.0,513.99 L1012.5,513.99 L1013.0,513.99 L1013.5,513.99 L1014.0,513.99 L1014.5,513.99 L1015.0,513.99 L1015.5,513.99 L1016.0,513.99 L1016.5,513.99 L1017.0,514.00 L1017.5,514.00 L1018.0,514.00 L1018.5,514.00 L1019.0,514.00 L1019.5,514.00 L1020.0,514.00 L1020.5,514.00 L1021.0,514.00 L1021.5,514.00 L1022.0,514.00 L1022.5,514.01 L1023.0,514.01 L1023.5,514.01 L1024.0,514.01 L1024.5,514.01 L1025.0,514.01 L1025.5,514.01 L1026.0,514.01 L1026.5,514.01 L1027.0,514.01 L1027.5,514.01 L1028.0,514.01 L1028.5,514.01 L1029.0,514.01 L1029.5,514.01 L1030.0,514.01 L1030.5,514.01 L1031.0,514.01 L1031.5,514.02 L1032.0,514.02 L1032.5,514.02 L1033.0,514.02 L1033.5,514.02 L1034.0,514.02 L1034.5,514.02 L1035.0,514.02 L1035.5,514.02 L1036.0,514.02 L1036.5,514.02 L1037.0,514.02 L1037.5,514.02 L1038.0,514.02 L1038.5,514.02 L1039.0,514.02 L1039.5,514.02 L1040.0,514.02 L1040.5,514.02 L1041.0,514.02 L1041.5,514.02 L1042.0,514.02 L1042.5,514.02 L1043.0,514.02 L1043.5,514.02 L1044.0,514.02 L1044.5,514.02 L1045.0,514.02 L1045.5,514.02 L1046.0,514.02 L1046.5,514.02 L1047.0,514.02 L1047.5,514.02 L1048.0,514.02 L1048.5,514.02 L1049.0,514.03 L1049.5,514.03 L1050.0,514.03 L1050.5,514.03 L1051.0,514.03 L1051.5,514.03 L1052.0,514.03 L1052.5,514.03 L1053.0,514.03 L1053.5,514.03 L1054.0,514.03 L1054.5,514.03 L1055.0,514.03 L1055.5,514.03 L1056.0,514.03 L1056.5,514.03 L1057.0,514.03 L1057.5,514.03 L1058.0,514.03 L1058.5,514.03 L1059.0,514.03 L1059.5,514.03 L1060.0,514.03 L1060.5,514.03 L1061.0,514.03 L1061.5,514.03 L1062.0,514.03 L1062.5,514.03 L1063.0,514.03 L1063.5,514.03 L1064.0,514.03 L1064.5,514.03 L1065.0,514.03 L1065.5,514.03 L1066.0,514.03 L1066.5,514.02 L1067.0,514.02 L1067.5,514.02 L1068.0,514.02 L1068.5,514.02 L1069.0,514.02 L1069.5,514.02 L1070.0,514.02 L1070.5,514.02 L1071.0,514.02 L1071.5,514.02 L1072.0,514.02 L1072.5,514.02 L1073.0,514.02 L1073.5,514.02 L1074.0,514.02 L1074.5,514.02 L1075.0,514.02 L1075.5,514.02 L1076.0,514.02 L1076.5,514.02 L1077.0,514.02 L1077.5,514.02 L1078.0,514.02 L1078.5,514.02 L1079.0,514.02 L1079.5,514.02 L1080.0,514.02 L1080.5,514.02 L1081.0,514.02 L1081.5,514.02 L1082.0,514.02 L1082.5,514.02 L1083.0,514.02 L1083.5,514.02 L1084.0,514.01 L1084.5,514.01 L1085.0,514.01 L1085.5,514.01 L1086.0,514.01 L1086.5,514.01 L1087.0,514.01 L1087.5,514.01 L1088.0,514.01 L1088.5,514.01 L1089.0,514.01 L1089.5,514.01 L1090.0,514.01 L1090.5,514.01 L1091.0,514.01 L1091.5,514.01 L1092.0,514.01 L1092.5,514.01 L1093.0,514.00 L1093.5,514.00 L1094.0,514.00 L1094.5,514.00 L1095.0,514.00 L1095.5,514.00 L1096.0,514.00 L1096.5,514.00 L1097.0,514.00 L1097.5,514.00 L1098.0,514.00 L1098.5,514.00 L1099.0,514.00 L1099.5,513.99 L1100.0,513.99 L1100.5,513.99 L1101.0,513.99 L1101.5,513.99 L1102.0,513.99 L1102.5,513.99 L1103.0,513.99 L1103.5,513.99 L1104.0,513.99 L1104.5,513.98 L1105.0,513.98 L1105.5,513.98 L1106.0,513.98 L1106.5,513.98 L1107.0,513.98 L1107.5,513.98 L1108.0,513.98 L1108.5,513.97 L1109.0,513.97 L1109.5,513.97 L1110.0,513.97 L1110.5,513.97 L1111.0,513.97 L1111.5,513.96 L1112.0,513.96 L1112.5,513.96 L1113.0,513.96 L1113.5,513.96 L1114.0,513.96 L1114.5,513.95 L1115.0,513.95 L1115.5,513.95 L1116.0,513.95 L1116.5,513.95 L1117.0,513.94 L1117.5,513.94 L1118.0,513.94 L1118.5,513.94 L1119.0,513.94 L1119.5,513.93 L1120.0,513.93 L1120.5,513.93 L1121.0,513.93 L1121.5,513.92 L1122.0,513.92 L1122.5,513.92 L1123.0,513.91 L1123.5,513.91 L1124.0,513.91 L1124.5,513.91 L1125.0,513.90 L1125.5,513.90 L1126.0,513.90 L1126.5,513.89 L1127.0,513.89 L1127.5,513.88 L1128.0,513.88 L1128.5,513.88 L1129.0,513.87 L1129.5,513.87 L1130.0,513.86 L1130.5,513.86 L1131.0,513.85 L1131.5,513.85 L1132.0,513.84 L1132.5,513.84 L1133.0,513.83 L1133.5,513.83 L1134.0,513.82 L1134.5,513.82 L1135.0,513.81 L1135.5,513.81 L1136.0,513.80 L1136.5,513.79 L1137.0,513.79 L1137.5,513.78 L1138.0,513.77 L1138.5,513.76 L1139.0,513.75 L1139.5,513.75 L1140.0,513.74 L1140.5,513.73 L1141.0,513.72 L1141.5,513.71 L1142.0,513.70 L1142.5,513.69 L1143.0,513.68 L1143.5,513.66 L1144.0,513.65 L1144.5,513.64 L1145.0,513.62 L1145.5,513.61 L1146.0,513.59 L1146.5,513.57 L1147.0,513.55 L1147.5,513.53 L1148.0,513.51 L1148.5,513.49 L1149.0,513.46 L1149.5,513.43 L1150.0,513.40 L1150.5,513.36 L1151.0,513.32 L1151.5,513.28 L1152.0,513.23 L1152.5,513.18 L1153.0,513.12 L1153.5,513.05 L1154.0,512.97 L1154.5,512.89 L1155.0,512.79 L1155.5,512.69 L1156.0,512.57 L1156.5,512.44 L1157.0,512.29 L1157.5,512.13 L1158.0,511.96 L1158.5,511.76 L1159.0,511.55 L1159.5,511.31 L1160.0,511.05 L1160.5,510.77 L1161.0,510.47 L1161.5,510.14 L1162.0,509.78 L1162.5,509.40 L1163.0,509.00 L1163.5,508.56 L1164.0,508.10 L1164.5,507.62 L1165.0,507.11 L1165.5,506.58 L1166.0,506.03 L1166.5,505.46 L1167.0,504.87 L1167.5,504.26 L1168.0,503.65 L1168.5,503.03 L1169.0,502.41 L1169.5,501.79 L1170.0,501.17 L1170.5,500.57 L1171.0,499.99 L1171.5,499.43 L1172.0,498.91 L1172.5,498.42 L1173.0,497.98 L1173.5,497.58 L1174.0,497.25 L1174.5,496.98 L1175.0,496.78 L1175.5,496.65 L1176.0,496.60 L1176.5,496.62 L1177.0,496.72 L1177.5,496.89 L1178.0,497.14 L1178.5,497.44 L1179.0,497.81 L1179.5,498.23 L1180.0,498.70 L1180.5,499.21 L1181.0,499.76 L1181.5,500.33 L1182.0,500.93 L1182.5,501.54 L1183.0,502.15 L1183.5,502.78 L1184.0,503.40 L1184.5,504.01 L1185.0,504.62 L1185.5,505.22 L1186.0,505.79 L1186.5,506.36 L1187.0,506.90 L1187.5,507.41 L1188.0,507.91 L1188.5,508.37 L1189.0,508.82 L1189.5,509.23 L1190.0,509.63 L1190.5,509.99 L1191.0,510.33 L1191.5,510.64 L1192.0,510.93 L1192.5,511.20 L1193.0,511.44 L1193.5,511.67 L1194.0,511.87 L1194.5,512.05 L1195.0,512.22 L1195.5,512.37 L1196.0,512.51 L1196.5,512.63 L1197.0,512.74 L1197.5,512.84 L1198.0,512.92 L1198.5,513.00 L1199.0,513.07 L1199.5,513.14 L1200.0,513.19 L1200.5,513.24 L1201.0,513.29 L1201.5,513.33 L1202.0,513.37 L1202.5,513.40 L1203.0,513.43 L1203.5,513.46 L1204.0,513.48 L1204.5,513.50 L1205.0,513.52 L1205.5,513.54 L1206.0,513.56 L1206.5,513.58 L1207.0,513.59 L1207.5,513.61 L1208.0,513.62 L1208.5,513.63 L1209.0,513.64 L1209.5,513.65 L1210.0,513.66 L1210.5,513.67 L1211.0,513.68 L1211.5,513.69 L1212.0,513.70 L1212.5,513.71 L1213.0,513.72 L1213.5,513.72 L1214.0,513.73 L1214.5,513.74 L1215.0,513.74 L1215.5,513.75 L1216.0,513.75 L1216.5,513.76 L1217.0,513.76 L1217.5,513.77 L1218.0,513.77 L1218.5,513.78 L1219.0,513.78 L1219.5,513.79 L1220.0,513.79 L1220.5,513.79 L1221.0,513.80 L1221.5,513.80 L1222.0,513.80 L1222.5,513.80 L1223.0,513.81 L1223.5,513.81 L1224.0,513.81 L1224.5,513.81 L1225.0,513.81 L1225.5,513.81 L1226.0,513.81 L1226.5,513.81 L1227.0,513.81 L1227.5,513.82 L1228.0,513.82 L1228.5,513.81 L1229.0,513.81 L1229.5,513.81 L1230.0,513.81 L1230.5,513.81 L1231.0,513.81 L1231.5,513.81 L1232.0,513.81 L1232.5,513.80 L1233.0,513.80 L1233.5,513.80 L1234.0,513.79 L1234.5,513.79 L1235.0,513.78 L1235.5,513.78 L1236.0,513.77 L1236.5,513.77 L1237.0,513.76 L1237.5,513.75 L1238.0,513.74 L1238.5,513.73 L1239.0,513.72 L1239.5,513.71 L1240.0,513.69 L1240.5,513.67 L1241.0,513.65 L1241.5,513.62 L1242.0,513.59 L1242.5,513.56 L1243.0,513.52 L1243.5,513.47 L1244.0,513.41 L1244.5,513.34 L1245.0,513.26 L1245.5,513.16 L1246.0,513.05 L1246.5,512.92 L1247.0,512.78 L1247.5,512.61 L1248.0,512.42 L1248.5,512.20 L1249.0,511.96 L1249.5,511.69 L1250.0,511.40 L1250.5,511.08 L1251.0,510.74 L1251.5,510.37 L1252.0,509.98 L1252.5,509.57 L1253.0,509.16 L1253.5,508.73 L1254.0,508.30 L1254.5,507.88 L1255.0,507.48 L1255.5,507.09 L1256.0,506.74 L1256.5,506.43 L1257.0,506.17 L1257.5,505.98 L1258.0,505.85 L1258.5,505.80 L1259.0,505.81 L1259.5,505.83 L1260.0,505.88 L1260.5,505.94 L1261.0,506.02 L1261.5,506.12 L1262.0,506.23 L1262.5,506.36 L1263.0,506.50 L1263.5,506.65 L1264.0,506.82 L1264.5,507.00 L1265.0,507.18 L1265.5,507.37 L1266.0,507.57 L1266.5,507.78 L1267.0,507.99 L1267.5,508.20 L1268.0,508.41 L1268.5,508.63 L1269.0,508.84 L1269.5,509.05 L1270.0,509.27 L1270.5,509.48 L1271.0,509.69 L1271.5,509.89 L1272.0,510.09 L1272.5,510.29 L1273.0,510.48 L1273.5,510.66 L1274.0,510.84 L1274.5,511.02 L1275.0,511.18 L1275.5,511.34 L1276.0,511.50 L1276.5,511.65 L1277.0,511.79 L1277.5,511.93 L1278.0,512.05 L1278.5,512.18 L1279.0,512.29 L1279.5,512.40 L1280.0,512.51 L1280.5,512.60 L1281.0,512.69 L1281.5,512.78 L1282.0,512.86 L1282.5,512.94 L1283.0,513.01 L1283.5,513.07 L1284.0,513.13 L1284.5,513.19 L1285.0,513.24 L1285.5,513.29 L1286.0,513.34 L1286.5,513.38 L1287.0,513.42 L1287.5,513.45 L1288.0,513.49 L1288.5,513.52 L1289.0,513.55 L1289.5,513.57 L1290.0,513.60 L1290.5,513.62 L1291.0,513.64 L1291.5,513.66 L1292.0,513.68 L1292.5,513.69 L1293.0,513.71 L1293.5,513.72 L1294.0,513.73 L1294.5,513.75 L1295.0,513.76 L1295.5,513.77 L1296.0,513.78 L1296.5,513.79 L1297.0,513.79 L1297.5,513.80 L1298.0,513.81 L1298.5,513.82 L1299.0,513.82 L1299.5,513.83 L1300.0,513.84 L1300.5,513.84 L1301.0,513.85 L1301.5,513.85 L1302.0,513.86 L1302.5,513.86 L1303.0,513.87 L1303.5,513.87 L1304.0,513.88 L1304.5,513.88 L1305.0,513.89 L1305.5,513.89 L1306.0,513.89 L1306.5,513.90 L1307.0,513.90 L1307.5,513.90 L1308.0,513.91 L1308.5,513.91 L1309.0,513.91 L1309.5,513.92 L1310.0,513.92 L1310.5,513.92 L1311.0,513.93 L1311.5,513.93 L1312.0,513.93 L1312.5,513.93 L1313.0,513.94 L1313.5,513.94 L1314.0,513.94 L1314.5,513.94 L1315.0,513.95 L1315.5,513.95 L1316.0,513.95 L1316.5,513.95 L1317.0,513.95 L1317.5,513.96 L1318.0,513.96 L1318.5,513.96 L1319.0,513.96 L1319.5,513.96 L1320.0,513.97 L1320.5,513.97 L1321.0,513.97 L1321.5,513.97 L1322.0,513.97 L1322.5,513.97 L1323.0,513.98 L1323.5,513.98 L1324.0,513.98 L1324.5,513.98 L1325.0,513.98 L1325.5,513.98 L1326.0,513.99 L1326.5,513.99 L1327.0,513.99 L1327.5,513.99 L1328.0,513.99 L1328.5,513.99 L1329.0,513.99 L1329.5,513.99 L1330.0,514.00 L1330.5,514.00 L1331.0,514.00 L1331.5,514.00 L1332.0,514.00 L1332.5,514.00 L1333.0,514.00 L1333.5,514.00 L1334.0,514.00 L1334.5,514.01 L1335.0,514.01 L1335.5,514.01 L1336.0,514.01 L1336.5,514.01 L1337.0,514.01 L1337.5,514.01 L1338.0,514.01 L1338.5,514.01 L1339.0,514.01 L1339.5,514.02 L1340.0,514.02 L1340.5,514.02 L1341.0,514.02 L1341.5,514.02 L1342.0,514.02 L1342.5,514.02 L1343.0,514.02 L1343.5,514.02 L1344.0,514.02 L1344.5,514.02 L1345.0,514.02 L1345.5,514.02 L1346.0,514.03 L1346.5,514.03 L1347.0,514.03 L1347.5,514.03 L1348.0,514.03 L1348.5,514.03 L1349.0,514.03 L1349.5,514.03 L1350.0,514.03 L1350.5,514.03 L1351.0,514.03 L1351.5,514.03 L1352.0,514.03 L1352.5,514.03 L1353.0,514.03 L1353.5,514.03 L1354.0,514.04 L1354.5,514.04 L1355.0,514.04 L1355.5,514.04 L1356.0,514.04 L1356.5,514.04 L1357.0,514.04 L1357.5,514.04 L1358.0,514.04 L1358.5,514.04 L1359.0,514.04 L1359.5,514.04 L1360.0,514.04 L1360.5,514.04 L1361.0,514.04 L1361.5,514.04 L1362.0,514.04 L1362.5,514.04 L1363.0,514.04 L1363.5,514.04 L1364.0,514.05 L1364.5,514.05 L1365.0,514.05 L1365.5,514.05 L1366.0,514.05 L1366.5,514.05 L1367.0,514.05 L1367.5,514.05 L1368.0,514.05 L1368.5,514.05 L1369.0,514.05 L1369.5,514.05 L1370.0,514.05 L1370.5,514.05 L1371.0,514.05 L1371.5,514.05 L1372.0,514.05 L1372.5,514.05 L1373.0,514.05 L1373.5,514.05 L1374.0,514.05 L1374.5,514.05 L1375.0,514.05 L1375.5,514.05 L1376.0,514.05 L1376.5,514.05 L1377.0,514.05 L1377.5,514.05 L1378.0,514.06 L1378.5,514.06 L1379.0,514.06 L1379.5,514.06 L1380.0,514.06 L1380.5,514.06 L1381.0,514.06 L1381.5,514.06 L1382.0,514.06 L1382.5,514.06 L1383.0,514.06 L1383.5,514.06 L1384.0,514.06 L1384.5,514.06 L1385.0,514.06 L1385.5,514.06 L1386.0,514.06 L1386.5,514.06 L1387.0,514.06 L1387.5,514.06 L1388.0,514.06 L1388.5,514.06 L1389.0,514.06 L1389.5,514.06 L1390.0,514.06 L1390.5,514.06 L1391.0,514.06 L1391.5,514.06 L1392.0,514.06 L1392.5,514.06 L1393.0,514.06 L1393.5,514.06 L1394.0,514.06 L1394.5,514.06 L1395.0,514.06 L1395.5,514.06 L1396.0,514.06 L1396.5,514.06 L1397.0,514.06 L1397.5,514.06 L1398.0,514.07 L1398.5,514.07 L1399.0,514.07 L1399.5,514.07 L1400.0,514.07 L1400.5,514.07 L1401.0,514.07 L1401.5,514.07 L1402.0,514.07 L1402.5,514.07 L1403.0,514.07 L1403.5,514.07 L1404.0,514.07 L1404.5,514.07 L1405.0,514.07 L1405.5,514.07 L1406.0,514.07 L1406.5,514.07 L1407.0,514.07 L1407.5,514.07 L1408.0,514.07 L1408.5,514.07 L1409.0,514.07 L1409.5,514.07 L1410.0,514.07 L1410.5,514.07 L1411.0,514.07 L1411.5,514.07 L1412.0,514.07 L1412.5,514.07 L1413.0,514.07 L1413.5,514.07 L1414.0,514.07 L1414.5,514.07 L1415.0,514.07 L1415.5,514.07 L1416.0,514.07 L1416.5,514.07 L1417.0,514.07 L1417.5,514.07 L1418.0,514.07 L1418.5,514.07 L1419.0,514.07 L1419.5,514.07 L1420.0,514.07 L1420.5,514.07 L1421.0,514.07 L1421.5,514.07 L1422.0,514.07 L1422.5,514.07 L1423.0,514.07 L1423.5,514.07 L1424.0,514.07 L1424.5,514.07 L1425.0,514.07 L1425.5,514.07 L1426.0,514.07 L1426.5,514.07 L1427.0,514.07 L1427.5,514.07 L1428.0,514.07 L1428.5,514.07 L1429.0,514.07 L1429.5,514.07 L1430.0,514.07 L1430.5,514.08 L1431.0,514.08 L1431.5,514.08 L1432.0,514.08 L1432.5,514.08 L1433.0,514.08 L1433.5,514.08 L1434.0,514.08 L1434.5,514.08 L1435.0,514.08 L1435.5,514.08 L1436.0,514.08 L1436.5,514.08 L1437.0,514.08 L1437.5,514.08 L1438.0,514.08 L1438.5,514.08 L1439.0,514.08 L1439.5,514.08 L1440.0,514.08 L1440.5,514.08 L1441.0,514.08 L1441.5,514.08 L1442.0,514.08 L1442.5,514.08 L1443.0,514.08 L1443.5,514.08 L1444.0,514.08 L1444.5,514.08 L1445.0,514.08 L1445.5,514.08 L1446.0,514.08 L1446.5,514.08 L1447.0,514.08 L1447.5,514.08 L1448.0,514.08 L1448.5,514.08 L1449.0,514.08 L1449.5,514.08 L1450.0,514.08 L1450.5,514.08 L1451.0,514.08 L1451.5,514.08 L1452.0,514.08 L1452.5,514.08 L1453.0,514.08 L1453.5,514.08 L1454.0,514.08 L1454.5,514.08 L1455.0,514.08 L1455.5,514.08 L1456.0,514.08 L1456.5,514.08 L1457.0,514.08 L1457.5,514.08 L1458.0,514.08 L1458.5,514.08 L1459.0,514.08 L1459.5,514.08 L1460.0,514.08 L1460.5,514.08 L1461.0,514.08 L1461.5,514.08 L1462.0,514.08 L1462.5,514.08 L1463.0,514.08 L1463.5,514.08 L1464.0,514.08 L1464.5,514.08" stroke="#9bbb59" stroke-width="3.2"/>
<path d="M90.0,282.09 L90.5,282.09 L91.0,282.09 L91.5,282.09 L92.0,282.09 L92.5,282.09 L93.0,282.09 L93.5,282.09 L94.0,282.09 L94.5,282.09 L95.0,282.09 L95.5,282.09 L96.0,282.09 L96.5,282.09 L97.0,282.09 L97.5,282.09 L98.0,282.09 L98.5,282.09 L99.0,282.09 L99.5,282.09 L100.0,282.09 L100.5,282.09 L101.0,282.09 L101.5,282.09 L102.0,282.09 L102.5,282.09 L103.0,282.09 L103.5,282.09 L104.0,282.09 L104.5,282.09 L105.0,282.09 L105.5,282.09 L106.0,282.09 L106.5,282.09 L107.0,282.09 L107.5,282.09 L108.0,282.09 L108.5,282.09 L109.0,282.09 L109.5,282.09 L110.0,282.09 L110.5,282.09 L111.0,282.09 L111.5,282.09 L112.0,282.09 L112.5,282.09 L113.0,282.09 L113.5,282.09 L114.0,282.09 L114.5,282.09 L115.0,282.09 L115.5,282.09 L116.0,282.09 L116.5,282.09 L117.0,282.09 L117.5,282.09 L118.0,282.09 L118.5,282.09 L119.0,282.09 L119.5,282.09 L120.0,282.09 L120.5,282.09 L121.0,282.09 L121.5,282.09 L122.0,282.09 L122.5,282.09 L123.0,282.09 L123.5,282.09 L124.0,282.09 L124.5,282.09 L125.0,282.09 L125.5,282.09 L126.0,282.09 L126.5,282.09 L127.0,282.09 L127.5,282.09 L128.0,282.09 L128.5,282.09 L129.0,282.09 L129.5,282.09 L130.0,282.09 L130.5,282.09 L131.0,282.09 L131.5,282.09 L132.0,282.09 L132.5,282.09 L133.0,282.09 L133.5,282.09 L134.0,282.09 L134.5,282.09 L135.0,282.09 L135.5,282.09 L136.0,282.09 L136.5,282.09 L137.0,282.09 L137.5,282.09 L138.0,282.09 L138.5,282.09 L139.0,282.09 L139.5,282.08 L140.0,282.08 L140.5,282.08 L141.0,282.08 L141.5,282.08 L142.0,282.08 L142.5,282.08 L143.0,282.08 L143.5,282.08 L144.0,282.08 L144.5,282.08 L145.0,282.08 L145.5,282.08 L146.0,282.08 L146.5,282.08 L147.0,282.08 L147.5,282.08 L148.0,282.08 L148.5,282.08 L149.0,282.08 L149.5,282.08 L150.0,282.08 L150.5,282.08 L151.0,282.08 L151.5,282.08 L152.0,282.08 L152.5,282.08 L153.0,282.08 L153.5,282.08 L154.0,282.08 L154.5,282.08 L155.0,282.08 L155.5,282.08 L156.0,282.07 L156.5,282.07 L157.0,282.07 L157.5,282.07 L158.0,282.07 L158.5,282.07 L159.0,282.07 L159.5,282.07 L160.0,282.07 L160.5,282.07 L161.0,282.07 L161.5,282.07 L162.0,282.07 L162.5,282.06 L163.0,282.06 L163.5,282.06 L164.0,282.06 L164.5,282.06 L165.0,282.06 L165.5,282.06 L166.0,282.05 L166.5,282.05 L167.0,282.05 L167.5,282.05 L168.0,282.05 L168.5,282.04 L169.0,282.04 L169.5,282.04 L170.0,282.04 L170.5,282.03 L171.0,282.03 L171.5,282.03 L172.0,282.02 L172.5,282.02 L173.0,282.01 L173.5,282.01 L174.0,282.00 L174.5,281.99 L175.0,281.98 L175.5,281.98 L176.0,281.97 L176.5,281.95 L177.0,281.94 L177.5,281.92 L178.0,281.90 L178.5,281.87 L179.0,281.83 L179.5,281.77 L180.0,281.66 L180.5,281.48 L181.0,281.20 L181.5,280.74 L182.0,280.04 L182.5,279.01 L183.0,277.59 L183.5,275.72 L184.0,273.40 L184.5,270.70 L185.0,267.77 L185.5,264.88 L186.0,262.30 L186.5,260.38 L187.0,259.39 L187.5,259.50 L188.0,260.69 L188.5,262.77 L189.0,265.44 L189.5,268.37 L190.0,271.26 L190.5,273.89 L191.0,276.13 L191.5,277.91 L192.0,279.25 L192.5,280.20 L193.0,280.85 L193.5,281.26 L194.0,281.53 L194.5,281.69 L195.0,281.78 L195.5,281.84 L196.0,281.88 L196.5,281.91 L197.0,281.93 L197.5,281.94 L198.0,281.95 L198.5,281.97 L199.0,281.98 L199.5,281.98 L200.0,281.99 L200.5,282.00 L201.0,282.00 L201.5,282.01 L202.0,282.02 L202.5,282.02 L203.0,282.02 L203.5,282.03 L204.0,282.03 L204.5,282.03 L205.0,282.04 L205.5,282.04 L206.0,282.04 L206.5,282.04 L207.0,282.05 L207.5,282.05 L208.0,282.05 L208.5,282.05 L209.0,282.05 L209.5,282.06 L210.0,282.06 L210.5,282.06 L211.0,282.06 L211.5,282.06 L212.0,282.06 L212.5,282.06 L213.0,282.06 L213.5,282.06 L214.0,282.06 L214.5,282.07 L215.0,282.07 L215.5,282.07 L216.0,282.07 L216.5,282.07 L217.0,282.07 L217.5,282.07 L218.0,282.07 L218.5,282.07 L219.0,282.07 L219.5,282.07 L220.0,282.07 L220.5,282.07 L221.0,282.07 L221.5,282.07 L222.0,282.07 L222.5,282.07 L223.0,282.07 L223.5,282.07 L224.0,282.07 L224.5,282.07 L225.0,282.07 L225.5,282.08 L226.0,282.08 L226.5,282.08 L227.0,282.08 L227.5,282.08 L228.0,282.08 L228.5,282.08 L229.0,282.08 L229.5,282.08 L230.0,282.08 L230.5,282.08 L231.0,282.08 L231.5,282.08 L232.0,282.08 L232.5,282.08 L233.0,282.08 L233.5,282.08 L234.0,282.08 L234.5,282.08 L235.0,282.08 L235.5,282.08 L236.0,282.08 L236.5,282.08 L237.0,282.08 L237.5,282.08 L238.0,282.08 L238.5,282.08 L239.0,282.08 L239.5,282.08 L240.0,282.08 L240.5,282.08 L241.0,282.08 L241.5,282.08 L242.0,282.08 L242.5,282.08 L243.0,282.08 L243.5,282.08 L244.0,282.08 L244.5,282.08 L245.0,282.08 L245.5,282.08 L246.0,282.08 L246.5,282.08 L247.0,282.08 L247.5,282.08 L248.0,282.08 L248.5,282.08 L249.0,282.08 L249.5,282.08 L250.0,282.08 L250.5,282.08 L251.0,282.08 L251.5,282.08 L252.0,282.08 L252.5,282.08 L253.0,282.08 L253.5,282.08 L254.0,282.08 L254.5,282.08 L255.0,282.08 L255.5,282.08 L256.0,282.08 L256.5,282.08 L257.0,282.08 L257.5,282.08 L258.0,282.08 L258.5,282.08 L259.0,282.08 L259.5,282.08 L260.0,282.08 L260.5,282.08 L261.0,282.08 L261.5,282.08 L262.0,282.08 L262.5,282.08 L263.0,282.08 L263.5,282.08 L264.0,282.08 L264.5,282.08 L265.0,282.08 L265.5,282.08 L266.0,282.08 L266.5,282.08 L267.0,282.08 L267.5,282.08 L268.0,282.08 L268.5,282.08 L269.0,282.08 L269.5,282.08 L270.0,282.08 L270.5,282.08 L271.0,282.08 L271.5,282.08 L272.0,282.08 L272.5,282.08 L273.0,282.08 L273.5,282.08 L274.0,282.08 L274.5,282.07 L275.0,282.07 L275.5,282.07 L276.0,282.07 L276.5,282.07 L277.0,282.07 L277.5,282.07 L278.0,282.07 L278.5,282.07 L279.0,282.07 L279.5,282.07 L280.0,282.07 L280.5,282.07 L281.0,282.07 L281.5,282.07 L282.0,282.07 L282.5,282.07 L283.0,282.07 L283.5,282.07 L284.0,282.07 L284.5,282.07 L285.0,282.07 L285.5,282.07 L286.0,282.07 L286.5,282.07 L287.0,282.07 L287.5,282.07 L288.0,282.07 L288.5,282.07 L289.0,282.07 L289.5,282.07 L290.0,282.07 L290.5,282.07 L291.0,282.07 L291.5,282.07 L292.0,282.07 L292.5,282.07 L293.0,282.07 L293.5,282.07 L294.0,282.07 L294.5,282.07 L295.0,282.07 L295.5,282.07 L296.0,282.07 L296.5,282.07 L297.0,282.07 L297.5,282.07 L298.0,282.07 L298.5,282.07 L299.0,282.06 L299.5,282.06 L300.0,282.06 L300.5,282.06 L301.0,282.06 L301.5,282.06 L302.0,282.06 L302.5,282.06 L303.0,282.06 L303.5,282.06 L304.0,282.06 L304.5,282.06 L305.0,282.06 L305.5,282.06 L306.0,282.06 L306.5,282.06 L307.0,282.06 L307.5,282.06 L308.0,282.06 L308.5,282.06 L309.0,282.06 L309.5,282.06 L310.0,282.06 L310.5,282.06 L311.0,282.06 L311.5,282.05 L312.0,282.05 L312.5,282.05 L313.0,282.05 L313.5,282.05 L314.0,282.05 L314.5,282.05 L315.0,282.05 L315.5,282.05 L316.0,282.05 L316.5,282.05 L317.0,282.05 L317.5,282.05 L318.0,282.05 L318.5,282.05 L319.0,282.05 L319.5,282.04 L320.0,282.04 L320.5,282.04 L321.0,282.04 L321.5,282.04 L322.0,282.04 L322.5,282.04 L323.0,282.04 L323.5,282.04 L324.0,282.04 L324.5,282.04 L325.0,282.04 L325.5,282.03 L326.0,282.03 L326.5,282.03 L327.0,282.03 L327.5,282.03 L328.0,282.03 L328.5,282.03 L329.0,282.03 L329.5,282.02 L330.0,282.02 L330.5,282.02 L331.0,282.02 L331.5,282.02 L332.0,282.02 L332.5,282.01 L333.0,282.01 L333.5,282.01 L334.0,282.01 L334.5,282.01 L335.0,282.00 L335.5,282.00 L336.0,282.00 L336.5,282.00 L337.0,282.00 L337.5,281.99 L338.0,281.99 L338.5,281.99 L339.0,281.98 L339.5,281.98 L340.0,281.98 L340.5,281.97 L341.0,281.97 L341.5,281.97 L342.0,281.96 L342.5,281.96 L343.0,281.95 L343.5,281.95 L344.0,281.94 L344.5,281.94 L345.0,281.93 L345.5,281.92 L346.0,281.92 L346.5,281.91 L347.0,281.90 L347.5,281.89 L348.0,281.89 L348.5,281.88 L349.0,281.87 L349.5,281.85 L350.0,281.84 L350.5,281.83 L351.0,281.81 L351.5,281.80 L352.0,281.78 L352.5,281.76 L353.0,281.74 L353.5,281.72 L354.0,281.69 L354.5,281.66 L355.0,281.62 L355.5,281.57 L356.0,281.50 L356.5,281.42 L357.0,281.29 L357.5,281.11 L358.0,280.85 L358.5,280.46 L359.0,279.90 L359.5,279.11 L360.0,278.03 L360.5,276.59 L361.0,274.74 L361.5,272.45 L362.0,269.72 L362.5,266.60 L363.0,263.22 L363.5,259.72 L364.0,256.34 L364.5,253.34 L365.0,251.00 L365.5,249.57 L366.0,249.22 L366.5,250.01 L367.0,251.83 L367.5,254.46 L368.0,257.64 L368.5,261.09 L369.0,264.56 L369.5,267.85 L370.0,270.82 L370.5,273.37 L371.0,275.48 L371.5,277.16 L372.0,278.44 L372.5,279.39 L373.0,280.07 L373.5,280.55 L374.0,280.87 L374.5,281.10 L375.0,281.24 L375.5,281.34 L376.0,281.41 L376.5,281.46 L377.0,281.50 L377.5,281.53 L378.0,281.55 L378.5,281.56 L379.0,281.58 L379.5,281.59 L380.0,281.59 L380.5,281.60 L381.0,281.60 L381.5,281.60 L382.0,281.60 L382.5,281.60 L383.0,281.59 L383.5,281.58 L384.0,281.57 L384.5,281.56 L385.0,281.54 L385.5,281.52 L386.0,281.49 L386.5,281.46 L387.0,281.42 L387.5,281.37 L388.0,281.29 L388.5,281.19 L389.0,281.05 L389.5,280.85 L390.0,280.57 L390.5,280.19 L391.0,279.67 L391.5,278.98 L392.0,278.07 L392.5,276.92 L393.0,275.48 L393.5,273.75 L394.0,271.72 L394.5,269.42 L395.0,266.89 L395.5,264.21 L396.0,261.49 L396.5,258.87 L397.0,256.50 L397.5,254.55 L398.0,253.16 L398.5,252.47 L399.0,252.53 L399.5,253.34 L400.0,254.82 L400.5,256.84 L401.0,259.24 L401.5,261.86 L402.0,264.55 L402.5,267.16 L403.0,269.61 L403.5,271.82 L404.0,273.73 L404.5,275.32 L405.0,276.60 L405.5,277.57 L406.0,278.26 L406.5,278.68 L407.0,278.86 L407.5,278.78 L408.0,278.47 L408.5,277.89 L409.0,277.03 L409.5,275.86 L410.0,274.35 L410.5,272.48 L411.0,270.23 L411.5,267.61 L412.0,264.66 L412.5,261.42 L413.0,257.98 L413.5,254.48 L414.0,251.05 L414.5,247.87 L415.0,245.13 L415.5,243.00 L416.0,241.66 L416.5,241.20 L417.0,241.68 L417.5,243.04 L418.0,245.19 L418.5,247.96 L419.0,251.16 L419.5,254.61 L420.0,258.14 L420.5,261.60 L421.0,264.87 L421.5,267.86 L422.0,270.52 L422.5,272.81 L423.0,274.74 L423.5,276.32 L424.0,277.59 L424.5,278.59 L425.0,279.36 L425.5,279.94 L426.0,280.37 L426.5,280.69 L427.0,280.92 L427.5,281.09 L428.0,281.22 L428.5,281.32 L429.0,281.39 L429.5,281.45 L430.0,281.49 L430.5,281.53 L431.0,281.57 L431.5,281.60 L432.0,281.63 L432.5,281.65 L433.0,281.67 L433.5,281.69 L434.0,281.71 L434.5,281.73 L435.0,281.74 L435.5,281.76 L436.0,281.77 L436.5,281.78 L437.0,281.80 L437.5,281.81 L438.0,281.82 L438.5,281.83 L439.0,281.84 L439.5,281.85 L440.0,281.85 L440.5,281.86 L441.0,281.87 L441.5,281.88 L442.0,281.88 L442.5,281.89 L443.0,281.89 L443.5,281.90 L444.0,281.90 L444.5,281.91 L445.0,281.91 L445.5,281.92 L446.0,281.92 L446.5,281.93 L447.0,281.93 L447.5,281.93 L448.0,281.94 L448.5,281.94 L449.0,281.94 L449.5,281.95 L450.0,281.95 L450.5,281.95 L451.0,281.96 L451.5,281.96 L452.0,281.96 L452.5,281.96 L453.0,281.96 L453.5,281.97 L454.0,281.97 L454.5,281.97 L455.0,281.97 L455.5,281.97 L456.0,281.98 L456.5,281.98 L457.0,281.98 L457.5,281.98 L458.0,281.98 L458.5,281.98 L459.0,281.98 L459.5,281.98 L460.0,281.99 L460.5,281.99 L461.0,281.99 L461.5,281.99 L462.0,281.99 L462.5,281.99 L463.0,281.99 L463.5,281.99 L464.0,281.99 L464.5,281.99 L465.0,281.99 L465.5,281.99 L466.0,282.00 L466.5,282.00 L467.0,282.00 L467.5,282.00 L468.0,282.00 L468.5,282.00 L469.0,282.00 L469.5,282.00 L470.0,282.00 L470.5,282.00 L471.0,282.00 L471.5,282.00 L472.0,282.00 L472.5,282.00 L473.0,282.00 L473.5,282.00 L474.0,282.00 L474.5,282.00 L475.0,282.00 L475.5,282.00 L476.0,282.00 L476.5,282.00 L477.0,282.00 L477.5,282.00 L478.0,282.00 L478.5,282.00 L479.0,282.00 L479.5,282.00 L480.0,281.99 L480.5,281.99 L481.0,281.99 L481.5,281.99 L482.0,281.99 L482.5,281.99 L483.0,281.99 L483.5,281.99 L484.0,281.99 L484.5,281.99 L485.0,281.99 L485.5,281.98 L486.0,281.98 L486.5,281.98 L487.0,281.98 L487.5,281.98 L488.0,281.98 L488.5,281.98 L489.0,281.97 L489.5,281.97 L490.0,281.97 L490.5,281.97 L491.0,281.97 L491.5,281.96 L492.0,281.96 L492.5,281.96 L493.0,281.96 L493.5,281.95 L494.0,281.95 L494.5,281.95 L495.0,281.94 L495.5,281.94 L496.0,281.93 L496.5,281.93 L497.0,281.93 L497.5,281.92 L498.0,281.92 L498.5,281.91 L499.0,281.90 L499.5,281.90 L500.0,281.89 L500.5,281.88 L501.0,281.88 L501.5,281.87 L502.0,281.86 L502.5,281.85 L503.0,281.84 L503.5,281.83 L504.0,281.81 L504.5,281.80 L505.0,281.79 L505.5,281.77 L506.0,281.75 L506.5,281.73 L507.0,281.71 L507.5,281.68 L508.0,281.65 L508.5,281.62 L509.0,281.58 L509.5,281.53 L510.0,281.47 L510.5,281.40 L511.0,281.30 L511.5,281.16 L512.0,280.98 L512.5,280.73 L513.0,280.41 L513.5,279.98 L514.0,279.42 L514.5,278.71 L515.0,277.85 L515.5,276.81 L516.0,275.61 L516.5,274.26 L517.0,272.81 L517.5,271.31 L518.0,269.85 L518.5,268.52 L519.0,267.45 L519.5,266.75 L520.0,266.50 L520.5,266.74 L521.0,267.44 L521.5,268.51 L522.0,269.84 L522.5,271.30 L523.0,272.79 L523.5,274.24 L524.0,275.58 L524.5,276.78 L525.0,277.82 L525.5,278.68 L526.0,279.38 L526.5,279.94 L527.0,280.37 L527.5,280.69 L528.0,280.93 L528.5,281.11 L529.0,281.24 L529.5,281.34 L530.0,281.41 L530.5,281.47 L531.0,281.51 L531.5,281.55 L532.0,281.58 L532.5,281.60 L533.0,281.62 L533.5,281.64 L534.0,281.65 L534.5,281.67 L535.0,281.68 L535.5,281.69 L536.0,281.69 L536.5,281.70 L537.0,281.71 L537.5,281.71 L538.0,281.71 L538.5,281.71 L539.0,281.71 L539.5,281.71 L540.0,281.71 L540.5,281.71 L541.0,281.71 L541.5,281.70 L542.0,281.69 L542.5,281.69 L543.0,281.68 L543.5,281.67 L544.0,281.66 L544.5,281.65 L545.0,281.64 L545.5,281.62 L546.0,281.60 L546.5,281.59 L547.0,281.57 L547.5,281.54 L548.0,281.52 L548.5,281.49 L549.0,281.46 L549.5,281.43 L550.0,281.39 L550.5,281.35 L551.0,281.30 L551.5,281.25 L552.0,281.19 L552.5,281.12 L553.0,281.04 L553.5,280.96 L554.0,280.85 L554.5,280.72 L555.0,280.56 L555.5,280.35 L556.0,280.07 L556.5,279.68 L557.0,279.12 L557.5,278.33 L558.0,277.22 L558.5,275.69 L559.0,273.63 L559.5,270.95 L560.0,267.59 L560.5,263.55 L561.0,258.91 L561.5,253.84 L562.0,248.65 L562.5,243.72 L563.0,239.59 L563.5,236.79 L564.0,235.80 L564.5,236.79 L565.0,239.58 L565.5,243.71 L566.0,248.63 L566.5,253.83 L567.0,258.89 L567.5,263.52 L568.0,267.54 L568.5,270.87 L569.0,273.49 L569.5,275.44 L570.0,276.77 L570.5,277.54 L571.0,277.80 L571.5,277.63 L572.0,277.13 L572.5,276.45 L573.0,275.78 L573.5,275.35 L574.0,275.33 L574.5,275.78 L575.0,276.60 L575.5,277.61 L576.0,278.63 L576.5,279.53 L577.0,280.23 L577.5,280.73 L578.0,281.05 L578.5,281.26 L579.0,281.38 L579.5,281.46 L580.0,281.51 L580.5,281.55 L581.0,281.58 L581.5,281.61 L582.0,281.63 L582.5,281.66 L583.0,281.68 L583.5,281.70 L584.0,281.71 L584.5,281.73 L585.0,281.75 L585.5,281.76 L586.0,281.77 L586.5,281.78 L587.0,281.80 L587.5,281.81 L588.0,281.82 L588.5,281.83 L589.0,281.83 L589.5,281.84 L590.0,281.85 L590.5,281.86 L591.0,281.86 L591.5,281.87 L592.0,281.88 L592.5,281.88 L593.0,281.89 L593.5,281.89 L594.0,281.90 L594.5,281.90 L595.0,281.91 L595.5,281.91 L596.0,281.91 L596.5,281.92 L597.0,281.92 L597.5,281.92 L598.0,281.93 L598.5,281.93 L599.0,281.93 L599.5,281.94 L600.0,281.94 L600.5,281.94 L601.0,281.94 L601.5,281.95 L602.0,281.95 L602.5,281.95 L603.0,281.95 L603.5,281.95 L604.0,281.95 L604.5,281.96 L605.0,281.96 L605.5,281.96 L606.0,281.96 L606.5,281.96 L607.0,281.96 L607.5,281.97 L608.0,281.97 L608.5,281.97 L609.0,281.97 L609.5,281.97 L610.0,281.97 L610.5,281.97 L611.0,281.97 L611.5,281.97 L612.0,281.97 L612.5,281.97 L613.0,281.98 L613.5,281.98 L614.0,281.98 L614.5,281.98 L615.0,281.98 L615.5,281.98 L616.0,281.98 L616.5,281.98 L617.0,281.98 L617.5,281.98 L618.0,281.98 L618.5,281.98 L619.0,281.98 L619.5,281.98 L620.0,281.98 L620.5,281.98 L621.0,281.98 L621.5,281.98 L622.0,281.98 L622.5,281.98 L623.0,281.98 L623.5,281.98 L624.0,281.98 L624.5,281.98 L625.0,281.98 L625.5,281.98 L626.0,281.98 L626.5,281.98 L627.0,281.98 L627.5,281.98 L628.0,281.98 L628.5,281.98 L629.0,281.98 L629.5,281.98 L630.0,281.98 L630.5,281.98 L631.0,281.98 L631.5,281.98 L632.0,281.98 L632.5,281.98 L633.0,281.97 L633.5,281.97 L634.0,281.97 L634.5,281.97 L635.0,281.97 L635.5,281.97 L636.0,281.97 L636.5,281.97 L637.0,281.97 L637.5,281.97 L638.0,281.97 L638.5,281.97 L639.0,281.96 L639.5,281.96 L640.0,281.96 L640.5,281.96 L641.0,281.96 L641.5,281.96 L642.0,281.96 L642.5,281.96 L643.0,281.96 L643.5,281.95 L644.0,281.95 L644.5,281.95 L645.0,281.95 L645.5,281.95 L646.0,281.95 L646.5,281.94 L647.0,281.94 L647.5,281.94 L648.0,281.94 L648.5,281.94 L649.0,281.94 L649.5,281.93 L650.0,281.93 L650.5,281.93 L651.0,281.93 L651.5,281.92 L652.0,281.92 L652.5,281.92 L653.0,281.92 L653.5,281.91 L654.0,281.91 L654.5,281.91 L655.0,281.91 L655.5,281.90 L656.0,281.90 L656.5,281.90 L657.0,281.89 L657.5,281.89 L658.0,281.89 L658.5,281.88 L659.0,281.88 L659.5,281.87 L660.0,281.87 L660.5,281.86 L661.0,281.86 L661.5,281.85 L662.0,281.85 L662.5,281.84 L663.0,281.84 L663.5,281.83 L664.0,281.83 L664.5,281.82 L665.0,281.81 L665.5,281.81 L666.0,281.80 L666.5,281.79 L667.0,281.78 L667.5,281.77 L668.0,281.77 L668.5,281.76 L669.0,281.75 L669.5,281.74 L670.0,281.72 L670.5,281.71 L671.0,281.70 L671.5,281.69 L672.0,281.67 L672.5,281.66 L673.0,281.64 L673.5,281.62 L674.0,281.60 L674.5,281.58 L675.0,281.56 L675.5,281.54 L676.0,281.52 L676.5,281.49 L677.0,281.46 L677.5,281.43 L678.0,281.39 L678.5,281.35 L679.0,281.31 L679.5,281.26 L680.0,281.20 L680.5,281.14 L681.0,281.06 L681.5,280.96 L682.0,280.84 L682.5,280.69 L683.0,280.49 L683.5,280.22 L684.0,279.88 L684.5,279.42 L685.0,278.85 L685.5,278.11 L686.0,277.20 L686.5,276.08 L687.0,274.76 L687.5,273.22 L688.0,271.50 L688.5,269.61 L689.0,267.63 L689.5,265.62 L690.0,263.69 L690.5,261.96 L691.0,260.58 L691.5,259.66 L692.0,259.30 L692.5,259.54 L693.0,260.35 L693.5,261.61 L694.0,263.19 L694.5,264.95 L695.0,266.75 L695.5,268.47 L696.0,270.01 L696.5,271.28 L697.0,272.21 L697.5,272.76 L698.0,272.87 L698.5,272.53 L699.0,271.72 L699.5,270.46 L700.0,268.78 L700.5,266.74 L701.0,264.44 L701.5,262.00 L702.0,259.57 L702.5,257.35 L703.0,255.55 L703.5,254.38 L704.0,254.00 L704.5,254.47 L705.0,255.74 L705.5,257.66 L706.0,260.01 L706.5,262.60 L707.0,265.25 L707.5,267.81 L708.0,270.19 L708.5,272.32 L709.0,274.15 L709.5,275.68 L710.0,276.93 L710.5,277.91 L711.0,278.67 L711.5,279.25 L712.0,279.68 L712.5,280.00 L713.0,280.23 L713.5,280.40 L714.0,280.53 L714.5,280.63 L715.0,280.70 L715.5,280.76 L716.0,280.80 L716.5,280.84 L717.0,280.86 L717.5,280.88 L718.0,280.89 L718.5,280.89 L719.0,280.88 L719.5,280.87 L720.0,280.85 L720.5,280.82 L721.0,280.78 L721.5,280.74 L722.0,280.68 L722.5,280.61 L723.0,280.53 L723.5,280.44 L724.0,280.33 L724.5,280.21 L725.0,280.07 L725.5,279.91 L726.0,279.73 L726.5,279.54 L727.0,279.33 L727.5,279.09 L728.0,278.83 L728.5,278.55 L729.0,278.25 L729.5,277.92 L730.0,277.57 L730.5,277.20 L731.0,276.81 L731.5,276.39 L732.0,275.96 L732.5,275.50 L733.0,275.04 L733.5,274.56 L734.0,274.07 L734.5,273.57 L735.0,273.07 L735.5,272.57 L736.0,272.07 L736.5,271.59 L737.0,271.12 L737.5,270.67 L738.0,270.25 L738.5,269.87 L739.0,269.52 L739.5,269.21 L740.0,268.95 L740.5,268.75 L741.0,268.61 L741.5,268.52 L742.0,268.50 L742.5,268.54 L743.0,268.64 L743.5,268.80 L744.0,269.02 L744.5,269.29 L745.0,269.61 L745.5,269.96 L746.0,270.36 L746.5,270.78 L747.0,271.23 L747.5,271.70 L748.0,272.18 L748.5,272.67 L749.0,273.16 L749.5,273.65 L750.0,274.14 L750.5,274.61 L751.0,275.08 L751.5,275.53 L752.0,275.97 L752.5,276.38 L753.0,276.78 L753.5,277.15 L754.0,277.50 L754.5,277.83 L755.0,278.14 L755.5,278.42 L756.0,278.68 L756.5,278.91 L757.0,279.12 L757.5,279.31 L758.0,279.48 L758.5,279.63 L759.0,279.76 L759.5,279.87 L760.0,279.97 L760.5,280.05 L761.0,280.11 L761.5,280.16 L762.0,280.20 L762.5,280.22 L763.0,280.24 L763.5,280.24 L764.0,280.23 L764.5,280.21 L765.0,280.18 L765.5,280.13 L766.0,280.08 L766.5,280.02 L767.0,279.94 L767.5,279.85 L768.0,279.74 L768.5,279.62 L769.0,279.48 L769.5,279.31 L770.0,279.11 L770.5,278.86 L771.0,278.57 L771.5,278.22 L772.0,277.78 L772.5,277.24 L773.0,276.58 L773.5,275.76 L774.0,274.76 L774.5,273.54 L775.0,272.08 L775.5,270.35 L776.0,268.33 L776.5,266.00 L777.0,263.36 L777.5,260.44 L778.0,257.26 L778.5,253.90 L779.0,250.44 L779.5,247.02 L780.0,243.80 L780.5,241.00 L781.0,238.84 L781.5,237.53 L782.0,237.22 L782.5,237.90 L783.0,239.47 L783.5,241.81 L784.0,244.72 L784.5,248.02 L785.0,251.53 L785.5,255.09 L786.0,258.57 L786.5,261.87 L787.0,264.91 L787.5,267.65 L788.0,270.06 L788.5,272.14 L789.0,273.89 L789.5,275.35 L790.0,276.54 L790.5,277.49 L791.0,278.25 L791.5,278.85 L792.0,279.32 L792.5,279.69 L793.0,279.98 L793.5,280.20 L794.0,280.39 L794.5,280.53 L795.0,280.66 L795.5,280.76 L796.0,280.85 L796.5,280.93 L797.0,280.99 L797.5,281.06 L798.0,281.11 L798.5,281.16 L799.0,281.21 L799.5,281.25 L800.0,281.29 L800.5,281.33 L801.0,281.36 L801.5,281.40 L802.0,281.43 L802.5,281.45 L803.0,281.48 L803.5,281.50 L804.0,281.53 L804.5,281.55 L805.0,281.57 L805.5,281.59 L806.0,281.61 L806.5,281.62 L807.0,281.64 L807.5,281.65 L808.0,281.67 L808.5,281.68 L809.0,281.69 L809.5,281.71 L810.0,281.72 L810.5,281.73 L811.0,281.74 L811.5,281.75 L812.0,281.76 L812.5,281.77 L813.0,281.78 L813.5,281.79 L814.0,281.79 L814.5,281.80 L815.0,281.81 L815.5,281.82 L816.0,281.82 L816.5,281.83 L817.0,281.84 L817.5,281.84 L818.0,281.85 L818.5,281.85 L819.0,281.86 L819.5,281.86 L820.0,281.87 L820.5,281.87 L821.0,281.88 L821.5,281.88 L822.0,281.89 L822.5,281.89 L823.0,281.90 L823.5,281.90 L824.0,281.90 L824.5,281.91 L825.0,281.91 L825.5,281.91 L826.0,281.92 L826.5,281.92 L827.0,281.92 L827.5,281.93 L828.0,281.93 L828.5,281.93 L829.0,281.94 L829.5,281.94 L830.0,281.94 L830.5,281.94 L831.0,281.95 L831.5,281.95 L832.0,281.95 L832.5,281.95 L833.0,281.96 L833.5,281.96 L834.0,281.96 L834.5,281.96 L835.0,281.96 L835.5,281.97 L836.0,281.97 L836.5,281.97 L837.0,281.97 L837.5,281.97 L838.0,281.98 L838.5,281.98 L839.0,281.98 L839.5,281.98 L840.0,281.98 L840.5,281.98 L841.0,281.98 L841.5,281.99 L842.0,281.99 L842.5,281.99 L843.0,281.99 L843.5,281.99 L844.0,281.99 L844.5,281.99 L845.0,282.00 L845.5,282.00 L846.0,282.00 L846.5,282.00 L847.0,282.00 L847.5,282.00 L848.0,282.00 L848.5,282.00 L849.0,282.00 L849.5,282.01 L850.0,282.01 L850.5,282.01 L851.0,282.01 L851.5,282.01 L852.0,282.01 L852.5,282.01 L853.0,282.01 L853.5,282.01 L854.0,282.01 L854.5,282.02 L855.0,282.02 L855.5,282.02 L856.0,282.02 L856.5,282.02 L857.0,282.02 L857.5,282.02 L858.0,282.02 L858.5,282.02 L859.0,282.02 L859.5,282.02 L860.0,282.02 L860.5,282.02 L861.0,282.03 L861.5,282.03 L862.0,282.03 L862.5,282.03 L863.0,282.03 L863.5,282.03 L864.0,282.03 L864.5,282.03 L865.0,282.03 L865.5,282.03 L866.0,282.03 L866.5,282.03 L867.0,282.03 L867.5,282.03 L868.0,282.03 L868.5,282.03 L869.0,282.04 L869.5,282.04 L870.0,282.04 L870.5,282.04 L871.0,282.04 L871.5,282.04 L872.0,282.04 L872.5,282.04 L873.0,282.04 L873.5,282.04 L874.0,282.04 L874.5,282.04 L875.0,282.04 L875.5,282.04 L876.0,282.04 L876.5,282.04 L877.0,282.04 L877.5,282.04 L878.0,282.04 L878.5,282.04 L879.0,282.04 L879.5,282.04 L880.0,282.04 L880.5,282.05 L881.0,282.05 L881.5,282.05 L882.0,282.05 L882.5,282.05 L883.0,282.05 L883.5,282.05 L884.0,282.05 L884.5,282.05 L885.0,282.05 L885.5,282.05 L886.0,282.05 L886.5,282.05 L887.0,282.05 L887.5,282.05 L888.0,282.05 L888.5,282.05 L889.0,282.05 L889.5,282.05 L890.0,282.05 L890.5,282.05 L891.0,282.05 L891.5,282.05 L892.0,282.05 L892.5,282.05 L893.0,282.05 L893.5,282.05 L894.0,282.05 L894.5,282.05 L895.0,282.05 L895.5,282.05 L896.0,282.05 L896.5,282.06 L897.0,282.06 L897.5,282.06 L898.0,282.06 L898.5,282.06 L899.0,282.06 L899.5,282.06 L900.0,282.06 L900.5,282.06 L901.0,282.06 L901.5,282.06 L902.0,282.06 L902.5,282.06 L903.0,282.06 L903.5,282.06 L904.0,282.06 L904.5,282.06 L905.0,282.06 L905.5,282.06 L906.0,282.06 L906.5,282.06 L907.0,282.06 L907.5,282.06 L908.0,282.06 L908.5,282.06 L909.0,282.06 L909.5,282.06 L910.0,282.06 L910.5,282.06 L911.0,282.06 L911.5,282.06 L912.0,282.06 L912.5,282.06 L913.0,282.06 L913.5,282.06 L914.0,282.06 L914.5,282.06 L915.0,282.06 L915.5,282.06 L916.0,282.06 L916.5,282.06 L917.0,282.06 L917.5,282.06 L918.0,282.06 L918.5,282.06 L919.0,282.06 L919.5,282.06 L920.0,282.06 L920.5,282.06 L921.0,282.06 L921.5,282.06 L922.0,282.06 L922.5,282.06 L923.0,282.06 L923.5,282.06 L924.0,282.06 L924.5,282.07 L925.0,282.07 L925.5,282.07 L926.0,282.07 L926.5,282.07 L927.0,282.07 L927.5,282.07 L928.0,282.07 L928.5,282.07 L929.0,282.07 L929.5,282.07 L930.0,282.07 L930.5,282.07 L931.0,282.07 L931.5,282.07 L932.0,282.07 L932.5,282.07 L933.0,282.07 L933.5,282.07 L934.0,282.07 L934.5,282.07 L935.0,282.07 L935.5,282.07 L936.0,282.07 L936.5,282.07 L937.0,282.07 L937.5,282.07 L938.0,282.07 L938.5,282.07 L939.0,282.07 L939.5,282.07 L940.0,282.07 L940.5,282.07 L941.0,282.07 L941.5,282.07 L942.0,282.07 L942.5,282.07 L943.0,282.07 L943.5,282.07 L944.0,282.07 L944.5,282.07 L945.0,282.07 L945.5,282.07 L946.0,282.07 L946.5,282.07 L947.0,282.07 L947.5,282.07 L948.0,282.07 L948.5,282.07 L949.0,282.07 L949.5,282.07 L950.0,282.07 L950.5,282.07 L951.0,282.07 L951.5,282.07 L952.0,282.07 L952.5,282.07 L953.0,282.07 L953.5,282.07 L954.0,282.07 L954.5,282.07 L955.0,282.07 L955.5,282.07 L956.0,282.07 L956.5,282.07 L957.0,282.07 L957.5,282.07 L958.0,282.06 L958.5,282.04 L959.0,282.02 L959.5,281.98 L960.0,281.93 L960.5,281.89 L961.0,281.85 L961.5,281.81 L962.0,281.77 L962.5,281.72 L963.0,281.68 L963.5,281.63 L964.0,281.58 L964.5,281.53 L965.0,281.49 L965.5,281.43 L966.0,281.33 L966.5,281.23 L967.0,281.13 L967.5,281.03 L968.0,280.93 L968.5,280.82 L969.0,280.66 L969.5,280.50 L970.0,280.34 L970.5,280.18 L971.0,280.01 L971.5,279.78 L972.0,279.50 L972.5,279.23 L973.0,278.95 L973.5,278.67 L974.0,278.33 L974.5,277.92 L975.0,277.50 L975.5,277.08 L976.0,276.67 L976.5,276.16 L977.0,275.60 L977.5,275.04 L978.0,274.30 L978.5,273.30 L979.0,271.90 L979.5,269.80 L980.0,268.22 L980.5,267.21 L981.0,266.43 L981.5,266.38 L982.0,266.33 L982.5,266.76 L983.0,267.20 L983.5,267.82 L984.0,268.56 L984.5,269.44 L985.0,270.54 L985.5,271.68 L986.0,272.88 L986.5,274.12 L987.0,275.42 L987.5,276.60 L988.0,277.60 L988.5,278.55 L989.0,279.30 L989.5,280.05 L990.0,280.58 L990.5,281.06 L991.0,281.43 L991.5,281.64 L992.0,281.85 L992.5,281.97 L993.0,282.06 L993.5,282.09 L994.0,282.08 L994.5,282.08 L995.0,282.07 L995.5,282.07 L996.0,282.07 L996.5,282.07 L997.0,282.07 L997.5,282.07 L998.0,282.07 L998.5,282.07 L999.0,282.07 L999.5,282.07 L1000.0,282.07 L1000.5,282.07 L1001.0,282.07 L1001.5,282.07 L1002.0,282.07 L1002.5,282.07 L1003.0,282.07 L1003.5,282.07 L1004.0,282.07 L1004.5,282.07 L1005.0,282.07 L1005.5,282.07 L1006.0,282.07 L1006.5,282.07 L1007.0,282.07 L1007.5,282.07 L1008.0,282.07 L1008.5,282.07 L1009.0,282.07 L1009.5,282.07 L1010.0,282.07 L1010.5,282.07 L1011.0,282.07 L1011.5,282.07 L1012.0,282.07 L1012.5,282.07 L1013.0,282.07 L1013.5,282.07 L1014.0,282.07 L1014.5,282.07 L1015.0,282.07 L1015.5,282.07 L1016.0,282.07 L1016.5,282.07 L1017.0,282.07 L1017.5,282.07 L1018.0,282.07 L1018.5,282.07 L1019.0,282.07 L1019.5,282.07 L1020.0,282.07 L1020.5,282.07 L1021.0,282.07 L1021.5,282.07 L1022.0,282.07 L1022.5,282.07 L1023.0,282.07 L1023.5,282.07 L1024.0,282.07 L1024.5,282.07 L1025.0,282.07 L1025.5,282.07 L1026.0,282.07 L1026.5,282.07 L1027.0,282.07 L1027.5,282.07 L1028.0,282.07 L1028.5,282.07 L1029.0,282.07 L1029.5,282.07 L1030.0,282.06 L1030.5,282.03 L1031.0,282.00 L1031.5,281.94 L1032.0,281.86 L1032.5,281.80 L1033.0,281.75 L1033.5,281.69 L1034.0,281.62 L1034.5,281.56 L1035.0,281.50 L1035.5,281.42 L1036.0,281.25 L1036.5,281.08 L1037.0,280.92 L1037.5,280.75 L1038.0,280.44 L1038.5,280.14 L1039.0,279.83 L1039.5,279.46 L1040.0,278.98 L1040.5,278.49 L1041.0,277.82 L1041.5,277.02 L1042.0,276.18 L1042.5,275.26 L1043.0,274.47 L1043.5,274.08 L1044.0,273.76 L1044.5,273.54 L1045.0,273.33 L1045.5,273.17 L1046.0,273.29 L1046.5,273.41 L1047.0,273.70 L1047.5,274.26 L1048.0,274.82 L1048.5,275.35 L1049.0,275.88 L1049.5,276.40 L1050.0,276.90 L1050.5,277.40 L1051.0,277.90 L1051.5,278.34 L1052.0,278.78 L1052.5,279.21 L1053.0,279.60 L1053.5,279.97 L1054.0,280.35 L1054.5,280.66 L1055.0,280.93 L1055.5,281.19 L1056.0,281.41 L1056.5,281.57 L1057.0,281.73 L1057.5,281.87 L1058.0,281.95 L1058.5,282.04 L1059.0,282.09 L1059.5,282.09 L1060.0,282.08 L1060.5,282.07 L1061.0,282.07 L1061.5,282.07 L1062.0,282.07 L1062.5,282.07 L1063.0,282.07 L1063.5,282.07 L1064.0,282.07 L1064.5,282.07 L1065.0,282.07 L1065.5,282.07 L1066.0,282.07 L1066.5,282.07 L1067.0,282.07 L1067.5,282.07 L1068.0,282.07 L1068.5,282.07 L1069.0,282.07 L1069.5,282.07 L1070.0,282.07 L1070.5,282.07 L1071.0,282.07 L1071.5,282.07 L1072.0,282.07 L1072.5,282.07 L1073.0,282.07 L1073.5,282.07 L1074.0,282.07 L1074.5,282.07 L1075.0,282.07 L1075.5,282.07 L1076.0,282.07 L1076.5,282.07 L1077.0,282.07 L1077.5,282.07 L1078.0,282.07 L1078.5,282.07 L1079.0,282.07 L1079.5,282.07 L1080.0,282.07 L1080.5,282.07 L1081.0,282.07 L1081.5,282.07 L1082.0,282.07 L1082.5,282.07 L1083.0,282.07 L1083.5,282.06 L1084.0,282.06 L1084.5,282.06 L1085.0,282.06 L1085.5,282.06 L1086.0,282.06 L1086.5,282.06 L1087.0,282.06 L1087.5,282.06 L1088.0,282.06 L1088.5,282.06 L1089.0,282.06 L1089.5,282.06 L1090.0,282.06 L1090.5,282.06 L1091.0,282.06 L1091.5,282.06 L1092.0,282.06 L1092.5,282.06 L1093.0,282.06 L1093.5,282.06 L1094.0,282.06 L1094.5,282.06 L1095.0,282.06 L1095.5,282.06 L1096.0,282.06 L1096.5,282.06 L1097.0,282.06 L1097.5,282.06 L1098.0,282.06 L1098.5,282.06 L1099.0,282.06 L1099.5,282.06 L1100.0,282.06 L1100.5,282.06 L1101.0,282.06 L1101.5,282.06 L1102.0,282.06 L1102.5,282.06 L1103.0,282.06 L1103.5,282.06 L1104.0,282.06 L1104.5,282.06 L1105.0,282.06 L1105.5,282.06 L1106.0,282.06 L1106.5,282.05 L1107.0,282.05 L1107.5,282.05 L1108.0,282.05 L1108.5,282.05 L1109.0,282.05 L1109.5,282.05 L1110.0,282.05 L1110.5,282.05 L1111.0,282.05 L1111.5,282.05 L1112.0,282.05 L1112.5,282.05 L1113.0,282.05 L1113.5,282.05 L1114.0,282.05 L1114.5,282.05 L1115.0,282.05 L1115.5,282.05 L1116.0,282.05 L1116.5,282.05 L1117.0,282.05 L1117.5,282.05 L1118.0,282.05 L1118.5,282.04 L1119.0,282.04 L1119.5,282.04 L1120.0,282.04 L1120.5,282.04 L1121.0,282.04 L1121.5,282.04 L1122.0,282.04 L1122.5,282.04 L1123.0,282.04 L1123.5,282.04 L1124.0,282.04 L1124.5,282.04 L1125.0,282.04 L1125.5,282.04 L1126.0,282.03 L1126.5,282.03 L1127.0,282.03 L1127.5,282.03 L1128.0,282.03 L1128.5,282.03 L1129.0,282.03 L1129.5,282.03 L1130.0,282.03 L1130.5,282.03 L1131.0,282.02 L1131.5,282.02 L1132.0,282.02 L1132.5,282.02 L1133.0,282.02 L1133.5,282.02 L1134.0,282.02 L1134.5,282.02 L1135.0,282.01 L1135.5,282.01 L1136.0,282.01 L1136.5,282.01 L1137.0,282.01 L1137.5,282.01 L1138.0,282.00 L1138.5,282.00 L1139.0,282.00 L1139.5,282.00 L1140.0,282.00 L1140.5,281.99 L1141.0,281.99 L1141.5,281.99 L1142.0,281.99 L1142.5,281.98 L1143.0,281.98 L1143.5,281.98 L1144.0,281.98 L1144.5,281.97 L1145.0,281.97 L1145.5,281.97 L1146.0,281.96 L1146.5,281.96 L1147.0,281.95 L1147.5,281.95 L1148.0,281.95 L1148.5,281.94 L1149.0,281.94 L1149.5,281.93 L1150.0,281.92 L1150.5,281.92 L1151.0,281.91 L1151.5,281.90 L1152.0,281.90 L1152.5,281.89 L1153.0,281.88 L1153.5,281.87 L1154.0,281.86 L1154.5,281.85 L1155.0,281.84 L1155.5,281.83 L1156.0,281.82 L1156.5,281.80 L1157.0,281.79 L1157.5,281.77 L1158.0,281.75 L1158.5,281.73 L1159.0,281.71 L1159.5,281.68 L1160.0,281.65 L1160.5,281.61 L1161.0,281.56 L1161.5,281.49 L1162.0,281.41 L1162.5,281.31 L1163.0,281.17 L1163.5,280.99 L1164.0,280.77 L1164.5,280.48 L1165.0,280.11 L1165.5,279.64 L1166.0,279.07 L1166.5,278.38 L1167.0,277.55 L1167.5,276.58 L1168.0,275.46 L1168.5,274.20 L1169.0,272.82 L1169.5,271.33 L1170.0,269.76 L1170.5,268.17 L1171.0,266.60 L1171.5,265.11 L1172.0,263.77 L1172.5,262.65 L1173.0,261.82 L1173.5,261.32 L1174.0,261.21 L1174.5,261.48 L1175.0,262.11 L1175.5,263.07 L1176.0,264.28 L1176.5,265.69 L1177.0,267.22 L1177.5,268.81 L1178.0,270.39 L1178.5,271.93 L1179.0,273.38 L1179.5,274.72 L1180.0,275.92 L1180.5,276.98 L1181.0,277.89 L1181.5,278.67 L1182.0,279.31 L1182.5,279.83 L1183.0,280.26 L1183.5,280.60 L1184.0,280.86 L1184.5,281.06 L1185.0,281.22 L1185.5,281.35 L1186.0,281.44 L1186.5,281.51 L1187.0,281.57 L1187.5,281.62 L1188.0,281.65 L1188.5,281.68 L1189.0,281.71 L1189.5,281.73 L1190.0,281.75 L1190.5,281.77 L1191.0,281.79 L1191.5,281.80 L1192.0,281.81 L1192.5,281.82 L1193.0,281.84 L1193.5,281.85 L1194.0,281.86 L1194.5,281.87 L1195.0,281.87 L1195.5,281.88 L1196.0,281.89 L1196.5,281.90 L1197.0,281.90 L1197.5,281.91 L1198.0,281.91 L1198.5,281.92 L1199.0,281.92 L1199.5,281.93 L1200.0,281.93 L1200.5,281.94 L1201.0,281.94 L1201.5,281.94 L1202.0,281.95 L1202.5,281.95 L1203.0,281.95 L1203.5,281.96 L1204.0,281.96 L1204.5,281.96 L1205.0,281.97 L1205.5,281.97 L1206.0,281.97 L1206.5,281.97 L1207.0,281.97 L1207.5,281.98 L1208.0,281.98 L1208.5,281.98 L1209.0,281.98 L1209.5,281.98 L1210.0,281.98 L1210.5,281.99 L1211.0,281.99 L1211.5,281.99 L1212.0,281.99 L1212.5,281.99 L1213.0,281.99 L1213.5,281.99 L1214.0,281.99 L1214.5,282.00 L1215.0,282.00 L1215.5,282.00 L1216.0,282.00 L1216.5,282.00 L1217.0,282.00 L1217.5,282.00 L1218.0,282.00 L1218.5,282.00 L1219.0,282.00 L1219.5,282.00 L1220.0,282.00 L1220.5,282.00 L1221.0,282.01 L1221.5,282.01 L1222.0,282.01 L1222.5,282.01 L1223.0,282.01 L1223.5,282.01 L1224.0,282.01 L1224.5,282.01 L1225.0,282.01 L1225.5,282.01 L1226.0,282.01 L1226.5,282.01 L1227.0,282.01 L1227.5,282.01 L1228.0,282.01 L1228.5,282.01 L1229.0,282.01 L1229.5,282.01 L1230.0,282.01 L1230.5,282.01 L1231.0,282.01 L1231.5,282.01 L1232.0,282.01 L1232.5,282.01 L1233.0,282.01 L1233.5,282.01 L1234.0,282.01 L1234.5,282.01 L1235.0,282.01 L1235.5,282.01 L1236.0,282.01 L1236.5,282.01 L1237.0,282.01 L1237.5,282.01 L1238.0,282.01 L1238.5,282.01 L1239.0,282.01 L1239.5,282.01 L1240.0,282.01 L1240.5,282.01 L1241.0,282.01 L1241.5,282.01 L1242.0,282.01 L1242.5,282.01 L1243.0,282.01 L1243.5,282.01 L1244.0,282.01 L1244.5,282.01 L1245.0,282.01 L1245.5,282.01 L1246.0,282.01 L1246.5,282.01 L1247.0,282.01 L1247.5,282.01 L1248.0,282.01 L1248.5,282.01 L1249.0,282.01 L1249.5,282.01 L1250.0,282.01 L1250.5,282.01 L1251.0,282.01 L1251.5,282.01 L1252.0,282.01 L1252.5,282.01 L1253.0,282.01 L1253.5,282.01 L1254.0,282.00 L1254.5,282.00 L1255.0,282.00 L1255.5,282.00 L1256.0,282.00 L1256.5,282.00 L1257.0,282.00 L1257.5,282.00 L1258.0,282.00 L1258.5,282.00 L1259.0,282.00 L1259.5,282.00 L1260.0,282.00 L1260.5,282.00 L1261.0,282.00 L1261.5,282.00 L1262.0,282.00 L1262.5,282.00 L1263.0,282.00 L1263.5,282.00 L1264.0,282.00 L1264.5,282.00 L1265.0,282.00 L1265.5,281.99 L1266.0,281.99 L1266.5,281.99 L1267.0,281.99 L1267.5,281.99 L1268.0,281.99 L1268.5,281.99 L1269.0,281.99 L1269.5,281.99 L1270.0,281.99 L1270.5,281.99 L1271.0,281.99 L1271.5,281.99 L1272.0,281.99 L1272.5,281.99 L1273.0,281.99 L1273.5,281.98 L1274.0,281.98 L1274.5,281.98 L1275.0,281.98 L1275.5,281.98 L1276.0,281.98 L1276.5,281.98 L1277.0,281.98 L1277.5,281.98 L1278.0,281.98 L1278.5,281.98 L1279.0,281.98 L1279.5,281.98 L1280.0,281.97 L1280.5,281.97 L1281.0,281.97 L1281.5,281.97 L1282.0,281.97 L1282.5,281.97 L1283.0,281.97 L1283.5,281.97 L1284.0,281.97 L1284.5,281.97 L1285.0,281.97 L1285.5,281.97 L1286.0,281.96 L1286.5,281.96 L1287.0,281.96 L1287.5,281.96 L1288.0,281.96 L1288.5,281.96 L1289.0,281.96 L1289.5,281.96 L1290.0,281.96 L1290.5,281.95 L1291.0,281.95 L1291.5,281.95 L1292.0,281.95 L1292.5,281.95 L1293.0,281.95 L1293.5,281.95 L1294.0,281.95 L1294.5,281.95 L1295.0,281.94 L1295.5,281.94 L1296.0,281.94 L1296.5,281.94 L1297.0,281.94 L1297.5,281.94 L1298.0,281.94 L1298.5,281.93 L1299.0,281.93 L1299.5,281.93 L1300.0,281.93 L1300.5,281.93 L1301.0,281.93 L1301.5,281.93 L1302.0,281.92 L1302.5,281.92 L1303.0,281.92 L1303.5,281.92 L1304.0,281.92 L1304.5,281.92 L1305.0,281.92 L1305.5,281.91 L1306.0,281.91 L1306.5,281.91 L1307.0,281.91 L1307.5,281.91 L1308.0,281.90 L1308.5,281.90 L1309.0,281.90 L1309.5,281.90 L1310.0,281.90 L1310.5,281.89 L1311.0,281.89 L1311.5,281.89 L1312.0,281.89 L1312.5,281.89 L1313.0,281.88 L1313.5,281.88 L1314.0,281.88 L1314.5,281.88 L1315.0,281.88 L1315.5,281.87 L1316.0,281.87 L1316.5,281.87 L1317.0,281.87 L1317.5,281.86 L1318.0,281.86 L1318.5,281.86 L1319.0,281.86 L1319.5,281.85 L1320.0,281.85 L1320.5,281.85 L1321.0,281.85 L1321.5,281.84 L1322.0,281.84 L1322.5,281.84 L1323.0,281.83 L1323.5,281.83 L1324.0,281.83 L1324.5,281.82 L1325.0,281.82 L1325.5,281.82 L1326.0,281.81 L1326.5,281.81 L1327.0,281.81 L1327.5,281.80 L1328.0,281.80 L1328.5,281.80 L1329.0,281.79 L1329.5,281.79 L1330.0,281.79 L1330.5,281.78 L1331.0,281.78 L1331.5,281.77 L1332.0,281.77 L1332.5,281.77 L1333.0,281.76 L1333.5,281.76 L1334.0,281.75 L1334.5,281.75 L1335.0,281.74 L1335.5,281.74 L1336.0,281.73 L1336.5,281.73 L1337.0,281.72 L1337.5,281.72 L1338.0,281.71 L1338.5,281.71 L1339.0,281.70 L1339.5,281.70 L1340.0,281.69 L1340.5,281.68 L1341.0,281.68 L1341.5,281.67 L1342.0,281.66 L1342.5,281.66 L1343.0,281.65 L1343.5,281.64 L1344.0,281.64 L1344.5,281.63 L1345.0,281.62 L1345.5,281.61 L1346.0,281.61 L1346.5,281.60 L1347.0,281.59 L1347.5,281.58 L1348.0,281.57 L1348.5,281.56 L1349.0,281.55 L1349.5,281.54 L1350.0,281.53 L1350.5,281.52 L1351.0,281.51 L1351.5,281.50 L1352.0,281.49 L1352.5,281.48 L1353.0,281.47 L1353.5,281.45 L1354.0,281.44 L1354.5,281.43 L1355.0,281.42 L1355.5,281.40 L1356.0,281.39 L1356.5,281.37 L1357.0,281.36 L1357.5,281.34 L1358.0,281.33 L1358.5,281.31 L1359.0,281.29 L1359.5,281.28 L1360.0,281.26 L1360.5,281.24 L1361.0,281.22 L1361.5,281.20 L1362.0,281.18 L1362.5,281.16 L1363.0,281.14 L1363.5,281.12 L1364.0,281.09 L1364.5,281.07 L1365.0,281.05 L1365.5,281.02 L1366.0,281.00 L1366.5,280.97 L1367.0,280.94 L1367.5,280.91 L1368.0,280.89 L1368.5,280.86 L1369.0,280.83 L1369.5,280.79 L1370.0,280.76 L1370.5,280.73 L1371.0,280.70 L1371.5,280.66 L1372.0,280.62 L1372.5,280.59 L1373.0,280.55 L1373.5,280.51 L1374.0,280.47 L1374.5,280.43 L1375.0,280.39 L1375.5,280.35 L1376.0,280.30 L1376.5,280.26 L1377.0,280.21 L1377.5,280.17 L1378.0,280.12 L1378.5,280.07 L1379.0,280.02 L1379.5,279.97 L1380.0,279.92 L1380.5,279.87 L1381.0,279.81 L1381.5,279.76 L1382.0,279.70 L1382.5,279.65 L1383.0,279.59 L1383.5,279.53 L1384.0,279.47 L1384.5,279.41 L1385.0,279.35 L1385.5,279.29 L1386.0,279.23 L1386.5,279.17 L1387.0,279.10 L1387.5,279.04 L1388.0,278.98 L1388.5,278.91 L1389.0,278.85 L1389.5,278.79 L1390.0,278.72 L1390.5,278.66 L1391.0,278.60 L1391.5,278.54 L1392.0,278.48 L1392.5,278.42 L1393.0,278.36 L1393.5,278.30 L1394.0,278.24 L1394.5,278.19 L1395.0,278.14 L1395.5,278.09 L1396.0,278.04 L1396.5,277.99 L1397.0,277.95 L1397.5,277.91 L1398.0,277.87 L1398.5,277.84 L1399.0,277.81 L1399.5,277.78 L1400.0,277.76 L1400.5,277.74 L1401.0,277.72 L1401.5,277.71 L1402.0,277.70 L1402.5,277.70 L1403.0,277.70 L1403.5,277.71 L1404.0,277.71 L1404.5,277.73 L1405.0,277.74 L1405.5,277.76 L1406.0,277.79 L1406.5,277.81 L1407.0,277.85 L1407.5,277.88 L1408.0,277.92 L1408.5,277.96 L1409.0,278.00 L1409.5,278.05 L1410.0,278.10 L1410.5,278.15 L1411.0,278.20 L1411.5,278.26 L1412.0,278.31 L1412.5,278.37 L1413.0,278.43 L1413.5,278.49 L1414.0,278.55 L1414.5,278.61 L1415.0,278.67 L1415.5,278.74 L1416.0,278.80 L1416.5,278.86 L1417.0,278.93 L1417.5,278.99 L1418.0,279.05 L1418.5,279.12 L1419.0,279.18 L1419.5,279.24 L1420.0,279.30 L1420.5,279.36 L1421.0,279.42 L1421.5,279.48 L1422.0,279.54 L1422.5,279.60 L1423.0,279.66 L1423.5,279.71 L1424.0,279.77 L1424.5,279.82 L1425.0,279.88 L1425.5,279.93 L1426.0,279.98 L1426.5,280.03 L1427.0,280.08 L1427.5,280.13 L1428.0,280.18 L1428.5,280.22 L1429.0,280.27 L1429.5,280.31 L1430.0,280.36 L1430.5,280.40 L1431.0,280.44 L1431.5,280.48 L1432.0,280.52 L1432.5,280.56 L1433.0,280.60 L1433.5,280.63 L1434.0,280.67 L1434.5,280.70 L1435.0,280.74 L1435.5,280.77 L1436.0,280.80 L1436.5,280.83 L1437.0,280.86 L1437.5,280.89 L1438.0,280.92 L1438.5,280.95 L1439.0,280.98 L1439.5,281.00 L1440.0,281.03 L1440.5,281.05 L1441.0,281.08 L1441.5,281.10 L1442.0,281.12 L1442.5,281.14 L1443.0,281.17 L1443.5,281.19 L1444.0,281.21 L1444.5,281.23 L1445.0,281.25 L1445.5,281.26 L1446.0,281.28 L1446.5,281.30 L1447.0,281.32 L1447.5,281.33 L1448.0,281.35 L1448.5,281.36 L1449.0,281.38 L1449.5,281.39 L1450.0,281.41 L1450.5,281.42 L1451.0,281.43 L1451.5,281.45 L1452.0,281.46 L1452.5,281.47 L1453.0,281.48 L1453.5,281.49 L1454.0,281.51 L1454.5,281.52 L1455.0,281.53 L1455.5,281.54 L1456.0,281.55 L1456.5,281.56 L1457.0,281.57 L1457.5,281.58 L1458.0,281.58 L1458.5,281.59 L1459.0,281.60 L1459.5,281.61 L1460.0,281.62 L1460.5,281.63 L1461.0,281.63 L1461.5,281.64 L1462.0,281.65 L1462.5,281.65 L1463.0,281.66 L1463.5,281.67 L1464.0,281.67 L1464.5,281.68" stroke="#4bacc6" stroke-width="3.2"/>
</g>
<path d="M89.2,0 V821" stroke="#2b2b2b" stroke-width="1.9" fill="none"/>
<path d="M89.2,821 H1464.5" stroke="#111" stroke-width="1.9" stroke-linecap="round" fill="none"/>

<g fill="#fff" stroke="#bfbfbf" stroke-width="1.3">
<rect x="1264.8" y="287.5" width="229.3" height="33.8"/>
<rect x="1280.7" y="517.2" width="216.6" height="38.9"/>
<rect x="1290" y="616" width="204.6" height="33.5"/>
<rect x="1307.5" y="784" width="183.5" height="31"/>
</g>
<g font-size="30.3" fill="#000">
<text transform="translate(1287.5,315.6) scale(1.01,1.07)">100 h oxidation</text>
<text transform="translate(1303.5,547) scale(1.014,1.07)">24 h oxidation</text>
<text transform="translate(1317.5,643.7) scale(1.008,1.07)">8 h oxidation</text>
<text transform="translate(1327,810.6) scale(1,1.07)">As-received</text>
</g>
<g fill="#000"><use href="#mc" x="188.3" y="243.7"/>
<use href="#mc" x="369" y="231"/>
<use href="#mp" x="400.1" y="235.5"/>
<use href="#mh" x="416.6" y="219"/>
<use href="#mc" x="522" y="248"/>
<use href="#mtd" x="566" y="215.3"/>
<use href="#mc" x="578.7" y="257.6"/>
<use href="#mtu" x="688.7" y="239.5"/>
<use href="#md" x="704.7" y="230.1"/>
<use href="#mp" x="742" y="249.3"/>
<use href="#mc" x="783.3" y="221.3"/>
<use href="#mc" x="983.3" y="249.3"/>
<use href="#ms8" x="1043.7" y="257.1"/>
<use href="#ms4" transform="translate(1173.95,237.1) scale(1.052,0.974)"/>
<use href="#mc" x="1402.9" y="257.7"/>
<use href="#mc" x="408.2" y="298.8"/>
<use href="#ms5" transform="translate(436.3,394.6) scale(1.03,0.97)"/>
<use href="#ms5" x="304.2" y="437"/>
<use href="#mtu" x="555.3" y="338"/>
<use href="#mtd" x="566" y="431.5"/>
<use href="#md" x="706.7" y="471.8"/>
<use href="#ms5" x="764.45" y="485.4"/>
<use href="#mc" x="783.4" y="480.7"/>
<use href="#mc" x="835" y="450.3"/>
<use href="#mc" x="941.7" y="425.5"/>
<use href="#mc" x="978" y="487"/>
<use href="#ms4" transform="translate(1178.05,473.6) scale(0.971,1.052)"/>
<use href="#ms8" x="1259.9" y="487"/>
<use href="#mc" x="183.5" y="577.3"/>
<use href="#mc" x="365.2" y="569.9"/>
<use href="#mp" x="397" y="583"/>
<use href="#mc" x="410.3" y="563.4"/>
<use href="#mc" x="517.2" y="585.1"/>
<use href="#mtd" x="564.4" y="499.5"/>
<use href="#mtu" x="686.7" y="579"/>
<use href="#md" x="701.9" y="556.6"/>
<use href="#mp" x="745" y="587"/>
<use href="#ms5" transform="translate(762.5,588.8) scale(1.04,0.93)"/>
<use href="#mc" x="780.3" y="570"/>
<use href="#mc" x="946.7" y="586.7"/>
<use href="#mc" x="976.8" y="584.7"/>
<use href="#mtu" x="550.2" y="599"/>
<use href="#mtu" x="690" y="774.5"/>
<use href="#mtu" x="1155.8" y="799.5"/>
<use href="#mtu" x="1046.6" y="33.8"/>
<use href="#mtd" x="1048.45" y="76.7"/>
<use href="#mc" transform="translate(1049.7,119.8) scale(1.02,1.02)"/>
<use href="#md" x="1195.4" y="35.5"/>
<use href="#ms8" x="1192.8" y="76.75"/>
<use href="#mp" transform="translate(1191.3,115.8) scale(1.05,0.985)"/>
<use href="#ms4" x="1342.5" y="39.2"/>
<use href="#mh" transform="translate(1341.35,78.15) scale(1.0,1.025)"/>
<use href="#ms5" x="1341" y="118"/></g>

<g font-size="26" fill="#000">
<text transform="translate(1068.8,41.9) scale(1.015,1.075)">γ matriks</text>
<text transform="translate(1070,87.1) scale(1.015,1.075)">Ni<tspan dy="5.2" font-size="17.5">3</tspan><tspan dy="-5.2" font-size="0.1"> </tspan>Al</text>
<text transform="translate(1071.8,125.3) scale(1.015,1.075)">Cr<tspan dy="5.2" font-size="17.5">2</tspan><tspan dy="-5.2" font-size="0.1"> </tspan>O<tspan dy="5.2" font-size="17.5">3</tspan><tspan dy="-5.2" font-size="0.1"> </tspan></text>
<text transform="translate(1216.8,43.2) scale(1.015,1.075)">TiNb<tspan dy="5.2" font-size="17.5">2</tspan><tspan dy="-5.2" font-size="0.1"> </tspan>O<tspan dy="5.2" font-size="17.5">7</tspan><tspan dy="-5.2" font-size="0.1"> </tspan></text>
<text transform="translate(1217.5,87) scale(1.015,1.075)">TiO<tspan dy="5.2" font-size="17.5">2</tspan><tspan dy="-5.2" font-size="0.1"> </tspan></text>
<text transform="translate(1213.5,125.8) scale(1.015,1.075)">CrNbO<tspan dy="5.2" font-size="17.5">4</tspan><tspan dy="-5.2" font-size="0.1"> </tspan></text>
<text transform="translate(1364.5,47.9) scale(1.015,1.075)">NiO</text>
<text transform="translate(1363,87.0) scale(1.015,1.075)">CrMoO<tspan dy="5.2" font-size="17.5">4</tspan><tspan dy="-5.2" font-size="0.1"> </tspan></text>
<text transform="translate(1363,127.2) scale(1.015,1.075)">NiCr<tspan dy="5.2" font-size="17.5">2</tspan><tspan dy="-5.2" font-size="0.1"> </tspan>O<tspan dy="5.2" font-size="17.5">4</tspan><tspan dy="-5.2" font-size="0.1"> </tspan></text>
</g>
<g font-size="27" font-weight="bold" fill="#000"><text x="90.0" y="861" text-anchor="middle">20</text><text x="286.4" y="861" text-anchor="middle">30</text><text x="482.7" y="861" text-anchor="middle">40</text><text x="679.1" y="861" text-anchor="middle">50</text><text x="875.4" y="861" text-anchor="middle">60</text><text x="1071.8" y="861" text-anchor="middle">70</text><text x="1268.1" y="861" text-anchor="middle">80</text><text x="1464.5" y="861" text-anchor="middle">90</text></g>
<text transform="translate(656.8,915.6) scale(1.014,0.98)" font-size="52.5" font-weight="bold" fill="#000">2θ(degree)</text>
<text transform="translate(39.8,529.3) rotate(-90) scale(1.005,1.03)" font-size="53" font-weight="bold" fill="#000">Intensity</text>
</svg>
</body></html>
